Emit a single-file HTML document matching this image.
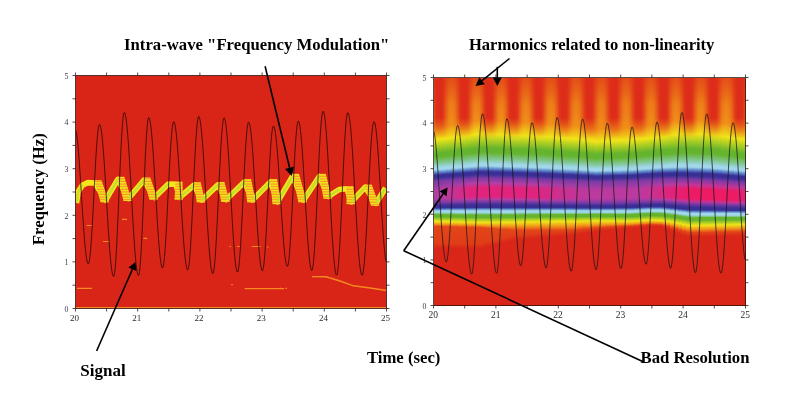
<!DOCTYPE html>
<html><head><meta charset="utf-8"><title>Hilbert vs wavelet spectrum</title>
<style>
html,body{margin:0;padding:0;background:#fff}
body{width:785px;height:402px;overflow:hidden;position:relative}
svg{position:absolute;left:0;top:0;display:block}
text{font-family:"Liberation Serif",serif}
.tk{fill:#2b2b2b}
.ty{font-size:7.8px;fill:#3a3a4a}
.lb{font-size:16.7px;font-weight:bold;fill:#000}
</style></head><body>
<svg width="785" height="402" viewBox="0 0 785 402">
<defs>
<pattern id="stripe" patternUnits="userSpaceOnUse" x="0" y="0" width="8" height="2.6"><rect width="8" height="2.6" fill="#f4e51c"/><rect y="1.5" width="8" height="1.1" fill="#f59222"/></pattern>
<clipPath id="lc"><rect x="76" y="76" width="310.5" height="232.5"/></clipPath>
<linearGradient id="c0" x1="0" y1="78" x2="0" y2="306" gradientUnits="userSpaceOnUse"><stop offset="0.000" stop-color="#ec7218"/><stop offset="0.146" stop-color="#ee8219"/><stop offset="0.215" stop-color="#f09119"/><stop offset="0.271" stop-color="#f0e419"/><stop offset="0.299" stop-color="#aacd23"/><stop offset="0.329" stop-color="#64b42d"/><stop offset="0.347" stop-color="#64b42d"/><stop offset="0.375" stop-color="#82c896"/><stop offset="0.394" stop-color="#a0d7eb"/><stop offset="0.403" stop-color="#a0d7eb"/><stop offset="0.415" stop-color="#5a82c8"/><stop offset="0.426" stop-color="#392f96"/><stop offset="0.437" stop-color="#392f96"/><stop offset="0.452" stop-color="#7d3aa5"/><stop offset="0.474" stop-color="#973ca5"/><stop offset="0.491" stop-color="#b03ea5"/><stop offset="0.508" stop-color="#b03ea5"/><stop offset="0.527" stop-color="#b03ea5"/><stop offset="0.538" stop-color="#973ca5"/><stop offset="0.547" stop-color="#7d3aa5"/><stop offset="0.560" stop-color="#392f96"/><stop offset="0.570" stop-color="#392f96"/><stop offset="0.576" stop-color="#5a82c8"/><stop offset="0.583" stop-color="#a0d7eb"/><stop offset="0.589" stop-color="#a0d7eb"/><stop offset="0.594" stop-color="#82c896"/><stop offset="0.599" stop-color="#64b42d"/><stop offset="0.609" stop-color="#64b42d"/><stop offset="0.618" stop-color="#aacd23"/><stop offset="0.629" stop-color="#f0e419"/><stop offset="0.642" stop-color="#f09119"/><stop offset="0.651" stop-color="#e34618"/><stop offset="0.725" stop-color="#e03d18"/><stop offset="0.747" stop-color="#da2618"/></linearGradient>
<linearGradient id="c1" x1="0" y1="78" x2="0" y2="306" gradientUnits="userSpaceOnUse"><stop offset="0.000" stop-color="#ec7218"/><stop offset="0.144" stop-color="#ee8219"/><stop offset="0.213" stop-color="#f09119"/><stop offset="0.269" stop-color="#f0e419"/><stop offset="0.297" stop-color="#aacd23"/><stop offset="0.327" stop-color="#64b42d"/><stop offset="0.345" stop-color="#64b42d"/><stop offset="0.373" stop-color="#82c896"/><stop offset="0.392" stop-color="#a0d7eb"/><stop offset="0.401" stop-color="#a0d7eb"/><stop offset="0.413" stop-color="#5a82c8"/><stop offset="0.425" stop-color="#392f96"/><stop offset="0.436" stop-color="#392f96"/><stop offset="0.451" stop-color="#7d3aa5"/><stop offset="0.472" stop-color="#993ca5"/><stop offset="0.490" stop-color="#b63da4"/><stop offset="0.507" stop-color="#b63da4"/><stop offset="0.526" stop-color="#b63da4"/><stop offset="0.537" stop-color="#993ca5"/><stop offset="0.547" stop-color="#7d3aa5"/><stop offset="0.560" stop-color="#392f96"/><stop offset="0.570" stop-color="#392f96"/><stop offset="0.576" stop-color="#5a82c8"/><stop offset="0.583" stop-color="#a0d7eb"/><stop offset="0.589" stop-color="#a0d7eb"/><stop offset="0.594" stop-color="#82c896"/><stop offset="0.599" stop-color="#64b42d"/><stop offset="0.609" stop-color="#64b42d"/><stop offset="0.619" stop-color="#aacd23"/><stop offset="0.629" stop-color="#f0e419"/><stop offset="0.642" stop-color="#f09119"/><stop offset="0.651" stop-color="#e34618"/><stop offset="0.725" stop-color="#e03d18"/><stop offset="0.747" stop-color="#da2618"/></linearGradient>
<linearGradient id="c2" x1="0" y1="78" x2="0" y2="306" gradientUnits="userSpaceOnUse"><stop offset="0.000" stop-color="#ec7218"/><stop offset="0.141" stop-color="#ee8219"/><stop offset="0.210" stop-color="#f09119"/><stop offset="0.267" stop-color="#f0e419"/><stop offset="0.295" stop-color="#aacd23"/><stop offset="0.326" stop-color="#64b42d"/><stop offset="0.343" stop-color="#64b42d"/><stop offset="0.371" stop-color="#82c896"/><stop offset="0.391" stop-color="#a0d7eb"/><stop offset="0.400" stop-color="#a0d7eb"/><stop offset="0.412" stop-color="#5a82c8"/><stop offset="0.423" stop-color="#392f96"/><stop offset="0.434" stop-color="#392f96"/><stop offset="0.450" stop-color="#7d3aa5"/><stop offset="0.471" stop-color="#9c3ca5"/><stop offset="0.489" stop-color="#ba3aa0"/><stop offset="0.506" stop-color="#ba3aa0"/><stop offset="0.526" stop-color="#ba3aa0"/><stop offset="0.536" stop-color="#9c3ca5"/><stop offset="0.546" stop-color="#7d3aa5"/><stop offset="0.559" stop-color="#392f96"/><stop offset="0.569" stop-color="#392f96"/><stop offset="0.576" stop-color="#5a82c8"/><stop offset="0.582" stop-color="#a0d7eb"/><stop offset="0.589" stop-color="#a0d7eb"/><stop offset="0.594" stop-color="#82c896"/><stop offset="0.599" stop-color="#64b42d"/><stop offset="0.609" stop-color="#64b42d"/><stop offset="0.619" stop-color="#aacd23"/><stop offset="0.630" stop-color="#f0e419"/><stop offset="0.643" stop-color="#f09119"/><stop offset="0.652" stop-color="#e34618"/><stop offset="0.725" stop-color="#e03d18"/><stop offset="0.747" stop-color="#da2618"/></linearGradient>
<linearGradient id="c3" x1="0" y1="78" x2="0" y2="306" gradientUnits="userSpaceOnUse"><stop offset="0.000" stop-color="#ec7218"/><stop offset="0.138" stop-color="#ee8219"/><stop offset="0.208" stop-color="#f09119"/><stop offset="0.265" stop-color="#f0e419"/><stop offset="0.293" stop-color="#aacd23"/><stop offset="0.324" stop-color="#64b42d"/><stop offset="0.341" stop-color="#64b42d"/><stop offset="0.370" stop-color="#82c896"/><stop offset="0.389" stop-color="#a0d7eb"/><stop offset="0.398" stop-color="#a0d7eb"/><stop offset="0.410" stop-color="#5a82c8"/><stop offset="0.422" stop-color="#392f96"/><stop offset="0.433" stop-color="#392f96"/><stop offset="0.448" stop-color="#7d3aa5"/><stop offset="0.470" stop-color="#9f3ca5"/><stop offset="0.488" stop-color="#bf389c"/><stop offset="0.505" stop-color="#bf389c"/><stop offset="0.525" stop-color="#bf389c"/><stop offset="0.536" stop-color="#9f3ca5"/><stop offset="0.546" stop-color="#7d3aa5"/><stop offset="0.559" stop-color="#392f96"/><stop offset="0.569" stop-color="#392f96"/><stop offset="0.575" stop-color="#5a82c8"/><stop offset="0.582" stop-color="#a0d7eb"/><stop offset="0.589" stop-color="#a0d7eb"/><stop offset="0.594" stop-color="#82c896"/><stop offset="0.600" stop-color="#64b42d"/><stop offset="0.610" stop-color="#64b42d"/><stop offset="0.619" stop-color="#aacd23"/><stop offset="0.630" stop-color="#f0e419"/><stop offset="0.643" stop-color="#f09119"/><stop offset="0.652" stop-color="#e34618"/><stop offset="0.725" stop-color="#e03d18"/><stop offset="0.747" stop-color="#da2618"/></linearGradient>
<linearGradient id="c4" x1="0" y1="78" x2="0" y2="306" gradientUnits="userSpaceOnUse"><stop offset="0.000" stop-color="#ec7218"/><stop offset="0.135" stop-color="#ee8219"/><stop offset="0.205" stop-color="#f09119"/><stop offset="0.262" stop-color="#f0e419"/><stop offset="0.291" stop-color="#aacd23"/><stop offset="0.322" stop-color="#64b42d"/><stop offset="0.339" stop-color="#64b42d"/><stop offset="0.368" stop-color="#82c896"/><stop offset="0.388" stop-color="#a0d7eb"/><stop offset="0.396" stop-color="#a0d7eb"/><stop offset="0.409" stop-color="#5a82c8"/><stop offset="0.421" stop-color="#392f96"/><stop offset="0.432" stop-color="#392f96"/><stop offset="0.447" stop-color="#7d3aa5"/><stop offset="0.469" stop-color="#a23da5"/><stop offset="0.487" stop-color="#c43497"/><stop offset="0.504" stop-color="#c43497"/><stop offset="0.524" stop-color="#c43497"/><stop offset="0.535" stop-color="#a23da5"/><stop offset="0.545" stop-color="#7d3aa5"/><stop offset="0.559" stop-color="#392f96"/><stop offset="0.569" stop-color="#392f96"/><stop offset="0.575" stop-color="#5a82c8"/><stop offset="0.582" stop-color="#a0d7eb"/><stop offset="0.589" stop-color="#a0d7eb"/><stop offset="0.594" stop-color="#82c896"/><stop offset="0.600" stop-color="#64b42d"/><stop offset="0.610" stop-color="#64b42d"/><stop offset="0.620" stop-color="#aacd23"/><stop offset="0.631" stop-color="#f0e419"/><stop offset="0.644" stop-color="#f09119"/><stop offset="0.653" stop-color="#e34618"/><stop offset="0.726" stop-color="#e03d18"/><stop offset="0.747" stop-color="#da2618"/></linearGradient>
<linearGradient id="c5" x1="0" y1="78" x2="0" y2="306" gradientUnits="userSpaceOnUse"><stop offset="0.000" stop-color="#ec7218"/><stop offset="0.132" stop-color="#ee8219"/><stop offset="0.203" stop-color="#f09119"/><stop offset="0.260" stop-color="#f0e419"/><stop offset="0.289" stop-color="#aacd23"/><stop offset="0.320" stop-color="#64b42d"/><stop offset="0.338" stop-color="#64b42d"/><stop offset="0.366" stop-color="#82c896"/><stop offset="0.386" stop-color="#a0d7eb"/><stop offset="0.395" stop-color="#a0d7eb"/><stop offset="0.407" stop-color="#5a82c8"/><stop offset="0.419" stop-color="#392f96"/><stop offset="0.430" stop-color="#392f96"/><stop offset="0.446" stop-color="#7d3aa5"/><stop offset="0.468" stop-color="#a63da5"/><stop offset="0.486" stop-color="#ca3191"/><stop offset="0.503" stop-color="#ca3191"/><stop offset="0.523" stop-color="#ca3191"/><stop offset="0.535" stop-color="#a63da5"/><stop offset="0.545" stop-color="#7d3aa5"/><stop offset="0.558" stop-color="#392f96"/><stop offset="0.569" stop-color="#392f96"/><stop offset="0.575" stop-color="#5a82c8"/><stop offset="0.582" stop-color="#a0d7eb"/><stop offset="0.590" stop-color="#a0d7eb"/><stop offset="0.594" stop-color="#82c896"/><stop offset="0.600" stop-color="#64b42d"/><stop offset="0.610" stop-color="#64b42d"/><stop offset="0.620" stop-color="#aacd23"/><stop offset="0.631" stop-color="#f0e419"/><stop offset="0.644" stop-color="#f09119"/><stop offset="0.653" stop-color="#e34618"/><stop offset="0.726" stop-color="#e03d18"/><stop offset="0.748" stop-color="#da2618"/></linearGradient>
<linearGradient id="c6" x1="0" y1="78" x2="0" y2="306" gradientUnits="userSpaceOnUse"><stop offset="0.000" stop-color="#ec7218"/><stop offset="0.129" stop-color="#ee8219"/><stop offset="0.200" stop-color="#f09119"/><stop offset="0.258" stop-color="#f0e419"/><stop offset="0.287" stop-color="#aacd23"/><stop offset="0.318" stop-color="#64b42d"/><stop offset="0.336" stop-color="#64b42d"/><stop offset="0.365" stop-color="#82c896"/><stop offset="0.385" stop-color="#a0d7eb"/><stop offset="0.393" stop-color="#a0d7eb"/><stop offset="0.406" stop-color="#5a82c8"/><stop offset="0.418" stop-color="#392f96"/><stop offset="0.429" stop-color="#392f96"/><stop offset="0.445" stop-color="#7d3aa5"/><stop offset="0.467" stop-color="#aa3da5"/><stop offset="0.484" stop-color="#d12d8b"/><stop offset="0.502" stop-color="#d12d8b"/><stop offset="0.523" stop-color="#d12d8b"/><stop offset="0.534" stop-color="#aa3da5"/><stop offset="0.544" stop-color="#7d3aa5"/><stop offset="0.558" stop-color="#392f96"/><stop offset="0.569" stop-color="#392f96"/><stop offset="0.575" stop-color="#5a82c8"/><stop offset="0.582" stop-color="#a0d7eb"/><stop offset="0.590" stop-color="#a0d7eb"/><stop offset="0.595" stop-color="#82c896"/><stop offset="0.600" stop-color="#64b42d"/><stop offset="0.610" stop-color="#64b42d"/><stop offset="0.620" stop-color="#aacd23"/><stop offset="0.632" stop-color="#f0e419"/><stop offset="0.645" stop-color="#f09119"/><stop offset="0.654" stop-color="#e34618"/><stop offset="0.726" stop-color="#e03d18"/><stop offset="0.748" stop-color="#da2618"/></linearGradient>
<linearGradient id="c7" x1="0" y1="78" x2="0" y2="306" gradientUnits="userSpaceOnUse"><stop offset="0.000" stop-color="#ec7218"/><stop offset="0.126" stop-color="#ee8219"/><stop offset="0.197" stop-color="#f09119"/><stop offset="0.255" stop-color="#f0e419"/><stop offset="0.285" stop-color="#aacd23"/><stop offset="0.316" stop-color="#64b42d"/><stop offset="0.334" stop-color="#64b42d"/><stop offset="0.363" stop-color="#82c896"/><stop offset="0.383" stop-color="#a0d7eb"/><stop offset="0.392" stop-color="#a0d7eb"/><stop offset="0.404" stop-color="#5a82c8"/><stop offset="0.416" stop-color="#392f96"/><stop offset="0.428" stop-color="#392f96"/><stop offset="0.443" stop-color="#7d3aa5"/><stop offset="0.466" stop-color="#ae3ea5"/><stop offset="0.483" stop-color="#d72986"/><stop offset="0.501" stop-color="#d72986"/><stop offset="0.522" stop-color="#d72986"/><stop offset="0.534" stop-color="#ae3ea5"/><stop offset="0.544" stop-color="#7d3aa5"/><stop offset="0.558" stop-color="#392f96"/><stop offset="0.568" stop-color="#392f96"/><stop offset="0.575" stop-color="#5a82c8"/><stop offset="0.582" stop-color="#a0d7eb"/><stop offset="0.590" stop-color="#a0d7eb"/><stop offset="0.595" stop-color="#82c896"/><stop offset="0.600" stop-color="#64b42d"/><stop offset="0.611" stop-color="#64b42d"/><stop offset="0.621" stop-color="#aacd23"/><stop offset="0.632" stop-color="#f0e419"/><stop offset="0.645" stop-color="#f09119"/><stop offset="0.654" stop-color="#e34618"/><stop offset="0.726" stop-color="#e03d18"/><stop offset="0.748" stop-color="#da2618"/></linearGradient>
<linearGradient id="c8" x1="0" y1="78" x2="0" y2="306" gradientUnits="userSpaceOnUse"><stop offset="0.000" stop-color="#ec7218"/><stop offset="0.122" stop-color="#ee8219"/><stop offset="0.194" stop-color="#f09119"/><stop offset="0.253" stop-color="#f0e419"/><stop offset="0.282" stop-color="#aacd23"/><stop offset="0.314" stop-color="#64b42d"/><stop offset="0.332" stop-color="#64b42d"/><stop offset="0.361" stop-color="#82c896"/><stop offset="0.381" stop-color="#a0d7eb"/><stop offset="0.390" stop-color="#a0d7eb"/><stop offset="0.403" stop-color="#5a82c8"/><stop offset="0.415" stop-color="#392f96"/><stop offset="0.426" stop-color="#392f96"/><stop offset="0.442" stop-color="#7d3aa5"/><stop offset="0.464" stop-color="#b23ea5"/><stop offset="0.483" stop-color="#de2580"/><stop offset="0.501" stop-color="#de2580"/><stop offset="0.521" stop-color="#de2580"/><stop offset="0.533" stop-color="#b23ea5"/><stop offset="0.543" stop-color="#7d3aa5"/><stop offset="0.558" stop-color="#392f96"/><stop offset="0.568" stop-color="#392f96"/><stop offset="0.575" stop-color="#5a82c8"/><stop offset="0.582" stop-color="#a0d7eb"/><stop offset="0.590" stop-color="#a0d7eb"/><stop offset="0.595" stop-color="#82c896"/><stop offset="0.600" stop-color="#64b42d"/><stop offset="0.611" stop-color="#64b42d"/><stop offset="0.621" stop-color="#aacd23"/><stop offset="0.633" stop-color="#f0e419"/><stop offset="0.646" stop-color="#f09119"/><stop offset="0.655" stop-color="#e34618"/><stop offset="0.726" stop-color="#e03d18"/><stop offset="0.748" stop-color="#da2618"/></linearGradient>
<linearGradient id="c9" x1="0" y1="78" x2="0" y2="306" gradientUnits="userSpaceOnUse"><stop offset="0.000" stop-color="#ec7218"/><stop offset="0.119" stop-color="#ee8219"/><stop offset="0.191" stop-color="#f09119"/><stop offset="0.250" stop-color="#f0e419"/><stop offset="0.280" stop-color="#aacd23"/><stop offset="0.311" stop-color="#64b42d"/><stop offset="0.330" stop-color="#64b42d"/><stop offset="0.359" stop-color="#82c896"/><stop offset="0.379" stop-color="#a0d7eb"/><stop offset="0.389" stop-color="#a0d7eb"/><stop offset="0.401" stop-color="#5a82c8"/><stop offset="0.414" stop-color="#392f96"/><stop offset="0.425" stop-color="#392f96"/><stop offset="0.441" stop-color="#7d3aa5"/><stop offset="0.463" stop-color="#b43ea5"/><stop offset="0.482" stop-color="#e1237d"/><stop offset="0.500" stop-color="#e1237d"/><stop offset="0.521" stop-color="#e1237d"/><stop offset="0.532" stop-color="#b43ea5"/><stop offset="0.543" stop-color="#7d3aa5"/><stop offset="0.557" stop-color="#392f96"/><stop offset="0.568" stop-color="#392f96"/><stop offset="0.575" stop-color="#5a82c8"/><stop offset="0.582" stop-color="#a0d7eb"/><stop offset="0.590" stop-color="#a0d7eb"/><stop offset="0.595" stop-color="#82c896"/><stop offset="0.600" stop-color="#64b42d"/><stop offset="0.611" stop-color="#64b42d"/><stop offset="0.621" stop-color="#aacd23"/><stop offset="0.633" stop-color="#f0e419"/><stop offset="0.646" stop-color="#f09119"/><stop offset="0.655" stop-color="#e34618"/><stop offset="0.726" stop-color="#e03d18"/><stop offset="0.748" stop-color="#da2618"/></linearGradient>
<linearGradient id="c10" x1="0" y1="78" x2="0" y2="306" gradientUnits="userSpaceOnUse"><stop offset="0.000" stop-color="#ec7218"/><stop offset="0.115" stop-color="#ee8219"/><stop offset="0.188" stop-color="#f09119"/><stop offset="0.248" stop-color="#f0e419"/><stop offset="0.277" stop-color="#aacd23"/><stop offset="0.309" stop-color="#64b42d"/><stop offset="0.328" stop-color="#64b42d"/><stop offset="0.357" stop-color="#82c896"/><stop offset="0.378" stop-color="#a0d7eb"/><stop offset="0.387" stop-color="#a0d7eb"/><stop offset="0.400" stop-color="#5a82c8"/><stop offset="0.412" stop-color="#392f96"/><stop offset="0.423" stop-color="#392f96"/><stop offset="0.439" stop-color="#7d3aa5"/><stop offset="0.462" stop-color="#b43ea5"/><stop offset="0.481" stop-color="#e1237d"/><stop offset="0.499" stop-color="#e1237d"/><stop offset="0.520" stop-color="#e1237d"/><stop offset="0.532" stop-color="#b43ea5"/><stop offset="0.542" stop-color="#7d3aa5"/><stop offset="0.557" stop-color="#392f96"/><stop offset="0.568" stop-color="#392f96"/><stop offset="0.575" stop-color="#5a82c8"/><stop offset="0.582" stop-color="#a0d7eb"/><stop offset="0.590" stop-color="#a0d7eb"/><stop offset="0.595" stop-color="#82c896"/><stop offset="0.601" stop-color="#64b42d"/><stop offset="0.611" stop-color="#64b42d"/><stop offset="0.622" stop-color="#aacd23"/><stop offset="0.634" stop-color="#f0e419"/><stop offset="0.647" stop-color="#f09119"/><stop offset="0.656" stop-color="#e34618"/><stop offset="0.726" stop-color="#e03d18"/><stop offset="0.748" stop-color="#da2618"/></linearGradient>
<linearGradient id="c11" x1="0" y1="78" x2="0" y2="306" gradientUnits="userSpaceOnUse"><stop offset="0.000" stop-color="#ec7218"/><stop offset="0.112" stop-color="#ee8219"/><stop offset="0.185" stop-color="#f09119"/><stop offset="0.245" stop-color="#f0e419"/><stop offset="0.275" stop-color="#aacd23"/><stop offset="0.307" stop-color="#64b42d"/><stop offset="0.325" stop-color="#64b42d"/><stop offset="0.355" stop-color="#82c896"/><stop offset="0.376" stop-color="#a0d7eb"/><stop offset="0.385" stop-color="#a0d7eb"/><stop offset="0.398" stop-color="#5a82c8"/><stop offset="0.411" stop-color="#392f96"/><stop offset="0.422" stop-color="#392f96"/><stop offset="0.438" stop-color="#7d3aa5"/><stop offset="0.461" stop-color="#b43ea5"/><stop offset="0.480" stop-color="#e1237d"/><stop offset="0.498" stop-color="#e1237d"/><stop offset="0.519" stop-color="#e1237d"/><stop offset="0.531" stop-color="#b43ea5"/><stop offset="0.542" stop-color="#7d3aa5"/><stop offset="0.557" stop-color="#392f96"/><stop offset="0.568" stop-color="#392f96"/><stop offset="0.574" stop-color="#5a82c8"/><stop offset="0.582" stop-color="#a0d7eb"/><stop offset="0.590" stop-color="#a0d7eb"/><stop offset="0.595" stop-color="#82c896"/><stop offset="0.601" stop-color="#64b42d"/><stop offset="0.612" stop-color="#64b42d"/><stop offset="0.622" stop-color="#aacd23"/><stop offset="0.634" stop-color="#f0e419"/><stop offset="0.647" stop-color="#f09119"/><stop offset="0.656" stop-color="#e34618"/><stop offset="0.726" stop-color="#e03d18"/><stop offset="0.748" stop-color="#da2618"/></linearGradient>
<linearGradient id="c12" x1="0" y1="78" x2="0" y2="306" gradientUnits="userSpaceOnUse"><stop offset="0.000" stop-color="#ec7218"/><stop offset="0.112" stop-color="#ee8219"/><stop offset="0.185" stop-color="#f09119"/><stop offset="0.245" stop-color="#f0e419"/><stop offset="0.275" stop-color="#aacd23"/><stop offset="0.307" stop-color="#64b42d"/><stop offset="0.325" stop-color="#64b42d"/><stop offset="0.355" stop-color="#82c896"/><stop offset="0.376" stop-color="#a0d7eb"/><stop offset="0.385" stop-color="#a0d7eb"/><stop offset="0.398" stop-color="#5a82c8"/><stop offset="0.411" stop-color="#392f96"/><stop offset="0.422" stop-color="#392f96"/><stop offset="0.438" stop-color="#7d3aa5"/><stop offset="0.461" stop-color="#b43ea5"/><stop offset="0.480" stop-color="#e1237d"/><stop offset="0.498" stop-color="#e1237d"/><stop offset="0.520" stop-color="#e1237d"/><stop offset="0.531" stop-color="#b43ea5"/><stop offset="0.542" stop-color="#7d3aa5"/><stop offset="0.557" stop-color="#392f96"/><stop offset="0.568" stop-color="#392f96"/><stop offset="0.574" stop-color="#5a82c8"/><stop offset="0.582" stop-color="#a0d7eb"/><stop offset="0.590" stop-color="#a0d7eb"/><stop offset="0.595" stop-color="#82c896"/><stop offset="0.601" stop-color="#64b42d"/><stop offset="0.612" stop-color="#64b42d"/><stop offset="0.622" stop-color="#aacd23"/><stop offset="0.634" stop-color="#f0e419"/><stop offset="0.648" stop-color="#f09119"/><stop offset="0.657" stop-color="#e34618"/><stop offset="0.722" stop-color="#e03d18"/><stop offset="0.744" stop-color="#da2618"/></linearGradient>
<linearGradient id="c13" x1="0" y1="78" x2="0" y2="306" gradientUnits="userSpaceOnUse"><stop offset="0.000" stop-color="#ec7218"/><stop offset="0.113" stop-color="#ee8219"/><stop offset="0.186" stop-color="#f09119"/><stop offset="0.246" stop-color="#f0e419"/><stop offset="0.276" stop-color="#aacd23"/><stop offset="0.308" stop-color="#64b42d"/><stop offset="0.326" stop-color="#64b42d"/><stop offset="0.356" stop-color="#82c896"/><stop offset="0.377" stop-color="#a0d7eb"/><stop offset="0.386" stop-color="#a0d7eb"/><stop offset="0.399" stop-color="#5a82c8"/><stop offset="0.411" stop-color="#392f96"/><stop offset="0.423" stop-color="#392f96"/><stop offset="0.439" stop-color="#7d3aa5"/><stop offset="0.462" stop-color="#b43ea5"/><stop offset="0.480" stop-color="#e1237d"/><stop offset="0.498" stop-color="#e1237d"/><stop offset="0.520" stop-color="#e1237d"/><stop offset="0.532" stop-color="#b43ea5"/><stop offset="0.542" stop-color="#7d3aa5"/><stop offset="0.557" stop-color="#392f96"/><stop offset="0.568" stop-color="#392f96"/><stop offset="0.574" stop-color="#5a82c8"/><stop offset="0.582" stop-color="#a0d7eb"/><stop offset="0.590" stop-color="#a0d7eb"/><stop offset="0.595" stop-color="#82c896"/><stop offset="0.601" stop-color="#64b42d"/><stop offset="0.612" stop-color="#64b42d"/><stop offset="0.622" stop-color="#aacd23"/><stop offset="0.634" stop-color="#f0e419"/><stop offset="0.649" stop-color="#f09119"/><stop offset="0.659" stop-color="#e34618"/><stop offset="0.718" stop-color="#e03d18"/><stop offset="0.740" stop-color="#da2618"/></linearGradient>
<linearGradient id="c14" x1="0" y1="78" x2="0" y2="306" gradientUnits="userSpaceOnUse"><stop offset="0.000" stop-color="#ec7218"/><stop offset="0.114" stop-color="#ee8219"/><stop offset="0.187" stop-color="#f09119"/><stop offset="0.247" stop-color="#f0e419"/><stop offset="0.277" stop-color="#aacd23"/><stop offset="0.309" stop-color="#64b42d"/><stop offset="0.327" stop-color="#64b42d"/><stop offset="0.357" stop-color="#82c896"/><stop offset="0.377" stop-color="#a0d7eb"/><stop offset="0.386" stop-color="#a0d7eb"/><stop offset="0.399" stop-color="#5a82c8"/><stop offset="0.412" stop-color="#392f96"/><stop offset="0.423" stop-color="#392f96"/><stop offset="0.439" stop-color="#7d3aa5"/><stop offset="0.462" stop-color="#b43ea5"/><stop offset="0.480" stop-color="#e1237d"/><stop offset="0.499" stop-color="#e1237d"/><stop offset="0.520" stop-color="#e1237d"/><stop offset="0.532" stop-color="#b43ea5"/><stop offset="0.542" stop-color="#7d3aa5"/><stop offset="0.557" stop-color="#392f96"/><stop offset="0.568" stop-color="#392f96"/><stop offset="0.574" stop-color="#5a82c8"/><stop offset="0.582" stop-color="#a0d7eb"/><stop offset="0.590" stop-color="#a0d7eb"/><stop offset="0.595" stop-color="#82c896"/><stop offset="0.601" stop-color="#64b42d"/><stop offset="0.611" stop-color="#64b42d"/><stop offset="0.622" stop-color="#aacd23"/><stop offset="0.634" stop-color="#f0e419"/><stop offset="0.649" stop-color="#f09119"/><stop offset="0.660" stop-color="#e34618"/><stop offset="0.714" stop-color="#e03d18"/><stop offset="0.736" stop-color="#da2618"/></linearGradient>
<linearGradient id="c15" x1="0" y1="78" x2="0" y2="306" gradientUnits="userSpaceOnUse"><stop offset="0.000" stop-color="#ec7218"/><stop offset="0.115" stop-color="#ee8219"/><stop offset="0.188" stop-color="#f09119"/><stop offset="0.248" stop-color="#f0e419"/><stop offset="0.277" stop-color="#aacd23"/><stop offset="0.309" stop-color="#64b42d"/><stop offset="0.328" stop-color="#64b42d"/><stop offset="0.357" stop-color="#82c896"/><stop offset="0.378" stop-color="#a0d7eb"/><stop offset="0.387" stop-color="#a0d7eb"/><stop offset="0.400" stop-color="#5a82c8"/><stop offset="0.412" stop-color="#392f96"/><stop offset="0.424" stop-color="#392f96"/><stop offset="0.440" stop-color="#7d3aa5"/><stop offset="0.462" stop-color="#b43ea5"/><stop offset="0.481" stop-color="#e1237d"/><stop offset="0.499" stop-color="#e1237d"/><stop offset="0.520" stop-color="#e1237d"/><stop offset="0.532" stop-color="#b43ea5"/><stop offset="0.542" stop-color="#7d3aa5"/><stop offset="0.557" stop-color="#392f96"/><stop offset="0.568" stop-color="#392f96"/><stop offset="0.574" stop-color="#5a82c8"/><stop offset="0.582" stop-color="#a0d7eb"/><stop offset="0.590" stop-color="#a0d7eb"/><stop offset="0.595" stop-color="#82c896"/><stop offset="0.600" stop-color="#64b42d"/><stop offset="0.611" stop-color="#64b42d"/><stop offset="0.622" stop-color="#aacd23"/><stop offset="0.634" stop-color="#f0e419"/><stop offset="0.650" stop-color="#f09119"/><stop offset="0.661" stop-color="#e34618"/><stop offset="0.710" stop-color="#e03d18"/><stop offset="0.732" stop-color="#da2618"/></linearGradient>
<linearGradient id="c16" x1="0" y1="78" x2="0" y2="306" gradientUnits="userSpaceOnUse"><stop offset="0.000" stop-color="#ec7218"/><stop offset="0.117" stop-color="#ee8219"/><stop offset="0.189" stop-color="#f09119"/><stop offset="0.249" stop-color="#f0e419"/><stop offset="0.278" stop-color="#aacd23"/><stop offset="0.310" stop-color="#64b42d"/><stop offset="0.328" stop-color="#64b42d"/><stop offset="0.358" stop-color="#82c896"/><stop offset="0.378" stop-color="#a0d7eb"/><stop offset="0.388" stop-color="#a0d7eb"/><stop offset="0.400" stop-color="#5a82c8"/><stop offset="0.413" stop-color="#392f96"/><stop offset="0.424" stop-color="#392f96"/><stop offset="0.440" stop-color="#7d3aa5"/><stop offset="0.463" stop-color="#b43ea5"/><stop offset="0.481" stop-color="#e1237d"/><stop offset="0.499" stop-color="#e1237d"/><stop offset="0.520" stop-color="#e1237d"/><stop offset="0.532" stop-color="#b43ea5"/><stop offset="0.543" stop-color="#7d3aa5"/><stop offset="0.557" stop-color="#392f96"/><stop offset="0.568" stop-color="#392f96"/><stop offset="0.575" stop-color="#5a82c8"/><stop offset="0.582" stop-color="#a0d7eb"/><stop offset="0.590" stop-color="#a0d7eb"/><stop offset="0.595" stop-color="#82c896"/><stop offset="0.600" stop-color="#64b42d"/><stop offset="0.611" stop-color="#64b42d"/><stop offset="0.622" stop-color="#aacd23"/><stop offset="0.633" stop-color="#f0e419"/><stop offset="0.650" stop-color="#f09119"/><stop offset="0.663" stop-color="#e34618"/><stop offset="0.705" stop-color="#e03d18"/><stop offset="0.727" stop-color="#da2618"/></linearGradient>
<linearGradient id="c17" x1="0" y1="78" x2="0" y2="306" gradientUnits="userSpaceOnUse"><stop offset="0.000" stop-color="#ec7218"/><stop offset="0.118" stop-color="#ee8219"/><stop offset="0.191" stop-color="#f09119"/><stop offset="0.250" stop-color="#f0e419"/><stop offset="0.279" stop-color="#aacd23"/><stop offset="0.311" stop-color="#64b42d"/><stop offset="0.329" stop-color="#64b42d"/><stop offset="0.359" stop-color="#82c896"/><stop offset="0.379" stop-color="#a0d7eb"/><stop offset="0.388" stop-color="#a0d7eb"/><stop offset="0.401" stop-color="#5a82c8"/><stop offset="0.413" stop-color="#392f96"/><stop offset="0.425" stop-color="#392f96"/><stop offset="0.440" stop-color="#7d3aa5"/><stop offset="0.463" stop-color="#b43ea5"/><stop offset="0.481" stop-color="#e1237d"/><stop offset="0.499" stop-color="#e1237d"/><stop offset="0.521" stop-color="#e1237d"/><stop offset="0.532" stop-color="#b43ea5"/><stop offset="0.543" stop-color="#7d3aa5"/><stop offset="0.557" stop-color="#392f96"/><stop offset="0.568" stop-color="#392f96"/><stop offset="0.575" stop-color="#5a82c8"/><stop offset="0.582" stop-color="#a0d7eb"/><stop offset="0.590" stop-color="#a0d7eb"/><stop offset="0.595" stop-color="#82c896"/><stop offset="0.600" stop-color="#64b42d"/><stop offset="0.611" stop-color="#64b42d"/><stop offset="0.621" stop-color="#aacd23"/><stop offset="0.633" stop-color="#f0e419"/><stop offset="0.651" stop-color="#f09119"/><stop offset="0.664" stop-color="#e34618"/><stop offset="0.701" stop-color="#e03d18"/><stop offset="0.723" stop-color="#da2618"/></linearGradient>
<linearGradient id="c18" x1="0" y1="78" x2="0" y2="306" gradientUnits="userSpaceOnUse"><stop offset="0.000" stop-color="#ec7218"/><stop offset="0.119" stop-color="#ee8219"/><stop offset="0.192" stop-color="#f09119"/><stop offset="0.251" stop-color="#f0e419"/><stop offset="0.280" stop-color="#aacd23"/><stop offset="0.312" stop-color="#64b42d"/><stop offset="0.330" stop-color="#64b42d"/><stop offset="0.359" stop-color="#82c896"/><stop offset="0.380" stop-color="#a0d7eb"/><stop offset="0.389" stop-color="#a0d7eb"/><stop offset="0.401" stop-color="#5a82c8"/><stop offset="0.414" stop-color="#392f96"/><stop offset="0.425" stop-color="#392f96"/><stop offset="0.441" stop-color="#7d3aa5"/><stop offset="0.464" stop-color="#b43ea5"/><stop offset="0.482" stop-color="#e1237d"/><stop offset="0.500" stop-color="#e1237d"/><stop offset="0.521" stop-color="#e1237d"/><stop offset="0.533" stop-color="#b43ea5"/><stop offset="0.543" stop-color="#7d3aa5"/><stop offset="0.557" stop-color="#392f96"/><stop offset="0.568" stop-color="#392f96"/><stop offset="0.575" stop-color="#5a82c8"/><stop offset="0.582" stop-color="#a0d7eb"/><stop offset="0.590" stop-color="#a0d7eb"/><stop offset="0.595" stop-color="#82c896"/><stop offset="0.600" stop-color="#64b42d"/><stop offset="0.611" stop-color="#64b42d"/><stop offset="0.621" stop-color="#aacd23"/><stop offset="0.633" stop-color="#f0e419"/><stop offset="0.651" stop-color="#f09119"/><stop offset="0.665" stop-color="#e34618"/><stop offset="0.697" stop-color="#e03d18"/><stop offset="0.719" stop-color="#da2618"/></linearGradient>
<linearGradient id="c19" x1="0" y1="78" x2="0" y2="306" gradientUnits="userSpaceOnUse"><stop offset="0.000" stop-color="#ec7218"/><stop offset="0.120" stop-color="#ee8219"/><stop offset="0.193" stop-color="#f09119"/><stop offset="0.251" stop-color="#f0e419"/><stop offset="0.281" stop-color="#aacd23"/><stop offset="0.312" stop-color="#64b42d"/><stop offset="0.331" stop-color="#64b42d"/><stop offset="0.360" stop-color="#82c896"/><stop offset="0.380" stop-color="#a0d7eb"/><stop offset="0.389" stop-color="#a0d7eb"/><stop offset="0.402" stop-color="#5a82c8"/><stop offset="0.414" stop-color="#392f96"/><stop offset="0.426" stop-color="#392f96"/><stop offset="0.441" stop-color="#7d3aa5"/><stop offset="0.464" stop-color="#b43ea5"/><stop offset="0.482" stop-color="#e1237d"/><stop offset="0.500" stop-color="#e1237d"/><stop offset="0.521" stop-color="#e1237d"/><stop offset="0.533" stop-color="#b43ea5"/><stop offset="0.543" stop-color="#7d3aa5"/><stop offset="0.557" stop-color="#392f96"/><stop offset="0.568" stop-color="#392f96"/><stop offset="0.575" stop-color="#5a82c8"/><stop offset="0.582" stop-color="#a0d7eb"/><stop offset="0.590" stop-color="#a0d7eb"/><stop offset="0.595" stop-color="#82c896"/><stop offset="0.600" stop-color="#64b42d"/><stop offset="0.611" stop-color="#64b42d"/><stop offset="0.621" stop-color="#aacd23"/><stop offset="0.633" stop-color="#f0e419"/><stop offset="0.652" stop-color="#f09119"/><stop offset="0.667" stop-color="#e34618"/><stop offset="0.693" stop-color="#e03d18"/><stop offset="0.715" stop-color="#da2618"/></linearGradient>
<linearGradient id="c20" x1="0" y1="78" x2="0" y2="306" gradientUnits="userSpaceOnUse"><stop offset="0.000" stop-color="#ec7218"/><stop offset="0.121" stop-color="#ee8219"/><stop offset="0.193" stop-color="#f09119"/><stop offset="0.252" stop-color="#f0e419"/><stop offset="0.281" stop-color="#aacd23"/><stop offset="0.313" stop-color="#64b42d"/><stop offset="0.331" stop-color="#64b42d"/><stop offset="0.360" stop-color="#82c896"/><stop offset="0.381" stop-color="#a0d7eb"/><stop offset="0.390" stop-color="#a0d7eb"/><stop offset="0.403" stop-color="#5a82c8"/><stop offset="0.415" stop-color="#392f96"/><stop offset="0.426" stop-color="#392f96"/><stop offset="0.442" stop-color="#7d3aa5"/><stop offset="0.465" stop-color="#b43ea5"/><stop offset="0.483" stop-color="#e1237d"/><stop offset="0.501" stop-color="#e1237d"/><stop offset="0.522" stop-color="#e1237d"/><stop offset="0.533" stop-color="#b43ea5"/><stop offset="0.543" stop-color="#7d3aa5"/><stop offset="0.558" stop-color="#392f96"/><stop offset="0.568" stop-color="#392f96"/><stop offset="0.575" stop-color="#5a82c8"/><stop offset="0.582" stop-color="#a0d7eb"/><stop offset="0.589" stop-color="#a0d7eb"/><stop offset="0.595" stop-color="#82c896"/><stop offset="0.600" stop-color="#64b42d"/><stop offset="0.611" stop-color="#64b42d"/><stop offset="0.621" stop-color="#aacd23"/><stop offset="0.632" stop-color="#f0e419"/><stop offset="0.652" stop-color="#f09119"/><stop offset="0.668" stop-color="#e34618"/><stop offset="0.689" stop-color="#e03d18"/><stop offset="0.711" stop-color="#da2618"/></linearGradient>
<linearGradient id="c21" x1="0" y1="78" x2="0" y2="306" gradientUnits="userSpaceOnUse"><stop offset="0.000" stop-color="#ec7218"/><stop offset="0.121" stop-color="#ee8219"/><stop offset="0.194" stop-color="#f09119"/><stop offset="0.252" stop-color="#f0e419"/><stop offset="0.282" stop-color="#aacd23"/><stop offset="0.314" stop-color="#64b42d"/><stop offset="0.332" stop-color="#64b42d"/><stop offset="0.361" stop-color="#82c896"/><stop offset="0.381" stop-color="#a0d7eb"/><stop offset="0.390" stop-color="#a0d7eb"/><stop offset="0.403" stop-color="#5a82c8"/><stop offset="0.415" stop-color="#392f96"/><stop offset="0.427" stop-color="#392f96"/><stop offset="0.442" stop-color="#7d3aa5"/><stop offset="0.465" stop-color="#b43ea5"/><stop offset="0.483" stop-color="#e1237d"/><stop offset="0.501" stop-color="#e1237d"/><stop offset="0.522" stop-color="#e1237d"/><stop offset="0.533" stop-color="#b43ea5"/><stop offset="0.544" stop-color="#7d3aa5"/><stop offset="0.558" stop-color="#392f96"/><stop offset="0.568" stop-color="#392f96"/><stop offset="0.575" stop-color="#5a82c8"/><stop offset="0.582" stop-color="#a0d7eb"/><stop offset="0.589" stop-color="#a0d7eb"/><stop offset="0.594" stop-color="#82c896"/><stop offset="0.600" stop-color="#64b42d"/><stop offset="0.611" stop-color="#64b42d"/><stop offset="0.621" stop-color="#aacd23"/><stop offset="0.632" stop-color="#f0e419"/><stop offset="0.652" stop-color="#f09119"/><stop offset="0.668" stop-color="#e34618"/><stop offset="0.688" stop-color="#e03d18"/><stop offset="0.709" stop-color="#da2618"/></linearGradient>
<linearGradient id="c22" x1="0" y1="78" x2="0" y2="306" gradientUnits="userSpaceOnUse"><stop offset="0.000" stop-color="#ec7218"/><stop offset="0.122" stop-color="#ee8219"/><stop offset="0.194" stop-color="#f09119"/><stop offset="0.253" stop-color="#f0e419"/><stop offset="0.282" stop-color="#aacd23"/><stop offset="0.314" stop-color="#64b42d"/><stop offset="0.332" stop-color="#64b42d"/><stop offset="0.362" stop-color="#82c896"/><stop offset="0.382" stop-color="#a0d7eb"/><stop offset="0.391" stop-color="#a0d7eb"/><stop offset="0.404" stop-color="#5a82c8"/><stop offset="0.416" stop-color="#392f96"/><stop offset="0.427" stop-color="#392f96"/><stop offset="0.443" stop-color="#7d3aa5"/><stop offset="0.466" stop-color="#b43ea5"/><stop offset="0.484" stop-color="#e1237d"/><stop offset="0.502" stop-color="#e1237d"/><stop offset="0.522" stop-color="#e1237d"/><stop offset="0.534" stop-color="#b43ea5"/><stop offset="0.544" stop-color="#7d3aa5"/><stop offset="0.558" stop-color="#392f96"/><stop offset="0.568" stop-color="#392f96"/><stop offset="0.575" stop-color="#5a82c8"/><stop offset="0.582" stop-color="#a0d7eb"/><stop offset="0.589" stop-color="#a0d7eb"/><stop offset="0.594" stop-color="#82c896"/><stop offset="0.600" stop-color="#64b42d"/><stop offset="0.610" stop-color="#64b42d"/><stop offset="0.620" stop-color="#aacd23"/><stop offset="0.632" stop-color="#f0e419"/><stop offset="0.652" stop-color="#f09119"/><stop offset="0.668" stop-color="#e34618"/><stop offset="0.687" stop-color="#e03d18"/><stop offset="0.708" stop-color="#da2618"/></linearGradient>
<linearGradient id="c23" x1="0" y1="78" x2="0" y2="306" gradientUnits="userSpaceOnUse"><stop offset="0.000" stop-color="#ec7218"/><stop offset="0.122" stop-color="#ee8219"/><stop offset="0.195" stop-color="#f09119"/><stop offset="0.254" stop-color="#f0e419"/><stop offset="0.283" stop-color="#aacd23"/><stop offset="0.315" stop-color="#64b42d"/><stop offset="0.333" stop-color="#64b42d"/><stop offset="0.362" stop-color="#82c896"/><stop offset="0.383" stop-color="#a0d7eb"/><stop offset="0.392" stop-color="#a0d7eb"/><stop offset="0.404" stop-color="#5a82c8"/><stop offset="0.416" stop-color="#392f96"/><stop offset="0.428" stop-color="#392f96"/><stop offset="0.444" stop-color="#7d3aa5"/><stop offset="0.466" stop-color="#b43ea5"/><stop offset="0.484" stop-color="#e1237d"/><stop offset="0.502" stop-color="#e1237d"/><stop offset="0.523" stop-color="#e1237d"/><stop offset="0.534" stop-color="#b43ea5"/><stop offset="0.544" stop-color="#7d3aa5"/><stop offset="0.558" stop-color="#392f96"/><stop offset="0.569" stop-color="#392f96"/><stop offset="0.575" stop-color="#5a82c8"/><stop offset="0.582" stop-color="#a0d7eb"/><stop offset="0.589" stop-color="#a0d7eb"/><stop offset="0.594" stop-color="#82c896"/><stop offset="0.600" stop-color="#64b42d"/><stop offset="0.610" stop-color="#64b42d"/><stop offset="0.620" stop-color="#aacd23"/><stop offset="0.631" stop-color="#f0e419"/><stop offset="0.652" stop-color="#f09119"/><stop offset="0.668" stop-color="#e34618"/><stop offset="0.685" stop-color="#e03d18"/><stop offset="0.706" stop-color="#da2618"/></linearGradient>
<linearGradient id="c24" x1="0" y1="78" x2="0" y2="306" gradientUnits="userSpaceOnUse"><stop offset="0.000" stop-color="#ec7218"/><stop offset="0.123" stop-color="#ee8219"/><stop offset="0.195" stop-color="#f09119"/><stop offset="0.254" stop-color="#f0e419"/><stop offset="0.284" stop-color="#aacd23"/><stop offset="0.315" stop-color="#64b42d"/><stop offset="0.333" stop-color="#64b42d"/><stop offset="0.363" stop-color="#82c896"/><stop offset="0.383" stop-color="#a0d7eb"/><stop offset="0.392" stop-color="#a0d7eb"/><stop offset="0.405" stop-color="#5a82c8"/><stop offset="0.417" stop-color="#392f96"/><stop offset="0.428" stop-color="#392f96"/><stop offset="0.444" stop-color="#7d3aa5"/><stop offset="0.467" stop-color="#b33ea5"/><stop offset="0.485" stop-color="#e0247e"/><stop offset="0.503" stop-color="#e0247e"/><stop offset="0.523" stop-color="#e0247e"/><stop offset="0.534" stop-color="#b33ea5"/><stop offset="0.544" stop-color="#7d3aa5"/><stop offset="0.558" stop-color="#392f96"/><stop offset="0.569" stop-color="#392f96"/><stop offset="0.575" stop-color="#5a82c8"/><stop offset="0.582" stop-color="#a0d7eb"/><stop offset="0.589" stop-color="#a0d7eb"/><stop offset="0.594" stop-color="#82c896"/><stop offset="0.600" stop-color="#64b42d"/><stop offset="0.610" stop-color="#64b42d"/><stop offset="0.620" stop-color="#aacd23"/><stop offset="0.631" stop-color="#f0e419"/><stop offset="0.652" stop-color="#f09119"/><stop offset="0.668" stop-color="#e34618"/><stop offset="0.684" stop-color="#e03d18"/><stop offset="0.705" stop-color="#da2618"/></linearGradient>
<linearGradient id="c25" x1="0" y1="78" x2="0" y2="306" gradientUnits="userSpaceOnUse"><stop offset="0.000" stop-color="#ec7218"/><stop offset="0.124" stop-color="#ee8219"/><stop offset="0.196" stop-color="#f09119"/><stop offset="0.255" stop-color="#f0e419"/><stop offset="0.284" stop-color="#aacd23"/><stop offset="0.316" stop-color="#64b42d"/><stop offset="0.334" stop-color="#64b42d"/><stop offset="0.363" stop-color="#82c896"/><stop offset="0.384" stop-color="#a0d7eb"/><stop offset="0.393" stop-color="#a0d7eb"/><stop offset="0.405" stop-color="#5a82c8"/><stop offset="0.418" stop-color="#392f96"/><stop offset="0.429" stop-color="#392f96"/><stop offset="0.445" stop-color="#7d3aa5"/><stop offset="0.467" stop-color="#b23ea5"/><stop offset="0.485" stop-color="#dd2580"/><stop offset="0.504" stop-color="#dd2580"/><stop offset="0.524" stop-color="#dd2580"/><stop offset="0.535" stop-color="#b23ea5"/><stop offset="0.545" stop-color="#7d3aa5"/><stop offset="0.558" stop-color="#392f96"/><stop offset="0.569" stop-color="#392f96"/><stop offset="0.575" stop-color="#5a82c8"/><stop offset="0.582" stop-color="#a0d7eb"/><stop offset="0.589" stop-color="#a0d7eb"/><stop offset="0.594" stop-color="#82c896"/><stop offset="0.600" stop-color="#64b42d"/><stop offset="0.610" stop-color="#64b42d"/><stop offset="0.620" stop-color="#aacd23"/><stop offset="0.631" stop-color="#f0e419"/><stop offset="0.651" stop-color="#f09119"/><stop offset="0.668" stop-color="#e34618"/><stop offset="0.683" stop-color="#e03d18"/><stop offset="0.703" stop-color="#da2618"/></linearGradient>
<linearGradient id="c26" x1="0" y1="78" x2="0" y2="306" gradientUnits="userSpaceOnUse"><stop offset="0.000" stop-color="#ec7218"/><stop offset="0.124" stop-color="#ee8219"/><stop offset="0.197" stop-color="#f09119"/><stop offset="0.255" stop-color="#f0e419"/><stop offset="0.285" stop-color="#aacd23"/><stop offset="0.316" stop-color="#64b42d"/><stop offset="0.334" stop-color="#64b42d"/><stop offset="0.364" stop-color="#82c896"/><stop offset="0.384" stop-color="#a0d7eb"/><stop offset="0.393" stop-color="#a0d7eb"/><stop offset="0.406" stop-color="#5a82c8"/><stop offset="0.418" stop-color="#392f96"/><stop offset="0.429" stop-color="#392f96"/><stop offset="0.445" stop-color="#7d3aa5"/><stop offset="0.468" stop-color="#b03ea5"/><stop offset="0.486" stop-color="#db2783"/><stop offset="0.504" stop-color="#db2783"/><stop offset="0.524" stop-color="#db2783"/><stop offset="0.535" stop-color="#b03ea5"/><stop offset="0.545" stop-color="#7d3aa5"/><stop offset="0.559" stop-color="#392f96"/><stop offset="0.569" stop-color="#392f96"/><stop offset="0.575" stop-color="#5a82c8"/><stop offset="0.582" stop-color="#a0d7eb"/><stop offset="0.589" stop-color="#a0d7eb"/><stop offset="0.594" stop-color="#82c896"/><stop offset="0.599" stop-color="#64b42d"/><stop offset="0.610" stop-color="#64b42d"/><stop offset="0.619" stop-color="#aacd23"/><stop offset="0.631" stop-color="#f0e419"/><stop offset="0.651" stop-color="#f09119"/><stop offset="0.668" stop-color="#e34618"/><stop offset="0.682" stop-color="#e03d18"/><stop offset="0.701" stop-color="#da2618"/></linearGradient>
<linearGradient id="c27" x1="0" y1="78" x2="0" y2="306" gradientUnits="userSpaceOnUse"><stop offset="0.000" stop-color="#ec7218"/><stop offset="0.125" stop-color="#ee8219"/><stop offset="0.198" stop-color="#f09119"/><stop offset="0.256" stop-color="#f0e419"/><stop offset="0.286" stop-color="#aacd23"/><stop offset="0.317" stop-color="#64b42d"/><stop offset="0.335" stop-color="#64b42d"/><stop offset="0.365" stop-color="#82c896"/><stop offset="0.385" stop-color="#a0d7eb"/><stop offset="0.394" stop-color="#a0d7eb"/><stop offset="0.407" stop-color="#5a82c8"/><stop offset="0.419" stop-color="#392f96"/><stop offset="0.430" stop-color="#392f96"/><stop offset="0.446" stop-color="#7d3aa5"/><stop offset="0.468" stop-color="#ae3ea5"/><stop offset="0.487" stop-color="#d82885"/><stop offset="0.505" stop-color="#d82885"/><stop offset="0.524" stop-color="#d82885"/><stop offset="0.535" stop-color="#ae3ea5"/><stop offset="0.545" stop-color="#7d3aa5"/><stop offset="0.559" stop-color="#392f96"/><stop offset="0.569" stop-color="#392f96"/><stop offset="0.575" stop-color="#5a82c8"/><stop offset="0.582" stop-color="#a0d7eb"/><stop offset="0.589" stop-color="#a0d7eb"/><stop offset="0.594" stop-color="#82c896"/><stop offset="0.599" stop-color="#64b42d"/><stop offset="0.610" stop-color="#64b42d"/><stop offset="0.619" stop-color="#aacd23"/><stop offset="0.630" stop-color="#f0e419"/><stop offset="0.651" stop-color="#f09119"/><stop offset="0.668" stop-color="#e34618"/><stop offset="0.680" stop-color="#e03d18"/><stop offset="0.700" stop-color="#da2618"/></linearGradient>
<linearGradient id="c28" x1="0" y1="78" x2="0" y2="306" gradientUnits="userSpaceOnUse"><stop offset="0.000" stop-color="#ec7218"/><stop offset="0.127" stop-color="#ee8219"/><stop offset="0.199" stop-color="#f09119"/><stop offset="0.258" stop-color="#f0e419"/><stop offset="0.287" stop-color="#aacd23"/><stop offset="0.318" stop-color="#64b42d"/><stop offset="0.336" stop-color="#64b42d"/><stop offset="0.366" stop-color="#82c896"/><stop offset="0.386" stop-color="#a0d7eb"/><stop offset="0.395" stop-color="#a0d7eb"/><stop offset="0.407" stop-color="#5a82c8"/><stop offset="0.420" stop-color="#392f96"/><stop offset="0.431" stop-color="#392f96"/><stop offset="0.447" stop-color="#7d3aa5"/><stop offset="0.469" stop-color="#ad3da5"/><stop offset="0.487" stop-color="#d52a87"/><stop offset="0.505" stop-color="#d52a87"/><stop offset="0.525" stop-color="#d52a87"/><stop offset="0.536" stop-color="#ad3da5"/><stop offset="0.545" stop-color="#7d3aa5"/><stop offset="0.559" stop-color="#392f96"/><stop offset="0.569" stop-color="#392f96"/><stop offset="0.575" stop-color="#5a82c8"/><stop offset="0.582" stop-color="#a0d7eb"/><stop offset="0.589" stop-color="#a0d7eb"/><stop offset="0.594" stop-color="#82c896"/><stop offset="0.599" stop-color="#64b42d"/><stop offset="0.609" stop-color="#64b42d"/><stop offset="0.619" stop-color="#aacd23"/><stop offset="0.630" stop-color="#f0e419"/><stop offset="0.651" stop-color="#f09119"/><stop offset="0.668" stop-color="#e34618"/><stop offset="0.679" stop-color="#e03d18"/><stop offset="0.698" stop-color="#da2618"/></linearGradient>
<linearGradient id="c29" x1="0" y1="78" x2="0" y2="306" gradientUnits="userSpaceOnUse"><stop offset="0.000" stop-color="#ec7218"/><stop offset="0.129" stop-color="#ee8219"/><stop offset="0.201" stop-color="#f09119"/><stop offset="0.259" stop-color="#f0e419"/><stop offset="0.288" stop-color="#aacd23"/><stop offset="0.320" stop-color="#64b42d"/><stop offset="0.338" stop-color="#64b42d"/><stop offset="0.367" stop-color="#82c896"/><stop offset="0.387" stop-color="#a0d7eb"/><stop offset="0.396" stop-color="#a0d7eb"/><stop offset="0.408" stop-color="#5a82c8"/><stop offset="0.420" stop-color="#392f96"/><stop offset="0.432" stop-color="#392f96"/><stop offset="0.447" stop-color="#7d3aa5"/><stop offset="0.470" stop-color="#ab3da5"/><stop offset="0.488" stop-color="#d32b8a"/><stop offset="0.505" stop-color="#d32b8a"/><stop offset="0.525" stop-color="#d32b8a"/><stop offset="0.536" stop-color="#ab3da5"/><stop offset="0.546" stop-color="#7d3aa5"/><stop offset="0.559" stop-color="#392f96"/><stop offset="0.569" stop-color="#392f96"/><stop offset="0.575" stop-color="#5a82c8"/><stop offset="0.582" stop-color="#a0d7eb"/><stop offset="0.589" stop-color="#a0d7eb"/><stop offset="0.594" stop-color="#82c896"/><stop offset="0.599" stop-color="#64b42d"/><stop offset="0.609" stop-color="#64b42d"/><stop offset="0.619" stop-color="#aacd23"/><stop offset="0.630" stop-color="#f0e419"/><stop offset="0.651" stop-color="#f09119"/><stop offset="0.668" stop-color="#e34618"/><stop offset="0.678" stop-color="#e03d18"/><stop offset="0.697" stop-color="#da2618"/></linearGradient>
<linearGradient id="c30" x1="0" y1="78" x2="0" y2="306" gradientUnits="userSpaceOnUse"><stop offset="0.000" stop-color="#ec7218"/><stop offset="0.131" stop-color="#ee8219"/><stop offset="0.203" stop-color="#f09119"/><stop offset="0.261" stop-color="#f0e419"/><stop offset="0.290" stop-color="#aacd23"/><stop offset="0.321" stop-color="#64b42d"/><stop offset="0.339" stop-color="#64b42d"/><stop offset="0.368" stop-color="#82c896"/><stop offset="0.388" stop-color="#a0d7eb"/><stop offset="0.397" stop-color="#a0d7eb"/><stop offset="0.409" stop-color="#5a82c8"/><stop offset="0.421" stop-color="#392f96"/><stop offset="0.432" stop-color="#392f96"/><stop offset="0.448" stop-color="#7d3aa5"/><stop offset="0.470" stop-color="#aa3da5"/><stop offset="0.488" stop-color="#d02d8c"/><stop offset="0.506" stop-color="#d02d8c"/><stop offset="0.525" stop-color="#d02d8c"/><stop offset="0.536" stop-color="#aa3da5"/><stop offset="0.546" stop-color="#7d3aa5"/><stop offset="0.559" stop-color="#392f96"/><stop offset="0.569" stop-color="#392f96"/><stop offset="0.575" stop-color="#5a82c8"/><stop offset="0.582" stop-color="#a0d7eb"/><stop offset="0.589" stop-color="#a0d7eb"/><stop offset="0.594" stop-color="#82c896"/><stop offset="0.599" stop-color="#64b42d"/><stop offset="0.609" stop-color="#64b42d"/><stop offset="0.619" stop-color="#aacd23"/><stop offset="0.629" stop-color="#f0e419"/><stop offset="0.651" stop-color="#f09119"/><stop offset="0.668" stop-color="#e34618"/><stop offset="0.677" stop-color="#e03d18"/><stop offset="0.695" stop-color="#da2618"/></linearGradient>
<linearGradient id="c31" x1="0" y1="78" x2="0" y2="306" gradientUnits="userSpaceOnUse"><stop offset="0.000" stop-color="#ec7218"/><stop offset="0.133" stop-color="#ee8219"/><stop offset="0.204" stop-color="#f09119"/><stop offset="0.262" stop-color="#f0e419"/><stop offset="0.291" stop-color="#aacd23"/><stop offset="0.322" stop-color="#64b42d"/><stop offset="0.340" stop-color="#64b42d"/><stop offset="0.369" stop-color="#82c896"/><stop offset="0.389" stop-color="#a0d7eb"/><stop offset="0.398" stop-color="#a0d7eb"/><stop offset="0.410" stop-color="#5a82c8"/><stop offset="0.422" stop-color="#392f96"/><stop offset="0.433" stop-color="#392f96"/><stop offset="0.449" stop-color="#7d3aa5"/><stop offset="0.471" stop-color="#a83da5"/><stop offset="0.489" stop-color="#ce2f8e"/><stop offset="0.506" stop-color="#ce2f8e"/><stop offset="0.526" stop-color="#ce2f8e"/><stop offset="0.537" stop-color="#a83da5"/><stop offset="0.546" stop-color="#7d3aa5"/><stop offset="0.559" stop-color="#392f96"/><stop offset="0.569" stop-color="#392f96"/><stop offset="0.575" stop-color="#5a82c8"/><stop offset="0.582" stop-color="#a0d7eb"/><stop offset="0.589" stop-color="#a0d7eb"/><stop offset="0.594" stop-color="#82c896"/><stop offset="0.599" stop-color="#64b42d"/><stop offset="0.609" stop-color="#64b42d"/><stop offset="0.618" stop-color="#aacd23"/><stop offset="0.629" stop-color="#f0e419"/><stop offset="0.651" stop-color="#f09119"/><stop offset="0.668" stop-color="#e34618"/><stop offset="0.675" stop-color="#e03d18"/><stop offset="0.694" stop-color="#da2618"/></linearGradient>
<linearGradient id="c32" x1="0" y1="78" x2="0" y2="306" gradientUnits="userSpaceOnUse"><stop offset="0.000" stop-color="#ec7218"/><stop offset="0.135" stop-color="#ee8219"/><stop offset="0.206" stop-color="#f09119"/><stop offset="0.264" stop-color="#f0e419"/><stop offset="0.292" stop-color="#aacd23"/><stop offset="0.323" stop-color="#64b42d"/><stop offset="0.341" stop-color="#64b42d"/><stop offset="0.370" stop-color="#82c896"/><stop offset="0.390" stop-color="#a0d7eb"/><stop offset="0.398" stop-color="#a0d7eb"/><stop offset="0.411" stop-color="#5a82c8"/><stop offset="0.423" stop-color="#392f96"/><stop offset="0.434" stop-color="#392f96"/><stop offset="0.449" stop-color="#7d3aa5"/><stop offset="0.471" stop-color="#a73da5"/><stop offset="0.489" stop-color="#cb3090"/><stop offset="0.507" stop-color="#cb3090"/><stop offset="0.526" stop-color="#cb3090"/><stop offset="0.537" stop-color="#a73da5"/><stop offset="0.546" stop-color="#7d3aa5"/><stop offset="0.560" stop-color="#392f96"/><stop offset="0.569" stop-color="#392f96"/><stop offset="0.575" stop-color="#5a82c8"/><stop offset="0.582" stop-color="#a0d7eb"/><stop offset="0.589" stop-color="#a0d7eb"/><stop offset="0.594" stop-color="#82c896"/><stop offset="0.599" stop-color="#64b42d"/><stop offset="0.609" stop-color="#64b42d"/><stop offset="0.618" stop-color="#aacd23"/><stop offset="0.629" stop-color="#f0e419"/><stop offset="0.651" stop-color="#f09119"/><stop offset="0.668" stop-color="#e34618"/><stop offset="0.674" stop-color="#e03d18"/><stop offset="0.692" stop-color="#da2618"/></linearGradient>
<linearGradient id="c33" x1="0" y1="78" x2="0" y2="306" gradientUnits="userSpaceOnUse"><stop offset="0.000" stop-color="#ec7218"/><stop offset="0.137" stop-color="#ee8219"/><stop offset="0.208" stop-color="#f09119"/><stop offset="0.265" stop-color="#f0e419"/><stop offset="0.294" stop-color="#aacd23"/><stop offset="0.324" stop-color="#64b42d"/><stop offset="0.342" stop-color="#64b42d"/><stop offset="0.371" stop-color="#82c896"/><stop offset="0.390" stop-color="#a0d7eb"/><stop offset="0.399" stop-color="#a0d7eb"/><stop offset="0.412" stop-color="#5a82c8"/><stop offset="0.423" stop-color="#392f96"/><stop offset="0.435" stop-color="#392f96"/><stop offset="0.450" stop-color="#7d3aa5"/><stop offset="0.472" stop-color="#a53da5"/><stop offset="0.490" stop-color="#c93293"/><stop offset="0.507" stop-color="#c93293"/><stop offset="0.526" stop-color="#c93293"/><stop offset="0.537" stop-color="#a53da5"/><stop offset="0.546" stop-color="#7d3aa5"/><stop offset="0.560" stop-color="#392f96"/><stop offset="0.569" stop-color="#392f96"/><stop offset="0.575" stop-color="#5a82c8"/><stop offset="0.582" stop-color="#a0d7eb"/><stop offset="0.589" stop-color="#a0d7eb"/><stop offset="0.594" stop-color="#82c896"/><stop offset="0.599" stop-color="#64b42d"/><stop offset="0.609" stop-color="#64b42d"/><stop offset="0.618" stop-color="#aacd23"/><stop offset="0.629" stop-color="#f0e419"/><stop offset="0.651" stop-color="#f09119"/><stop offset="0.668" stop-color="#e34618"/><stop offset="0.673" stop-color="#e03d18"/><stop offset="0.691" stop-color="#da2618"/></linearGradient>
<linearGradient id="c34" x1="0" y1="78" x2="0" y2="306" gradientUnits="userSpaceOnUse"><stop offset="0.000" stop-color="#ec7218"/><stop offset="0.139" stop-color="#ee8219"/><stop offset="0.209" stop-color="#f09119"/><stop offset="0.266" stop-color="#f0e419"/><stop offset="0.295" stop-color="#aacd23"/><stop offset="0.326" stop-color="#64b42d"/><stop offset="0.343" stop-color="#64b42d"/><stop offset="0.372" stop-color="#82c896"/><stop offset="0.391" stop-color="#a0d7eb"/><stop offset="0.400" stop-color="#a0d7eb"/><stop offset="0.412" stop-color="#5a82c8"/><stop offset="0.424" stop-color="#392f96"/><stop offset="0.435" stop-color="#392f96"/><stop offset="0.451" stop-color="#7d3aa5"/><stop offset="0.473" stop-color="#a43da5"/><stop offset="0.490" stop-color="#c63395"/><stop offset="0.508" stop-color="#c63395"/><stop offset="0.527" stop-color="#c63395"/><stop offset="0.537" stop-color="#a43da5"/><stop offset="0.547" stop-color="#7d3aa5"/><stop offset="0.560" stop-color="#392f96"/><stop offset="0.570" stop-color="#392f96"/><stop offset="0.575" stop-color="#5a82c8"/><stop offset="0.582" stop-color="#a0d7eb"/><stop offset="0.589" stop-color="#a0d7eb"/><stop offset="0.594" stop-color="#82c896"/><stop offset="0.599" stop-color="#64b42d"/><stop offset="0.609" stop-color="#64b42d"/><stop offset="0.618" stop-color="#aacd23"/><stop offset="0.629" stop-color="#f0e419"/><stop offset="0.650" stop-color="#f09119"/><stop offset="0.667" stop-color="#e34618"/><stop offset="0.672" stop-color="#e03d18"/><stop offset="0.689" stop-color="#da2618"/></linearGradient>
<linearGradient id="c35" x1="0" y1="78" x2="0" y2="306" gradientUnits="userSpaceOnUse"><stop offset="0.000" stop-color="#ec7218"/><stop offset="0.141" stop-color="#ee8219"/><stop offset="0.211" stop-color="#f09119"/><stop offset="0.268" stop-color="#f0e419"/><stop offset="0.296" stop-color="#aacd23"/><stop offset="0.327" stop-color="#64b42d"/><stop offset="0.344" stop-color="#64b42d"/><stop offset="0.373" stop-color="#82c896"/><stop offset="0.392" stop-color="#a0d7eb"/><stop offset="0.401" stop-color="#a0d7eb"/><stop offset="0.413" stop-color="#5a82c8"/><stop offset="0.425" stop-color="#392f96"/><stop offset="0.436" stop-color="#392f96"/><stop offset="0.451" stop-color="#7d3aa5"/><stop offset="0.473" stop-color="#a23da5"/><stop offset="0.491" stop-color="#c33597"/><stop offset="0.508" stop-color="#c33597"/><stop offset="0.527" stop-color="#c33597"/><stop offset="0.538" stop-color="#a23da5"/><stop offset="0.547" stop-color="#7d3aa5"/><stop offset="0.560" stop-color="#392f96"/><stop offset="0.570" stop-color="#392f96"/><stop offset="0.576" stop-color="#5a82c8"/><stop offset="0.582" stop-color="#a0d7eb"/><stop offset="0.589" stop-color="#a0d7eb"/><stop offset="0.594" stop-color="#82c896"/><stop offset="0.599" stop-color="#64b42d"/><stop offset="0.608" stop-color="#64b42d"/><stop offset="0.618" stop-color="#aacd23"/><stop offset="0.628" stop-color="#f0e419"/><stop offset="0.649" stop-color="#f09119"/><stop offset="0.666" stop-color="#e34618"/><stop offset="0.670" stop-color="#e03d18"/><stop offset="0.686" stop-color="#da2618"/></linearGradient>
<linearGradient id="c36" x1="0" y1="78" x2="0" y2="306" gradientUnits="userSpaceOnUse"><stop offset="0.000" stop-color="#ec7218"/><stop offset="0.143" stop-color="#ee8219"/><stop offset="0.213" stop-color="#f09119"/><stop offset="0.269" stop-color="#f0e419"/><stop offset="0.298" stop-color="#aacd23"/><stop offset="0.328" stop-color="#64b42d"/><stop offset="0.345" stop-color="#64b42d"/><stop offset="0.374" stop-color="#82c896"/><stop offset="0.393" stop-color="#a0d7eb"/><stop offset="0.402" stop-color="#a0d7eb"/><stop offset="0.414" stop-color="#5a82c8"/><stop offset="0.426" stop-color="#392f96"/><stop offset="0.437" stop-color="#392f96"/><stop offset="0.452" stop-color="#7d3aa5"/><stop offset="0.474" stop-color="#a03da5"/><stop offset="0.491" stop-color="#c1369a"/><stop offset="0.508" stop-color="#c1369a"/><stop offset="0.527" stop-color="#c1369a"/><stop offset="0.538" stop-color="#a03da5"/><stop offset="0.547" stop-color="#7d3aa5"/><stop offset="0.560" stop-color="#392f96"/><stop offset="0.570" stop-color="#392f96"/><stop offset="0.576" stop-color="#5a82c8"/><stop offset="0.582" stop-color="#a0d7eb"/><stop offset="0.589" stop-color="#a0d7eb"/><stop offset="0.594" stop-color="#82c896"/><stop offset="0.599" stop-color="#64b42d"/><stop offset="0.608" stop-color="#64b42d"/><stop offset="0.618" stop-color="#aacd23"/><stop offset="0.628" stop-color="#f0e419"/><stop offset="0.648" stop-color="#f09119"/><stop offset="0.664" stop-color="#e34618"/><stop offset="0.668" stop-color="#e03d18"/><stop offset="0.684" stop-color="#da2618"/></linearGradient>
<linearGradient id="c37" x1="0" y1="78" x2="0" y2="306" gradientUnits="userSpaceOnUse"><stop offset="0.000" stop-color="#ec7218"/><stop offset="0.146" stop-color="#ee8219"/><stop offset="0.215" stop-color="#f09119"/><stop offset="0.271" stop-color="#f0e419"/><stop offset="0.299" stop-color="#aacd23"/><stop offset="0.329" stop-color="#64b42d"/><stop offset="0.347" stop-color="#64b42d"/><stop offset="0.375" stop-color="#82c896"/><stop offset="0.394" stop-color="#a0d7eb"/><stop offset="0.403" stop-color="#a0d7eb"/><stop offset="0.415" stop-color="#5a82c8"/><stop offset="0.427" stop-color="#392f96"/><stop offset="0.438" stop-color="#392f96"/><stop offset="0.453" stop-color="#7d3aa5"/><stop offset="0.474" stop-color="#9f3ca5"/><stop offset="0.492" stop-color="#be389c"/><stop offset="0.509" stop-color="#be389c"/><stop offset="0.528" stop-color="#be389c"/><stop offset="0.538" stop-color="#9f3ca5"/><stop offset="0.547" stop-color="#7d3aa5"/><stop offset="0.560" stop-color="#392f96"/><stop offset="0.570" stop-color="#392f96"/><stop offset="0.576" stop-color="#5a82c8"/><stop offset="0.582" stop-color="#a0d7eb"/><stop offset="0.589" stop-color="#a0d7eb"/><stop offset="0.594" stop-color="#82c896"/><stop offset="0.599" stop-color="#64b42d"/><stop offset="0.608" stop-color="#64b42d"/><stop offset="0.617" stop-color="#aacd23"/><stop offset="0.628" stop-color="#f0e419"/><stop offset="0.647" stop-color="#f09119"/><stop offset="0.662" stop-color="#e34618"/><stop offset="0.666" stop-color="#e03d18"/><stop offset="0.681" stop-color="#da2618"/></linearGradient>
<linearGradient id="c38" x1="0" y1="78" x2="0" y2="306" gradientUnits="userSpaceOnUse"><stop offset="0.000" stop-color="#ec7218"/><stop offset="0.149" stop-color="#ee8219"/><stop offset="0.218" stop-color="#f09119"/><stop offset="0.274" stop-color="#f0e419"/><stop offset="0.301" stop-color="#aacd23"/><stop offset="0.331" stop-color="#64b42d"/><stop offset="0.349" stop-color="#64b42d"/><stop offset="0.376" stop-color="#82c896"/><stop offset="0.396" stop-color="#a0d7eb"/><stop offset="0.404" stop-color="#a0d7eb"/><stop offset="0.416" stop-color="#5a82c8"/><stop offset="0.428" stop-color="#392f96"/><stop offset="0.438" stop-color="#392f96"/><stop offset="0.453" stop-color="#7d3aa5"/><stop offset="0.475" stop-color="#9d3ca5"/><stop offset="0.492" stop-color="#bc399e"/><stop offset="0.509" stop-color="#bc399e"/><stop offset="0.528" stop-color="#bc399e"/><stop offset="0.538" stop-color="#9d3ca5"/><stop offset="0.547" stop-color="#7d3aa5"/><stop offset="0.560" stop-color="#392f96"/><stop offset="0.570" stop-color="#392f96"/><stop offset="0.576" stop-color="#5a82c8"/><stop offset="0.582" stop-color="#a0d7eb"/><stop offset="0.589" stop-color="#a0d7eb"/><stop offset="0.594" stop-color="#82c896"/><stop offset="0.599" stop-color="#64b42d"/><stop offset="0.608" stop-color="#64b42d"/><stop offset="0.617" stop-color="#aacd23"/><stop offset="0.628" stop-color="#f0e419"/><stop offset="0.647" stop-color="#f09119"/><stop offset="0.661" stop-color="#e34618"/><stop offset="0.664" stop-color="#e03d18"/><stop offset="0.679" stop-color="#da2618"/></linearGradient>
<linearGradient id="c39" x1="0" y1="78" x2="0" y2="306" gradientUnits="userSpaceOnUse"><stop offset="0.000" stop-color="#ec7218"/><stop offset="0.153" stop-color="#ee8219"/><stop offset="0.221" stop-color="#f09119"/><stop offset="0.276" stop-color="#f0e419"/><stop offset="0.304" stop-color="#aacd23"/><stop offset="0.333" stop-color="#64b42d"/><stop offset="0.350" stop-color="#64b42d"/><stop offset="0.378" stop-color="#82c896"/><stop offset="0.397" stop-color="#a0d7eb"/><stop offset="0.406" stop-color="#a0d7eb"/><stop offset="0.417" stop-color="#5a82c8"/><stop offset="0.429" stop-color="#392f96"/><stop offset="0.439" stop-color="#392f96"/><stop offset="0.454" stop-color="#7d3aa5"/><stop offset="0.476" stop-color="#9c3ca5"/><stop offset="0.492" stop-color="#ba3a9f"/><stop offset="0.509" stop-color="#ba3a9f"/><stop offset="0.528" stop-color="#ba3a9f"/><stop offset="0.538" stop-color="#9c3ca5"/><stop offset="0.548" stop-color="#7d3aa5"/><stop offset="0.560" stop-color="#392f96"/><stop offset="0.570" stop-color="#392f96"/><stop offset="0.576" stop-color="#5a82c8"/><stop offset="0.582" stop-color="#a0d7eb"/><stop offset="0.589" stop-color="#a0d7eb"/><stop offset="0.593" stop-color="#82c896"/><stop offset="0.598" stop-color="#64b42d"/><stop offset="0.608" stop-color="#64b42d"/><stop offset="0.617" stop-color="#aacd23"/><stop offset="0.627" stop-color="#f0e419"/><stop offset="0.646" stop-color="#f09119"/><stop offset="0.659" stop-color="#e34618"/><stop offset="0.662" stop-color="#e03d18"/><stop offset="0.677" stop-color="#da2618"/></linearGradient>
<linearGradient id="c40" x1="0" y1="78" x2="0" y2="306" gradientUnits="userSpaceOnUse"><stop offset="0.000" stop-color="#ec7218"/><stop offset="0.157" stop-color="#ee8219"/><stop offset="0.224" stop-color="#f09119"/><stop offset="0.279" stop-color="#f0e419"/><stop offset="0.306" stop-color="#aacd23"/><stop offset="0.335" stop-color="#64b42d"/><stop offset="0.352" stop-color="#64b42d"/><stop offset="0.380" stop-color="#82c896"/><stop offset="0.398" stop-color="#a0d7eb"/><stop offset="0.407" stop-color="#a0d7eb"/><stop offset="0.419" stop-color="#5a82c8"/><stop offset="0.430" stop-color="#392f96"/><stop offset="0.440" stop-color="#392f96"/><stop offset="0.455" stop-color="#7d3aa5"/><stop offset="0.476" stop-color="#9c3ca5"/><stop offset="0.493" stop-color="#ba3a9f"/><stop offset="0.510" stop-color="#ba3a9f"/><stop offset="0.528" stop-color="#ba3a9f"/><stop offset="0.539" stop-color="#9c3ca5"/><stop offset="0.548" stop-color="#7d3aa5"/><stop offset="0.560" stop-color="#392f96"/><stop offset="0.570" stop-color="#392f96"/><stop offset="0.576" stop-color="#5a82c8"/><stop offset="0.582" stop-color="#a0d7eb"/><stop offset="0.589" stop-color="#a0d7eb"/><stop offset="0.593" stop-color="#82c896"/><stop offset="0.598" stop-color="#64b42d"/><stop offset="0.608" stop-color="#64b42d"/><stop offset="0.617" stop-color="#aacd23"/><stop offset="0.627" stop-color="#f0e419"/><stop offset="0.645" stop-color="#f09119"/><stop offset="0.657" stop-color="#e34618"/><stop offset="0.661" stop-color="#e03d18"/><stop offset="0.674" stop-color="#da2618"/></linearGradient>
<linearGradient id="c41" x1="0" y1="78" x2="0" y2="306" gradientUnits="userSpaceOnUse"><stop offset="0.000" stop-color="#ec7218"/><stop offset="0.154" stop-color="#ee8219"/><stop offset="0.222" stop-color="#f09119"/><stop offset="0.277" stop-color="#f0e419"/><stop offset="0.305" stop-color="#aacd23"/><stop offset="0.334" stop-color="#64b42d"/><stop offset="0.351" stop-color="#64b42d"/><stop offset="0.379" stop-color="#82c896"/><stop offset="0.398" stop-color="#a0d7eb"/><stop offset="0.406" stop-color="#a0d7eb"/><stop offset="0.418" stop-color="#5a82c8"/><stop offset="0.430" stop-color="#392f96"/><stop offset="0.440" stop-color="#392f96"/><stop offset="0.455" stop-color="#7d3aa5"/><stop offset="0.476" stop-color="#9c3ca5"/><stop offset="0.493" stop-color="#ba3a9f"/><stop offset="0.510" stop-color="#ba3a9f"/><stop offset="0.529" stop-color="#ba3a9f"/><stop offset="0.539" stop-color="#9c3ca5"/><stop offset="0.548" stop-color="#7d3aa5"/><stop offset="0.561" stop-color="#392f96"/><stop offset="0.570" stop-color="#392f96"/><stop offset="0.576" stop-color="#5a82c8"/><stop offset="0.582" stop-color="#a0d7eb"/><stop offset="0.589" stop-color="#a0d7eb"/><stop offset="0.593" stop-color="#82c896"/><stop offset="0.598" stop-color="#64b42d"/><stop offset="0.608" stop-color="#64b42d"/><stop offset="0.617" stop-color="#aacd23"/><stop offset="0.627" stop-color="#f0e419"/><stop offset="0.644" stop-color="#f09119"/><stop offset="0.656" stop-color="#e34618"/><stop offset="0.659" stop-color="#e03d18"/><stop offset="0.672" stop-color="#da2618"/></linearGradient>
<linearGradient id="c42" x1="0" y1="78" x2="0" y2="306" gradientUnits="userSpaceOnUse"><stop offset="0.000" stop-color="#ec7218"/><stop offset="0.154" stop-color="#ee8219"/><stop offset="0.222" stop-color="#f09119"/><stop offset="0.277" stop-color="#f0e419"/><stop offset="0.304" stop-color="#aacd23"/><stop offset="0.334" stop-color="#64b42d"/><stop offset="0.351" stop-color="#64b42d"/><stop offset="0.378" stop-color="#82c896"/><stop offset="0.397" stop-color="#a0d7eb"/><stop offset="0.406" stop-color="#a0d7eb"/><stop offset="0.418" stop-color="#5a82c8"/><stop offset="0.429" stop-color="#392f96"/><stop offset="0.440" stop-color="#392f96"/><stop offset="0.455" stop-color="#7d3aa5"/><stop offset="0.476" stop-color="#9c3ca5"/><stop offset="0.493" stop-color="#ba3a9f"/><stop offset="0.510" stop-color="#ba3a9f"/><stop offset="0.528" stop-color="#ba3a9f"/><stop offset="0.539" stop-color="#9c3ca5"/><stop offset="0.548" stop-color="#7d3aa5"/><stop offset="0.560" stop-color="#392f96"/><stop offset="0.570" stop-color="#392f96"/><stop offset="0.576" stop-color="#5a82c8"/><stop offset="0.582" stop-color="#a0d7eb"/><stop offset="0.589" stop-color="#a0d7eb"/><stop offset="0.593" stop-color="#82c896"/><stop offset="0.598" stop-color="#64b42d"/><stop offset="0.608" stop-color="#64b42d"/><stop offset="0.617" stop-color="#aacd23"/><stop offset="0.627" stop-color="#f0e419"/><stop offset="0.644" stop-color="#f09119"/><stop offset="0.655" stop-color="#e34618"/><stop offset="0.658" stop-color="#e03d18"/><stop offset="0.670" stop-color="#da2618"/></linearGradient>
<linearGradient id="c43" x1="0" y1="78" x2="0" y2="306" gradientUnits="userSpaceOnUse"><stop offset="0.000" stop-color="#ec7218"/><stop offset="0.153" stop-color="#ee8219"/><stop offset="0.221" stop-color="#f09119"/><stop offset="0.276" stop-color="#f0e419"/><stop offset="0.304" stop-color="#aacd23"/><stop offset="0.333" stop-color="#64b42d"/><stop offset="0.350" stop-color="#64b42d"/><stop offset="0.378" stop-color="#82c896"/><stop offset="0.397" stop-color="#a0d7eb"/><stop offset="0.405" stop-color="#a0d7eb"/><stop offset="0.417" stop-color="#5a82c8"/><stop offset="0.429" stop-color="#392f96"/><stop offset="0.439" stop-color="#392f96"/><stop offset="0.454" stop-color="#7d3aa5"/><stop offset="0.475" stop-color="#9c3ca5"/><stop offset="0.492" stop-color="#ba3a9f"/><stop offset="0.509" stop-color="#ba3a9f"/><stop offset="0.528" stop-color="#ba3a9f"/><stop offset="0.538" stop-color="#9c3ca5"/><stop offset="0.547" stop-color="#7d3aa5"/><stop offset="0.560" stop-color="#392f96"/><stop offset="0.570" stop-color="#392f96"/><stop offset="0.576" stop-color="#5a82c8"/><stop offset="0.582" stop-color="#a0d7eb"/><stop offset="0.589" stop-color="#a0d7eb"/><stop offset="0.593" stop-color="#82c896"/><stop offset="0.598" stop-color="#64b42d"/><stop offset="0.608" stop-color="#64b42d"/><stop offset="0.617" stop-color="#aacd23"/><stop offset="0.628" stop-color="#f0e419"/><stop offset="0.643" stop-color="#f09119"/><stop offset="0.653" stop-color="#e34618"/><stop offset="0.656" stop-color="#e03d18"/><stop offset="0.668" stop-color="#da2618"/></linearGradient>
<linearGradient id="c44" x1="0" y1="78" x2="0" y2="306" gradientUnits="userSpaceOnUse"><stop offset="0.000" stop-color="#ec7218"/><stop offset="0.153" stop-color="#ee8219"/><stop offset="0.220" stop-color="#f09119"/><stop offset="0.276" stop-color="#f0e419"/><stop offset="0.303" stop-color="#aacd23"/><stop offset="0.333" stop-color="#64b42d"/><stop offset="0.350" stop-color="#64b42d"/><stop offset="0.377" stop-color="#82c896"/><stop offset="0.396" stop-color="#a0d7eb"/><stop offset="0.405" stop-color="#a0d7eb"/><stop offset="0.417" stop-color="#5a82c8"/><stop offset="0.428" stop-color="#392f96"/><stop offset="0.439" stop-color="#392f96"/><stop offset="0.454" stop-color="#7d3aa5"/><stop offset="0.475" stop-color="#9c3ca5"/><stop offset="0.492" stop-color="#ba3a9f"/><stop offset="0.509" stop-color="#ba3a9f"/><stop offset="0.528" stop-color="#ba3a9f"/><stop offset="0.538" stop-color="#9c3ca5"/><stop offset="0.547" stop-color="#7d3aa5"/><stop offset="0.560" stop-color="#392f96"/><stop offset="0.570" stop-color="#392f96"/><stop offset="0.576" stop-color="#5a82c8"/><stop offset="0.582" stop-color="#a0d7eb"/><stop offset="0.589" stop-color="#a0d7eb"/><stop offset="0.593" stop-color="#82c896"/><stop offset="0.599" stop-color="#64b42d"/><stop offset="0.608" stop-color="#64b42d"/><stop offset="0.617" stop-color="#aacd23"/><stop offset="0.628" stop-color="#f0e419"/><stop offset="0.643" stop-color="#f09119"/><stop offset="0.652" stop-color="#e34618"/><stop offset="0.655" stop-color="#e03d18"/><stop offset="0.666" stop-color="#da2618"/></linearGradient>
<linearGradient id="c45" x1="0" y1="78" x2="0" y2="306" gradientUnits="userSpaceOnUse"><stop offset="0.000" stop-color="#ec7218"/><stop offset="0.152" stop-color="#ee8219"/><stop offset="0.220" stop-color="#f09119"/><stop offset="0.275" stop-color="#f0e419"/><stop offset="0.303" stop-color="#aacd23"/><stop offset="0.332" stop-color="#64b42d"/><stop offset="0.349" stop-color="#64b42d"/><stop offset="0.377" stop-color="#82c896"/><stop offset="0.396" stop-color="#a0d7eb"/><stop offset="0.404" stop-color="#a0d7eb"/><stop offset="0.416" stop-color="#5a82c8"/><stop offset="0.428" stop-color="#392f96"/><stop offset="0.438" stop-color="#392f96"/><stop offset="0.453" stop-color="#7d3aa5"/><stop offset="0.474" stop-color="#9c3ca5"/><stop offset="0.491" stop-color="#ba3a9f"/><stop offset="0.508" stop-color="#ba3a9f"/><stop offset="0.527" stop-color="#ba3a9f"/><stop offset="0.538" stop-color="#9c3ca5"/><stop offset="0.547" stop-color="#7d3aa5"/><stop offset="0.560" stop-color="#392f96"/><stop offset="0.570" stop-color="#392f96"/><stop offset="0.575" stop-color="#5a82c8"/><stop offset="0.582" stop-color="#a0d7eb"/><stop offset="0.589" stop-color="#a0d7eb"/><stop offset="0.594" stop-color="#82c896"/><stop offset="0.599" stop-color="#64b42d"/><stop offset="0.608" stop-color="#64b42d"/><stop offset="0.617" stop-color="#aacd23"/><stop offset="0.628" stop-color="#f0e419"/><stop offset="0.643" stop-color="#f09119"/><stop offset="0.651" stop-color="#e34618"/><stop offset="0.653" stop-color="#e03d18"/><stop offset="0.664" stop-color="#da2618"/></linearGradient>
<linearGradient id="c46" x1="0" y1="78" x2="0" y2="306" gradientUnits="userSpaceOnUse"><stop offset="0.000" stop-color="#ec7218"/><stop offset="0.151" stop-color="#ee8219"/><stop offset="0.219" stop-color="#f09119"/><stop offset="0.274" stop-color="#f0e419"/><stop offset="0.302" stop-color="#aacd23"/><stop offset="0.332" stop-color="#64b42d"/><stop offset="0.349" stop-color="#64b42d"/><stop offset="0.376" stop-color="#82c896"/><stop offset="0.395" stop-color="#a0d7eb"/><stop offset="0.404" stop-color="#a0d7eb"/><stop offset="0.416" stop-color="#5a82c8"/><stop offset="0.427" stop-color="#392f96"/><stop offset="0.438" stop-color="#392f96"/><stop offset="0.453" stop-color="#7d3aa5"/><stop offset="0.474" stop-color="#9c3ca5"/><stop offset="0.491" stop-color="#ba3a9f"/><stop offset="0.508" stop-color="#ba3a9f"/><stop offset="0.527" stop-color="#ba3a9f"/><stop offset="0.537" stop-color="#9c3ca5"/><stop offset="0.547" stop-color="#7d3aa5"/><stop offset="0.560" stop-color="#392f96"/><stop offset="0.569" stop-color="#392f96"/><stop offset="0.575" stop-color="#5a82c8"/><stop offset="0.582" stop-color="#a0d7eb"/><stop offset="0.589" stop-color="#a0d7eb"/><stop offset="0.594" stop-color="#82c896"/><stop offset="0.599" stop-color="#64b42d"/><stop offset="0.608" stop-color="#64b42d"/><stop offset="0.618" stop-color="#aacd23"/><stop offset="0.628" stop-color="#f0e419"/><stop offset="0.642" stop-color="#f09119"/><stop offset="0.650" stop-color="#e34618"/><stop offset="0.652" stop-color="#e03d18"/><stop offset="0.662" stop-color="#da2618"/></linearGradient>
<linearGradient id="c47" x1="0" y1="78" x2="0" y2="306" gradientUnits="userSpaceOnUse"><stop offset="0.000" stop-color="#ec7218"/><stop offset="0.151" stop-color="#ee8219"/><stop offset="0.219" stop-color="#f09119"/><stop offset="0.274" stop-color="#f0e419"/><stop offset="0.301" stop-color="#aacd23"/><stop offset="0.331" stop-color="#64b42d"/><stop offset="0.348" stop-color="#64b42d"/><stop offset="0.376" stop-color="#82c896"/><stop offset="0.395" stop-color="#a0d7eb"/><stop offset="0.403" stop-color="#a0d7eb"/><stop offset="0.415" stop-color="#5a82c8"/><stop offset="0.427" stop-color="#392f96"/><stop offset="0.437" stop-color="#392f96"/><stop offset="0.452" stop-color="#7d3aa5"/><stop offset="0.473" stop-color="#9c3ca5"/><stop offset="0.490" stop-color="#ba3a9f"/><stop offset="0.507" stop-color="#ba3a9f"/><stop offset="0.526" stop-color="#ba3a9f"/><stop offset="0.537" stop-color="#9c3ca5"/><stop offset="0.546" stop-color="#7d3aa5"/><stop offset="0.560" stop-color="#392f96"/><stop offset="0.569" stop-color="#392f96"/><stop offset="0.575" stop-color="#5a82c8"/><stop offset="0.582" stop-color="#a0d7eb"/><stop offset="0.589" stop-color="#a0d7eb"/><stop offset="0.594" stop-color="#82c896"/><stop offset="0.599" stop-color="#64b42d"/><stop offset="0.608" stop-color="#64b42d"/><stop offset="0.618" stop-color="#aacd23"/><stop offset="0.628" stop-color="#f0e419"/><stop offset="0.642" stop-color="#f09119"/><stop offset="0.649" stop-color="#e34618"/><stop offset="0.651" stop-color="#e03d18"/><stop offset="0.660" stop-color="#da2618"/></linearGradient>
<linearGradient id="c48" x1="0" y1="78" x2="0" y2="306" gradientUnits="userSpaceOnUse"><stop offset="0.000" stop-color="#ec7218"/><stop offset="0.150" stop-color="#ee8219"/><stop offset="0.218" stop-color="#f09119"/><stop offset="0.273" stop-color="#f0e419"/><stop offset="0.301" stop-color="#aacd23"/><stop offset="0.331" stop-color="#64b42d"/><stop offset="0.348" stop-color="#64b42d"/><stop offset="0.375" stop-color="#82c896"/><stop offset="0.394" stop-color="#a0d7eb"/><stop offset="0.403" stop-color="#a0d7eb"/><stop offset="0.415" stop-color="#5a82c8"/><stop offset="0.426" stop-color="#392f96"/><stop offset="0.437" stop-color="#392f96"/><stop offset="0.452" stop-color="#7d3aa5"/><stop offset="0.473" stop-color="#9c3ca5"/><stop offset="0.490" stop-color="#ba3a9f"/><stop offset="0.507" stop-color="#ba3a9f"/><stop offset="0.526" stop-color="#ba3a9f"/><stop offset="0.537" stop-color="#9c3ca5"/><stop offset="0.546" stop-color="#7d3aa5"/><stop offset="0.559" stop-color="#392f96"/><stop offset="0.569" stop-color="#392f96"/><stop offset="0.575" stop-color="#5a82c8"/><stop offset="0.582" stop-color="#a0d7eb"/><stop offset="0.589" stop-color="#a0d7eb"/><stop offset="0.594" stop-color="#82c896"/><stop offset="0.599" stop-color="#64b42d"/><stop offset="0.609" stop-color="#64b42d"/><stop offset="0.618" stop-color="#aacd23"/><stop offset="0.629" stop-color="#f0e419"/><stop offset="0.642" stop-color="#f09119"/><stop offset="0.648" stop-color="#e34618"/><stop offset="0.650" stop-color="#e03d18"/><stop offset="0.659" stop-color="#da2618"/></linearGradient>
<linearGradient id="c49" x1="0" y1="78" x2="0" y2="306" gradientUnits="userSpaceOnUse"><stop offset="0.000" stop-color="#ec7218"/><stop offset="0.149" stop-color="#ee8219"/><stop offset="0.217" stop-color="#f09119"/><stop offset="0.272" stop-color="#f0e419"/><stop offset="0.300" stop-color="#aacd23"/><stop offset="0.330" stop-color="#64b42d"/><stop offset="0.347" stop-color="#64b42d"/><stop offset="0.375" stop-color="#82c896"/><stop offset="0.394" stop-color="#a0d7eb"/><stop offset="0.402" stop-color="#a0d7eb"/><stop offset="0.414" stop-color="#5a82c8"/><stop offset="0.426" stop-color="#392f96"/><stop offset="0.436" stop-color="#392f96"/><stop offset="0.451" stop-color="#7d3aa5"/><stop offset="0.472" stop-color="#9c3ca5"/><stop offset="0.489" stop-color="#ba3a9f"/><stop offset="0.506" stop-color="#ba3a9f"/><stop offset="0.526" stop-color="#ba3a9f"/><stop offset="0.536" stop-color="#9c3ca5"/><stop offset="0.546" stop-color="#7d3aa5"/><stop offset="0.559" stop-color="#392f96"/><stop offset="0.569" stop-color="#392f96"/><stop offset="0.575" stop-color="#5a82c8"/><stop offset="0.582" stop-color="#a0d7eb"/><stop offset="0.589" stop-color="#a0d7eb"/><stop offset="0.593" stop-color="#82c896"/><stop offset="0.598" stop-color="#64b42d"/><stop offset="0.608" stop-color="#64b42d"/><stop offset="0.618" stop-color="#aacd23"/><stop offset="0.628" stop-color="#f0e419"/><stop offset="0.641" stop-color="#f09119"/><stop offset="0.648" stop-color="#e34618"/><stop offset="0.650" stop-color="#e03d18"/><stop offset="0.658" stop-color="#da2618"/></linearGradient>
<linearGradient id="c50" x1="0" y1="78" x2="0" y2="306" gradientUnits="userSpaceOnUse"><stop offset="0.000" stop-color="#ec7218"/><stop offset="0.146" stop-color="#ee8219"/><stop offset="0.215" stop-color="#f09119"/><stop offset="0.270" stop-color="#f0e419"/><stop offset="0.298" stop-color="#aacd23"/><stop offset="0.328" stop-color="#64b42d"/><stop offset="0.345" stop-color="#64b42d"/><stop offset="0.373" stop-color="#82c896"/><stop offset="0.392" stop-color="#a0d7eb"/><stop offset="0.401" stop-color="#a0d7eb"/><stop offset="0.413" stop-color="#5a82c8"/><stop offset="0.425" stop-color="#392f96"/><stop offset="0.435" stop-color="#392f96"/><stop offset="0.450" stop-color="#7d3aa5"/><stop offset="0.472" stop-color="#9c3ca5"/><stop offset="0.489" stop-color="#ba3a9f"/><stop offset="0.506" stop-color="#ba3a9f"/><stop offset="0.525" stop-color="#ba3a9f"/><stop offset="0.536" stop-color="#9c3ca5"/><stop offset="0.545" stop-color="#7d3aa5"/><stop offset="0.558" stop-color="#392f96"/><stop offset="0.568" stop-color="#392f96"/><stop offset="0.574" stop-color="#5a82c8"/><stop offset="0.581" stop-color="#a0d7eb"/><stop offset="0.588" stop-color="#a0d7eb"/><stop offset="0.592" stop-color="#82c896"/><stop offset="0.597" stop-color="#64b42d"/><stop offset="0.607" stop-color="#64b42d"/><stop offset="0.617" stop-color="#aacd23"/><stop offset="0.627" stop-color="#f0e419"/><stop offset="0.640" stop-color="#f09119"/><stop offset="0.646" stop-color="#e34618"/><stop offset="0.648" stop-color="#e03d18"/><stop offset="0.657" stop-color="#da2618"/></linearGradient>
<linearGradient id="c51" x1="0" y1="78" x2="0" y2="306" gradientUnits="userSpaceOnUse"><stop offset="0.000" stop-color="#ec7218"/><stop offset="0.144" stop-color="#ee8219"/><stop offset="0.213" stop-color="#f09119"/><stop offset="0.268" stop-color="#f0e419"/><stop offset="0.296" stop-color="#aacd23"/><stop offset="0.327" stop-color="#64b42d"/><stop offset="0.344" stop-color="#64b42d"/><stop offset="0.372" stop-color="#82c896"/><stop offset="0.391" stop-color="#a0d7eb"/><stop offset="0.400" stop-color="#a0d7eb"/><stop offset="0.412" stop-color="#5a82c8"/><stop offset="0.423" stop-color="#392f96"/><stop offset="0.434" stop-color="#392f96"/><stop offset="0.449" stop-color="#7d3aa5"/><stop offset="0.471" stop-color="#9c3ca5"/><stop offset="0.488" stop-color="#ba3a9f"/><stop offset="0.505" stop-color="#ba3a9f"/><stop offset="0.524" stop-color="#ba3a9f"/><stop offset="0.535" stop-color="#9c3ca5"/><stop offset="0.544" stop-color="#7d3aa5"/><stop offset="0.557" stop-color="#392f96"/><stop offset="0.567" stop-color="#392f96"/><stop offset="0.573" stop-color="#5a82c8"/><stop offset="0.580" stop-color="#a0d7eb"/><stop offset="0.587" stop-color="#a0d7eb"/><stop offset="0.591" stop-color="#82c896"/><stop offset="0.596" stop-color="#64b42d"/><stop offset="0.606" stop-color="#64b42d"/><stop offset="0.616" stop-color="#aacd23"/><stop offset="0.626" stop-color="#f0e419"/><stop offset="0.638" stop-color="#f09119"/><stop offset="0.645" stop-color="#e34618"/><stop offset="0.647" stop-color="#e03d18"/><stop offset="0.655" stop-color="#da2618"/></linearGradient>
<linearGradient id="c52" x1="0" y1="78" x2="0" y2="306" gradientUnits="userSpaceOnUse"><stop offset="0.000" stop-color="#ec7218"/><stop offset="0.141" stop-color="#ee8219"/><stop offset="0.210" stop-color="#f09119"/><stop offset="0.267" stop-color="#f0e419"/><stop offset="0.295" stop-color="#aacd23"/><stop offset="0.325" stop-color="#64b42d"/><stop offset="0.342" stop-color="#64b42d"/><stop offset="0.370" stop-color="#82c896"/><stop offset="0.390" stop-color="#a0d7eb"/><stop offset="0.399" stop-color="#a0d7eb"/><stop offset="0.411" stop-color="#5a82c8"/><stop offset="0.422" stop-color="#392f96"/><stop offset="0.433" stop-color="#392f96"/><stop offset="0.448" stop-color="#7d3aa5"/><stop offset="0.470" stop-color="#a03da5"/><stop offset="0.487" stop-color="#c0379b"/><stop offset="0.505" stop-color="#c0379b"/><stop offset="0.524" stop-color="#c0379b"/><stop offset="0.534" stop-color="#a03da5"/><stop offset="0.544" stop-color="#7d3aa5"/><stop offset="0.557" stop-color="#392f96"/><stop offset="0.566" stop-color="#392f96"/><stop offset="0.572" stop-color="#5a82c8"/><stop offset="0.579" stop-color="#a0d7eb"/><stop offset="0.586" stop-color="#a0d7eb"/><stop offset="0.590" stop-color="#82c896"/><stop offset="0.596" stop-color="#64b42d"/><stop offset="0.605" stop-color="#64b42d"/><stop offset="0.615" stop-color="#aacd23"/><stop offset="0.625" stop-color="#f0e419"/><stop offset="0.637" stop-color="#f09119"/><stop offset="0.644" stop-color="#e34618"/><stop offset="0.646" stop-color="#e03d18"/><stop offset="0.654" stop-color="#da2618"/></linearGradient>
<linearGradient id="c53" x1="0" y1="78" x2="0" y2="306" gradientUnits="userSpaceOnUse"><stop offset="0.000" stop-color="#ec7218"/><stop offset="0.138" stop-color="#ee8219"/><stop offset="0.208" stop-color="#f09119"/><stop offset="0.265" stop-color="#f0e419"/><stop offset="0.293" stop-color="#aacd23"/><stop offset="0.323" stop-color="#64b42d"/><stop offset="0.341" stop-color="#64b42d"/><stop offset="0.369" stop-color="#82c896"/><stop offset="0.389" stop-color="#a0d7eb"/><stop offset="0.397" stop-color="#a0d7eb"/><stop offset="0.410" stop-color="#5a82c8"/><stop offset="0.421" stop-color="#392f96"/><stop offset="0.432" stop-color="#392f96"/><stop offset="0.447" stop-color="#7d3aa5"/><stop offset="0.469" stop-color="#a33da5"/><stop offset="0.487" stop-color="#c53496"/><stop offset="0.504" stop-color="#c53496"/><stop offset="0.523" stop-color="#c53496"/><stop offset="0.534" stop-color="#a33da5"/><stop offset="0.543" stop-color="#7d3aa5"/><stop offset="0.556" stop-color="#392f96"/><stop offset="0.566" stop-color="#392f96"/><stop offset="0.571" stop-color="#5a82c8"/><stop offset="0.578" stop-color="#a0d7eb"/><stop offset="0.585" stop-color="#a0d7eb"/><stop offset="0.590" stop-color="#82c896"/><stop offset="0.595" stop-color="#64b42d"/><stop offset="0.604" stop-color="#64b42d"/><stop offset="0.614" stop-color="#aacd23"/><stop offset="0.624" stop-color="#f0e419"/><stop offset="0.636" stop-color="#f09119"/><stop offset="0.642" stop-color="#e34618"/><stop offset="0.645" stop-color="#e03d18"/><stop offset="0.652" stop-color="#da2618"/></linearGradient>
<linearGradient id="c54" x1="0" y1="78" x2="0" y2="306" gradientUnits="userSpaceOnUse"><stop offset="0.000" stop-color="#ec7218"/><stop offset="0.136" stop-color="#ee8219"/><stop offset="0.206" stop-color="#f09119"/><stop offset="0.263" stop-color="#f0e419"/><stop offset="0.291" stop-color="#aacd23"/><stop offset="0.322" stop-color="#64b42d"/><stop offset="0.339" stop-color="#64b42d"/><stop offset="0.368" stop-color="#82c896"/><stop offset="0.387" stop-color="#a0d7eb"/><stop offset="0.396" stop-color="#a0d7eb"/><stop offset="0.408" stop-color="#5a82c8"/><stop offset="0.420" stop-color="#392f96"/><stop offset="0.431" stop-color="#392f96"/><stop offset="0.447" stop-color="#7d3aa5"/><stop offset="0.468" stop-color="#a63da5"/><stop offset="0.486" stop-color="#ca3192"/><stop offset="0.504" stop-color="#ca3192"/><stop offset="0.523" stop-color="#ca3192"/><stop offset="0.533" stop-color="#a63da5"/><stop offset="0.542" stop-color="#7d3aa5"/><stop offset="0.555" stop-color="#392f96"/><stop offset="0.565" stop-color="#392f96"/><stop offset="0.571" stop-color="#5a82c8"/><stop offset="0.578" stop-color="#a0d7eb"/><stop offset="0.585" stop-color="#a0d7eb"/><stop offset="0.589" stop-color="#82c896"/><stop offset="0.594" stop-color="#64b42d"/><stop offset="0.604" stop-color="#64b42d"/><stop offset="0.613" stop-color="#aacd23"/><stop offset="0.624" stop-color="#f0e419"/><stop offset="0.635" stop-color="#f09119"/><stop offset="0.642" stop-color="#e34618"/><stop offset="0.644" stop-color="#e03d18"/><stop offset="0.651" stop-color="#da2618"/></linearGradient>
<linearGradient id="c55" x1="0" y1="78" x2="0" y2="306" gradientUnits="userSpaceOnUse"><stop offset="0.000" stop-color="#ec7218"/><stop offset="0.133" stop-color="#ee8219"/><stop offset="0.203" stop-color="#f09119"/><stop offset="0.261" stop-color="#f0e419"/><stop offset="0.289" stop-color="#aacd23"/><stop offset="0.320" stop-color="#64b42d"/><stop offset="0.338" stop-color="#64b42d"/><stop offset="0.366" stop-color="#82c896"/><stop offset="0.386" stop-color="#a0d7eb"/><stop offset="0.395" stop-color="#a0d7eb"/><stop offset="0.407" stop-color="#5a82c8"/><stop offset="0.419" stop-color="#392f96"/><stop offset="0.430" stop-color="#392f96"/><stop offset="0.446" stop-color="#7d3aa5"/><stop offset="0.468" stop-color="#a93da5"/><stop offset="0.485" stop-color="#cf2e8d"/><stop offset="0.503" stop-color="#cf2e8d"/><stop offset="0.522" stop-color="#cf2e8d"/><stop offset="0.533" stop-color="#a93da5"/><stop offset="0.542" stop-color="#7d3aa5"/><stop offset="0.555" stop-color="#392f96"/><stop offset="0.565" stop-color="#392f96"/><stop offset="0.571" stop-color="#5a82c8"/><stop offset="0.578" stop-color="#a0d7eb"/><stop offset="0.585" stop-color="#a0d7eb"/><stop offset="0.589" stop-color="#82c896"/><stop offset="0.595" stop-color="#64b42d"/><stop offset="0.604" stop-color="#64b42d"/><stop offset="0.614" stop-color="#aacd23"/><stop offset="0.624" stop-color="#f0e419"/><stop offset="0.636" stop-color="#f09119"/><stop offset="0.642" stop-color="#e34618"/><stop offset="0.644" stop-color="#e03d18"/><stop offset="0.651" stop-color="#da2618"/></linearGradient>
<linearGradient id="c56" x1="0" y1="78" x2="0" y2="306" gradientUnits="userSpaceOnUse"><stop offset="0.000" stop-color="#ec7218"/><stop offset="0.130" stop-color="#ee8219"/><stop offset="0.201" stop-color="#f09119"/><stop offset="0.259" stop-color="#f0e419"/><stop offset="0.287" stop-color="#aacd23"/><stop offset="0.318" stop-color="#64b42d"/><stop offset="0.336" stop-color="#64b42d"/><stop offset="0.365" stop-color="#82c896"/><stop offset="0.385" stop-color="#a0d7eb"/><stop offset="0.394" stop-color="#a0d7eb"/><stop offset="0.406" stop-color="#5a82c8"/><stop offset="0.418" stop-color="#392f96"/><stop offset="0.429" stop-color="#392f96"/><stop offset="0.445" stop-color="#7d3aa5"/><stop offset="0.467" stop-color="#ac3da5"/><stop offset="0.485" stop-color="#d42b88"/><stop offset="0.502" stop-color="#d42b88"/><stop offset="0.522" stop-color="#d42b88"/><stop offset="0.532" stop-color="#ac3da5"/><stop offset="0.542" stop-color="#7d3aa5"/><stop offset="0.555" stop-color="#392f96"/><stop offset="0.565" stop-color="#392f96"/><stop offset="0.571" stop-color="#5a82c8"/><stop offset="0.578" stop-color="#a0d7eb"/><stop offset="0.585" stop-color="#a0d7eb"/><stop offset="0.590" stop-color="#82c896"/><stop offset="0.595" stop-color="#64b42d"/><stop offset="0.605" stop-color="#64b42d"/><stop offset="0.614" stop-color="#aacd23"/><stop offset="0.625" stop-color="#f0e419"/><stop offset="0.636" stop-color="#f09119"/><stop offset="0.643" stop-color="#e34618"/><stop offset="0.645" stop-color="#e03d18"/><stop offset="0.651" stop-color="#da2618"/></linearGradient>
<linearGradient id="c57" x1="0" y1="78" x2="0" y2="306" gradientUnits="userSpaceOnUse"><stop offset="0.000" stop-color="#ec7218"/><stop offset="0.126" stop-color="#ee8219"/><stop offset="0.198" stop-color="#f09119"/><stop offset="0.256" stop-color="#f0e419"/><stop offset="0.285" stop-color="#aacd23"/><stop offset="0.317" stop-color="#64b42d"/><stop offset="0.335" stop-color="#64b42d"/><stop offset="0.364" stop-color="#82c896"/><stop offset="0.384" stop-color="#a0d7eb"/><stop offset="0.393" stop-color="#a0d7eb"/><stop offset="0.405" stop-color="#5a82c8"/><stop offset="0.418" stop-color="#392f96"/><stop offset="0.429" stop-color="#392f96"/><stop offset="0.444" stop-color="#7d3aa5"/><stop offset="0.467" stop-color="#af3ea5"/><stop offset="0.485" stop-color="#d92884"/><stop offset="0.503" stop-color="#d92884"/><stop offset="0.522" stop-color="#d92884"/><stop offset="0.533" stop-color="#af3ea5"/><stop offset="0.542" stop-color="#7d3aa5"/><stop offset="0.556" stop-color="#392f96"/><stop offset="0.566" stop-color="#392f96"/><stop offset="0.572" stop-color="#5a82c8"/><stop offset="0.579" stop-color="#a0d7eb"/><stop offset="0.586" stop-color="#a0d7eb"/><stop offset="0.590" stop-color="#82c896"/><stop offset="0.596" stop-color="#64b42d"/><stop offset="0.606" stop-color="#64b42d"/><stop offset="0.615" stop-color="#aacd23"/><stop offset="0.626" stop-color="#f0e419"/><stop offset="0.638" stop-color="#f09119"/><stop offset="0.645" stop-color="#e34618"/><stop offset="0.647" stop-color="#e03d18"/><stop offset="0.655" stop-color="#da2618"/></linearGradient>
<linearGradient id="c58" x1="0" y1="78" x2="0" y2="306" gradientUnits="userSpaceOnUse"><stop offset="0.000" stop-color="#ec7218"/><stop offset="0.122" stop-color="#ee8219"/><stop offset="0.195" stop-color="#f09119"/><stop offset="0.254" stop-color="#f0e419"/><stop offset="0.283" stop-color="#aacd23"/><stop offset="0.315" stop-color="#64b42d"/><stop offset="0.333" stop-color="#64b42d"/><stop offset="0.363" stop-color="#82c896"/><stop offset="0.383" stop-color="#a0d7eb"/><stop offset="0.392" stop-color="#a0d7eb"/><stop offset="0.405" stop-color="#5a82c8"/><stop offset="0.417" stop-color="#392f96"/><stop offset="0.428" stop-color="#392f96"/><stop offset="0.444" stop-color="#7d3aa5"/><stop offset="0.467" stop-color="#b33ea5"/><stop offset="0.485" stop-color="#df247f"/><stop offset="0.503" stop-color="#df247f"/><stop offset="0.523" stop-color="#df247f"/><stop offset="0.534" stop-color="#b33ea5"/><stop offset="0.544" stop-color="#7d3aa5"/><stop offset="0.558" stop-color="#392f96"/><stop offset="0.568" stop-color="#392f96"/><stop offset="0.574" stop-color="#5a82c8"/><stop offset="0.581" stop-color="#a0d7eb"/><stop offset="0.588" stop-color="#a0d7eb"/><stop offset="0.593" stop-color="#82c896"/><stop offset="0.598" stop-color="#64b42d"/><stop offset="0.608" stop-color="#64b42d"/><stop offset="0.618" stop-color="#aacd23"/><stop offset="0.629" stop-color="#f0e419"/><stop offset="0.642" stop-color="#f09119"/><stop offset="0.650" stop-color="#e34618"/><stop offset="0.653" stop-color="#e03d18"/><stop offset="0.662" stop-color="#da2618"/></linearGradient>
<linearGradient id="c59" x1="0" y1="78" x2="0" y2="306" gradientUnits="userSpaceOnUse"><stop offset="0.000" stop-color="#ec7218"/><stop offset="0.118" stop-color="#ee8219"/><stop offset="0.192" stop-color="#f09119"/><stop offset="0.251" stop-color="#f0e419"/><stop offset="0.281" stop-color="#aacd23"/><stop offset="0.313" stop-color="#64b42d"/><stop offset="0.332" stop-color="#64b42d"/><stop offset="0.361" stop-color="#82c896"/><stop offset="0.382" stop-color="#a0d7eb"/><stop offset="0.391" stop-color="#a0d7eb"/><stop offset="0.404" stop-color="#5a82c8"/><stop offset="0.417" stop-color="#392f96"/><stop offset="0.428" stop-color="#392f96"/><stop offset="0.444" stop-color="#7d3aa5"/><stop offset="0.467" stop-color="#b63da3"/><stop offset="0.485" stop-color="#e2227a"/><stop offset="0.504" stop-color="#e2227a"/><stop offset="0.524" stop-color="#e2227a"/><stop offset="0.535" stop-color="#b63da3"/><stop offset="0.545" stop-color="#7d3aa5"/><stop offset="0.559" stop-color="#392f96"/><stop offset="0.570" stop-color="#392f96"/><stop offset="0.576" stop-color="#5a82c8"/><stop offset="0.583" stop-color="#a0d7eb"/><stop offset="0.590" stop-color="#a0d7eb"/><stop offset="0.595" stop-color="#82c896"/><stop offset="0.601" stop-color="#64b42d"/><stop offset="0.611" stop-color="#64b42d"/><stop offset="0.621" stop-color="#aacd23"/><stop offset="0.632" stop-color="#f0e419"/><stop offset="0.646" stop-color="#f09119"/><stop offset="0.656" stop-color="#e34618"/><stop offset="0.659" stop-color="#e03d18"/><stop offset="0.670" stop-color="#da2618"/></linearGradient>
<linearGradient id="c60" x1="0" y1="78" x2="0" y2="306" gradientUnits="userSpaceOnUse"><stop offset="0.000" stop-color="#ec7218"/><stop offset="0.114" stop-color="#ee8219"/><stop offset="0.188" stop-color="#f09119"/><stop offset="0.249" stop-color="#f0e419"/><stop offset="0.279" stop-color="#aacd23"/><stop offset="0.312" stop-color="#64b42d"/><stop offset="0.330" stop-color="#64b42d"/><stop offset="0.360" stop-color="#82c896"/><stop offset="0.381" stop-color="#a0d7eb"/><stop offset="0.391" stop-color="#a0d7eb"/><stop offset="0.404" stop-color="#5a82c8"/><stop offset="0.416" stop-color="#392f96"/><stop offset="0.428" stop-color="#392f96"/><stop offset="0.444" stop-color="#7d3aa5"/><stop offset="0.467" stop-color="#b93ba0"/><stop offset="0.486" stop-color="#e52075"/><stop offset="0.504" stop-color="#e52075"/><stop offset="0.525" stop-color="#e52075"/><stop offset="0.537" stop-color="#b93ba0"/><stop offset="0.547" stop-color="#7d3aa5"/><stop offset="0.561" stop-color="#392f96"/><stop offset="0.572" stop-color="#392f96"/><stop offset="0.578" stop-color="#5a82c8"/><stop offset="0.585" stop-color="#a0d7eb"/><stop offset="0.593" stop-color="#a0d7eb"/><stop offset="0.598" stop-color="#82c896"/><stop offset="0.603" stop-color="#64b42d"/><stop offset="0.614" stop-color="#64b42d"/><stop offset="0.624" stop-color="#aacd23"/><stop offset="0.636" stop-color="#f0e419"/><stop offset="0.651" stop-color="#f09119"/><stop offset="0.661" stop-color="#e34618"/><stop offset="0.665" stop-color="#e03d18"/><stop offset="0.677" stop-color="#da2618"/></linearGradient>
<linearGradient id="c61" x1="0" y1="78" x2="0" y2="306" gradientUnits="userSpaceOnUse"><stop offset="0.000" stop-color="#ec7218"/><stop offset="0.110" stop-color="#ee8219"/><stop offset="0.185" stop-color="#f09119"/><stop offset="0.246" stop-color="#f0e419"/><stop offset="0.277" stop-color="#aacd23"/><stop offset="0.310" stop-color="#64b42d"/><stop offset="0.329" stop-color="#64b42d"/><stop offset="0.359" stop-color="#82c896"/><stop offset="0.380" stop-color="#a0d7eb"/><stop offset="0.390" stop-color="#a0d7eb"/><stop offset="0.403" stop-color="#5a82c8"/><stop offset="0.416" stop-color="#392f96"/><stop offset="0.427" stop-color="#392f96"/><stop offset="0.444" stop-color="#7d3aa5"/><stop offset="0.467" stop-color="#bc399e"/><stop offset="0.486" stop-color="#e71f70"/><stop offset="0.505" stop-color="#e71f70"/><stop offset="0.526" stop-color="#e71f70"/><stop offset="0.538" stop-color="#bc399e"/><stop offset="0.548" stop-color="#7d3aa5"/><stop offset="0.563" stop-color="#392f96"/><stop offset="0.574" stop-color="#392f96"/><stop offset="0.580" stop-color="#5a82c8"/><stop offset="0.588" stop-color="#a0d7eb"/><stop offset="0.595" stop-color="#a0d7eb"/><stop offset="0.600" stop-color="#82c896"/><stop offset="0.606" stop-color="#64b42d"/><stop offset="0.617" stop-color="#64b42d"/><stop offset="0.627" stop-color="#aacd23"/><stop offset="0.639" stop-color="#f0e419"/><stop offset="0.655" stop-color="#f09119"/><stop offset="0.667" stop-color="#e34618"/><stop offset="0.671" stop-color="#e03d18"/><stop offset="0.684" stop-color="#da2618"/></linearGradient>
<linearGradient id="c62" x1="0" y1="78" x2="0" y2="306" gradientUnits="userSpaceOnUse"><stop offset="0.000" stop-color="#ec7218"/><stop offset="0.108" stop-color="#ee8219"/><stop offset="0.184" stop-color="#f09119"/><stop offset="0.245" stop-color="#f0e419"/><stop offset="0.276" stop-color="#aacd23"/><stop offset="0.309" stop-color="#64b42d"/><stop offset="0.328" stop-color="#64b42d"/><stop offset="0.359" stop-color="#82c896"/><stop offset="0.380" stop-color="#a0d7eb"/><stop offset="0.390" stop-color="#a0d7eb"/><stop offset="0.403" stop-color="#5a82c8"/><stop offset="0.416" stop-color="#392f96"/><stop offset="0.428" stop-color="#392f96"/><stop offset="0.444" stop-color="#7d3aa5"/><stop offset="0.468" stop-color="#bf379b"/><stop offset="0.487" stop-color="#e91d6b"/><stop offset="0.506" stop-color="#e91d6b"/><stop offset="0.527" stop-color="#e91d6b"/><stop offset="0.539" stop-color="#bf379b"/><stop offset="0.550" stop-color="#7d3aa5"/><stop offset="0.565" stop-color="#392f96"/><stop offset="0.576" stop-color="#392f96"/><stop offset="0.582" stop-color="#5a82c8"/><stop offset="0.590" stop-color="#a0d7eb"/><stop offset="0.598" stop-color="#a0d7eb"/><stop offset="0.603" stop-color="#82c896"/><stop offset="0.609" stop-color="#64b42d"/><stop offset="0.620" stop-color="#64b42d"/><stop offset="0.630" stop-color="#aacd23"/><stop offset="0.642" stop-color="#f0e419"/><stop offset="0.660" stop-color="#f09119"/><stop offset="0.672" stop-color="#e34618"/><stop offset="0.677" stop-color="#e03d18"/><stop offset="0.692" stop-color="#da2618"/></linearGradient>
<linearGradient id="c63" x1="0" y1="78" x2="0" y2="306" gradientUnits="userSpaceOnUse"><stop offset="0.000" stop-color="#ec7218"/><stop offset="0.109" stop-color="#ee8219"/><stop offset="0.184" stop-color="#f09119"/><stop offset="0.246" stop-color="#f0e419"/><stop offset="0.277" stop-color="#aacd23"/><stop offset="0.310" stop-color="#64b42d"/><stop offset="0.329" stop-color="#64b42d"/><stop offset="0.359" stop-color="#82c896"/><stop offset="0.381" stop-color="#a0d7eb"/><stop offset="0.390" stop-color="#a0d7eb"/><stop offset="0.404" stop-color="#5a82c8"/><stop offset="0.416" stop-color="#392f96"/><stop offset="0.428" stop-color="#392f96"/><stop offset="0.445" stop-color="#7d3aa5"/><stop offset="0.468" stop-color="#c33598"/><stop offset="0.487" stop-color="#eb1b66"/><stop offset="0.506" stop-color="#eb1b66"/><stop offset="0.528" stop-color="#eb1b66"/><stop offset="0.540" stop-color="#c33598"/><stop offset="0.551" stop-color="#7d3aa5"/><stop offset="0.566" stop-color="#392f96"/><stop offset="0.578" stop-color="#392f96"/><stop offset="0.584" stop-color="#5a82c8"/><stop offset="0.592" stop-color="#a0d7eb"/><stop offset="0.600" stop-color="#a0d7eb"/><stop offset="0.605" stop-color="#82c896"/><stop offset="0.611" stop-color="#64b42d"/><stop offset="0.623" stop-color="#64b42d"/><stop offset="0.633" stop-color="#aacd23"/><stop offset="0.646" stop-color="#f0e419"/><stop offset="0.663" stop-color="#f09119"/><stop offset="0.676" stop-color="#e34618"/><stop offset="0.681" stop-color="#e03d18"/><stop offset="0.696" stop-color="#da2618"/></linearGradient>
<linearGradient id="c64" x1="0" y1="78" x2="0" y2="306" gradientUnits="userSpaceOnUse"><stop offset="0.000" stop-color="#ec7218"/><stop offset="0.109" stop-color="#ee8219"/><stop offset="0.185" stop-color="#f09119"/><stop offset="0.246" stop-color="#f0e419"/><stop offset="0.277" stop-color="#aacd23"/><stop offset="0.310" stop-color="#64b42d"/><stop offset="0.329" stop-color="#64b42d"/><stop offset="0.360" stop-color="#82c896"/><stop offset="0.381" stop-color="#a0d7eb"/><stop offset="0.391" stop-color="#a0d7eb"/><stop offset="0.404" stop-color="#5a82c8"/><stop offset="0.417" stop-color="#392f96"/><stop offset="0.429" stop-color="#392f96"/><stop offset="0.445" stop-color="#7d3aa5"/><stop offset="0.469" stop-color="#c43497"/><stop offset="0.488" stop-color="#ec1b64"/><stop offset="0.507" stop-color="#ec1b64"/><stop offset="0.529" stop-color="#ec1b64"/><stop offset="0.541" stop-color="#c43497"/><stop offset="0.552" stop-color="#7d3aa5"/><stop offset="0.567" stop-color="#392f96"/><stop offset="0.579" stop-color="#392f96"/><stop offset="0.586" stop-color="#5a82c8"/><stop offset="0.593" stop-color="#a0d7eb"/><stop offset="0.601" stop-color="#a0d7eb"/><stop offset="0.607" stop-color="#82c896"/><stop offset="0.613" stop-color="#64b42d"/><stop offset="0.624" stop-color="#64b42d"/><stop offset="0.635" stop-color="#aacd23"/><stop offset="0.647" stop-color="#f0e419"/><stop offset="0.665" stop-color="#f09119"/><stop offset="0.678" stop-color="#e34618"/><stop offset="0.682" stop-color="#e03d18"/><stop offset="0.697" stop-color="#da2618"/></linearGradient>
<linearGradient id="c65" x1="0" y1="78" x2="0" y2="306" gradientUnits="userSpaceOnUse"><stop offset="0.000" stop-color="#ec7218"/><stop offset="0.109" stop-color="#ee8219"/><stop offset="0.185" stop-color="#f09119"/><stop offset="0.247" stop-color="#f0e419"/><stop offset="0.277" stop-color="#aacd23"/><stop offset="0.311" stop-color="#64b42d"/><stop offset="0.330" stop-color="#64b42d"/><stop offset="0.361" stop-color="#82c896"/><stop offset="0.382" stop-color="#a0d7eb"/><stop offset="0.391" stop-color="#a0d7eb"/><stop offset="0.405" stop-color="#5a82c8"/><stop offset="0.418" stop-color="#392f96"/><stop offset="0.429" stop-color="#392f96"/><stop offset="0.446" stop-color="#7d3aa5"/><stop offset="0.470" stop-color="#c43497"/><stop offset="0.489" stop-color="#ec1b64"/><stop offset="0.508" stop-color="#ec1b64"/><stop offset="0.530" stop-color="#ec1b64"/><stop offset="0.542" stop-color="#c43497"/><stop offset="0.553" stop-color="#7d3aa5"/><stop offset="0.568" stop-color="#392f96"/><stop offset="0.579" stop-color="#392f96"/><stop offset="0.586" stop-color="#5a82c8"/><stop offset="0.594" stop-color="#a0d7eb"/><stop offset="0.601" stop-color="#a0d7eb"/><stop offset="0.607" stop-color="#82c896"/><stop offset="0.613" stop-color="#64b42d"/><stop offset="0.624" stop-color="#64b42d"/><stop offset="0.634" stop-color="#aacd23"/><stop offset="0.647" stop-color="#f0e419"/><stop offset="0.664" stop-color="#f09119"/><stop offset="0.677" stop-color="#e34618"/><stop offset="0.682" stop-color="#e03d18"/><stop offset="0.697" stop-color="#da2618"/></linearGradient>
<linearGradient id="c66" x1="0" y1="78" x2="0" y2="306" gradientUnits="userSpaceOnUse"><stop offset="0.000" stop-color="#ec7218"/><stop offset="0.109" stop-color="#ee8219"/><stop offset="0.185" stop-color="#f09119"/><stop offset="0.247" stop-color="#f0e419"/><stop offset="0.278" stop-color="#aacd23"/><stop offset="0.311" stop-color="#64b42d"/><stop offset="0.330" stop-color="#64b42d"/><stop offset="0.361" stop-color="#82c896"/><stop offset="0.383" stop-color="#a0d7eb"/><stop offset="0.392" stop-color="#a0d7eb"/><stop offset="0.405" stop-color="#5a82c8"/><stop offset="0.418" stop-color="#392f96"/><stop offset="0.430" stop-color="#392f96"/><stop offset="0.447" stop-color="#7d3aa5"/><stop offset="0.471" stop-color="#c43497"/><stop offset="0.490" stop-color="#ec1b64"/><stop offset="0.509" stop-color="#ec1b64"/><stop offset="0.530" stop-color="#ec1b64"/><stop offset="0.542" stop-color="#c43497"/><stop offset="0.553" stop-color="#7d3aa5"/><stop offset="0.568" stop-color="#392f96"/><stop offset="0.579" stop-color="#392f96"/><stop offset="0.586" stop-color="#5a82c8"/><stop offset="0.594" stop-color="#a0d7eb"/><stop offset="0.601" stop-color="#a0d7eb"/><stop offset="0.607" stop-color="#82c896"/><stop offset="0.612" stop-color="#64b42d"/><stop offset="0.624" stop-color="#64b42d"/><stop offset="0.634" stop-color="#aacd23"/><stop offset="0.646" stop-color="#f0e419"/><stop offset="0.664" stop-color="#f09119"/><stop offset="0.677" stop-color="#e34618"/><stop offset="0.681" stop-color="#e03d18"/><stop offset="0.697" stop-color="#da2618"/></linearGradient>
<linearGradient id="c67" x1="0" y1="78" x2="0" y2="306" gradientUnits="userSpaceOnUse"><stop offset="0.000" stop-color="#ec7218"/><stop offset="0.109" stop-color="#ee8219"/><stop offset="0.185" stop-color="#f09119"/><stop offset="0.247" stop-color="#f0e419"/><stop offset="0.278" stop-color="#aacd23"/><stop offset="0.312" stop-color="#64b42d"/><stop offset="0.331" stop-color="#64b42d"/><stop offset="0.362" stop-color="#82c896"/><stop offset="0.383" stop-color="#a0d7eb"/><stop offset="0.393" stop-color="#a0d7eb"/><stop offset="0.406" stop-color="#5a82c8"/><stop offset="0.419" stop-color="#392f96"/><stop offset="0.431" stop-color="#392f96"/><stop offset="0.447" stop-color="#7d3aa5"/><stop offset="0.471" stop-color="#c43497"/><stop offset="0.490" stop-color="#ec1b64"/><stop offset="0.509" stop-color="#ec1b64"/><stop offset="0.531" stop-color="#ec1b64"/><stop offset="0.543" stop-color="#c43497"/><stop offset="0.553" stop-color="#7d3aa5"/><stop offset="0.568" stop-color="#392f96"/><stop offset="0.579" stop-color="#392f96"/><stop offset="0.586" stop-color="#5a82c8"/><stop offset="0.594" stop-color="#a0d7eb"/><stop offset="0.601" stop-color="#a0d7eb"/><stop offset="0.607" stop-color="#82c896"/><stop offset="0.612" stop-color="#64b42d"/><stop offset="0.623" stop-color="#64b42d"/><stop offset="0.634" stop-color="#aacd23"/><stop offset="0.646" stop-color="#f0e419"/><stop offset="0.664" stop-color="#f09119"/><stop offset="0.677" stop-color="#e34618"/><stop offset="0.681" stop-color="#e03d18"/><stop offset="0.696" stop-color="#da2618"/></linearGradient>
<linearGradient id="c68" x1="0" y1="78" x2="0" y2="306" gradientUnits="userSpaceOnUse"><stop offset="0.000" stop-color="#ec7218"/><stop offset="0.109" stop-color="#ee8219"/><stop offset="0.186" stop-color="#f09119"/><stop offset="0.248" stop-color="#f0e419"/><stop offset="0.279" stop-color="#aacd23"/><stop offset="0.312" stop-color="#64b42d"/><stop offset="0.331" stop-color="#64b42d"/><stop offset="0.362" stop-color="#82c896"/><stop offset="0.384" stop-color="#a0d7eb"/><stop offset="0.393" stop-color="#a0d7eb"/><stop offset="0.407" stop-color="#5a82c8"/><stop offset="0.419" stop-color="#392f96"/><stop offset="0.431" stop-color="#392f96"/><stop offset="0.448" stop-color="#7d3aa5"/><stop offset="0.472" stop-color="#c43497"/><stop offset="0.491" stop-color="#ec1b64"/><stop offset="0.510" stop-color="#ec1b64"/><stop offset="0.532" stop-color="#ec1b64"/><stop offset="0.543" stop-color="#c43497"/><stop offset="0.554" stop-color="#7d3aa5"/><stop offset="0.569" stop-color="#392f96"/><stop offset="0.580" stop-color="#392f96"/><stop offset="0.586" stop-color="#5a82c8"/><stop offset="0.594" stop-color="#a0d7eb"/><stop offset="0.601" stop-color="#a0d7eb"/><stop offset="0.607" stop-color="#82c896"/><stop offset="0.612" stop-color="#64b42d"/><stop offset="0.623" stop-color="#64b42d"/><stop offset="0.634" stop-color="#aacd23"/><stop offset="0.646" stop-color="#f0e419"/><stop offset="0.663" stop-color="#f09119"/><stop offset="0.676" stop-color="#e34618"/><stop offset="0.681" stop-color="#e03d18"/><stop offset="0.696" stop-color="#da2618"/></linearGradient>
<linearGradient id="c69" x1="0" y1="78" x2="0" y2="306" gradientUnits="userSpaceOnUse"><stop offset="0.000" stop-color="#ec7218"/><stop offset="0.109" stop-color="#ee8219"/><stop offset="0.186" stop-color="#f09119"/><stop offset="0.248" stop-color="#f0e419"/><stop offset="0.279" stop-color="#aacd23"/><stop offset="0.313" stop-color="#64b42d"/><stop offset="0.332" stop-color="#64b42d"/><stop offset="0.363" stop-color="#82c896"/><stop offset="0.384" stop-color="#a0d7eb"/><stop offset="0.394" stop-color="#a0d7eb"/><stop offset="0.407" stop-color="#5a82c8"/><stop offset="0.420" stop-color="#392f96"/><stop offset="0.432" stop-color="#392f96"/><stop offset="0.449" stop-color="#7d3aa5"/><stop offset="0.473" stop-color="#c43497"/><stop offset="0.492" stop-color="#ec1b64"/><stop offset="0.511" stop-color="#ec1b64"/><stop offset="0.532" stop-color="#ec1b64"/><stop offset="0.544" stop-color="#c43497"/><stop offset="0.554" stop-color="#7d3aa5"/><stop offset="0.569" stop-color="#392f96"/><stop offset="0.580" stop-color="#392f96"/><stop offset="0.586" stop-color="#5a82c8"/><stop offset="0.594" stop-color="#a0d7eb"/><stop offset="0.601" stop-color="#a0d7eb"/><stop offset="0.607" stop-color="#82c896"/><stop offset="0.612" stop-color="#64b42d"/><stop offset="0.623" stop-color="#64b42d"/><stop offset="0.634" stop-color="#aacd23"/><stop offset="0.645" stop-color="#f0e419"/><stop offset="0.663" stop-color="#f09119"/><stop offset="0.676" stop-color="#e34618"/><stop offset="0.680" stop-color="#e03d18"/><stop offset="0.696" stop-color="#da2618"/></linearGradient>
<linearGradient id="c70" x1="0" y1="78" x2="0" y2="306" gradientUnits="userSpaceOnUse"><stop offset="0.000" stop-color="#ec7218"/><stop offset="0.113" stop-color="#ee8219"/><stop offset="0.189" stop-color="#f09119"/><stop offset="0.251" stop-color="#f0e419"/><stop offset="0.282" stop-color="#aacd23"/><stop offset="0.315" stop-color="#64b42d"/><stop offset="0.334" stop-color="#64b42d"/><stop offset="0.365" stop-color="#82c896"/><stop offset="0.386" stop-color="#a0d7eb"/><stop offset="0.396" stop-color="#a0d7eb"/><stop offset="0.409" stop-color="#5a82c8"/><stop offset="0.422" stop-color="#392f96"/><stop offset="0.433" stop-color="#392f96"/><stop offset="0.450" stop-color="#7d3aa5"/><stop offset="0.474" stop-color="#c43497"/><stop offset="0.493" stop-color="#ec1b64"/><stop offset="0.512" stop-color="#ec1b64"/><stop offset="0.533" stop-color="#ec1b64"/><stop offset="0.544" stop-color="#c43497"/><stop offset="0.555" stop-color="#7d3aa5"/><stop offset="0.569" stop-color="#392f96"/><stop offset="0.580" stop-color="#392f96"/><stop offset="0.587" stop-color="#5a82c8"/><stop offset="0.594" stop-color="#a0d7eb"/><stop offset="0.601" stop-color="#a0d7eb"/><stop offset="0.607" stop-color="#82c896"/><stop offset="0.612" stop-color="#64b42d"/><stop offset="0.623" stop-color="#64b42d"/><stop offset="0.633" stop-color="#aacd23"/><stop offset="0.645" stop-color="#f0e419"/><stop offset="0.662" stop-color="#f09119"/><stop offset="0.676" stop-color="#e34618"/><stop offset="0.680" stop-color="#e03d18"/><stop offset="0.695" stop-color="#da2618"/></linearGradient>
<linearGradient id="c71" x1="0" y1="78" x2="0" y2="306" gradientUnits="userSpaceOnUse"><stop offset="0.000" stop-color="#ec7218"/><stop offset="0.117" stop-color="#ee8219"/><stop offset="0.193" stop-color="#f09119"/><stop offset="0.254" stop-color="#f0e419"/><stop offset="0.284" stop-color="#aacd23"/><stop offset="0.317" stop-color="#64b42d"/><stop offset="0.336" stop-color="#64b42d"/><stop offset="0.367" stop-color="#82c896"/><stop offset="0.388" stop-color="#a0d7eb"/><stop offset="0.397" stop-color="#a0d7eb"/><stop offset="0.410" stop-color="#5a82c8"/><stop offset="0.423" stop-color="#392f96"/><stop offset="0.435" stop-color="#392f96"/><stop offset="0.451" stop-color="#7d3aa5"/><stop offset="0.475" stop-color="#c43497"/><stop offset="0.494" stop-color="#ec1b64"/><stop offset="0.513" stop-color="#ec1b64"/><stop offset="0.533" stop-color="#ec1b64"/><stop offset="0.545" stop-color="#c43497"/><stop offset="0.555" stop-color="#7d3aa5"/><stop offset="0.570" stop-color="#392f96"/><stop offset="0.580" stop-color="#392f96"/><stop offset="0.587" stop-color="#5a82c8"/><stop offset="0.594" stop-color="#a0d7eb"/><stop offset="0.602" stop-color="#a0d7eb"/><stop offset="0.607" stop-color="#82c896"/><stop offset="0.612" stop-color="#64b42d"/><stop offset="0.623" stop-color="#64b42d"/><stop offset="0.633" stop-color="#aacd23"/><stop offset="0.645" stop-color="#f0e419"/><stop offset="0.662" stop-color="#f09119"/><stop offset="0.675" stop-color="#e34618"/><stop offset="0.680" stop-color="#e03d18"/><stop offset="0.695" stop-color="#da2618"/></linearGradient>
<linearGradient id="c72" x1="0" y1="78" x2="0" y2="306" gradientUnits="userSpaceOnUse"><stop offset="0.000" stop-color="#ec7218"/><stop offset="0.121" stop-color="#ee8219"/><stop offset="0.196" stop-color="#f09119"/><stop offset="0.257" stop-color="#f0e419"/><stop offset="0.287" stop-color="#aacd23"/><stop offset="0.320" stop-color="#64b42d"/><stop offset="0.338" stop-color="#64b42d"/><stop offset="0.369" stop-color="#82c896"/><stop offset="0.390" stop-color="#a0d7eb"/><stop offset="0.399" stop-color="#a0d7eb"/><stop offset="0.412" stop-color="#5a82c8"/><stop offset="0.425" stop-color="#392f96"/><stop offset="0.436" stop-color="#392f96"/><stop offset="0.453" stop-color="#7d3aa5"/><stop offset="0.476" stop-color="#c43497"/><stop offset="0.495" stop-color="#ec1b64"/><stop offset="0.513" stop-color="#ec1b64"/><stop offset="0.534" stop-color="#ec1b64"/><stop offset="0.546" stop-color="#c43497"/><stop offset="0.556" stop-color="#7d3aa5"/><stop offset="0.570" stop-color="#392f96"/><stop offset="0.580" stop-color="#392f96"/><stop offset="0.587" stop-color="#5a82c8"/><stop offset="0.594" stop-color="#a0d7eb"/><stop offset="0.602" stop-color="#a0d7eb"/><stop offset="0.607" stop-color="#82c896"/><stop offset="0.612" stop-color="#64b42d"/><stop offset="0.623" stop-color="#64b42d"/><stop offset="0.633" stop-color="#aacd23"/><stop offset="0.644" stop-color="#f0e419"/><stop offset="0.662" stop-color="#f09119"/><stop offset="0.675" stop-color="#e34618"/><stop offset="0.679" stop-color="#e03d18"/><stop offset="0.695" stop-color="#da2618"/></linearGradient>
<linearGradient id="c73" x1="0" y1="78" x2="0" y2="306" gradientUnits="userSpaceOnUse"><stop offset="0.000" stop-color="#ec7218"/><stop offset="0.125" stop-color="#ee8219"/><stop offset="0.199" stop-color="#f09119"/><stop offset="0.259" stop-color="#f0e419"/><stop offset="0.290" stop-color="#aacd23"/><stop offset="0.322" stop-color="#64b42d"/><stop offset="0.340" stop-color="#64b42d"/><stop offset="0.371" stop-color="#82c896"/><stop offset="0.391" stop-color="#a0d7eb"/><stop offset="0.401" stop-color="#a0d7eb"/><stop offset="0.414" stop-color="#5a82c8"/><stop offset="0.426" stop-color="#392f96"/><stop offset="0.438" stop-color="#392f96"/><stop offset="0.454" stop-color="#7d3aa5"/><stop offset="0.477" stop-color="#c43497"/><stop offset="0.496" stop-color="#ec1b64"/><stop offset="0.514" stop-color="#ec1b64"/><stop offset="0.535" stop-color="#ec1b64"/><stop offset="0.546" stop-color="#c43497"/><stop offset="0.556" stop-color="#7d3aa5"/><stop offset="0.570" stop-color="#392f96"/><stop offset="0.581" stop-color="#392f96"/><stop offset="0.587" stop-color="#5a82c8"/><stop offset="0.594" stop-color="#a0d7eb"/><stop offset="0.602" stop-color="#a0d7eb"/><stop offset="0.607" stop-color="#82c896"/><stop offset="0.612" stop-color="#64b42d"/><stop offset="0.623" stop-color="#64b42d"/><stop offset="0.633" stop-color="#aacd23"/><stop offset="0.644" stop-color="#f0e419"/><stop offset="0.661" stop-color="#f09119"/><stop offset="0.675" stop-color="#e34618"/><stop offset="0.679" stop-color="#e03d18"/><stop offset="0.694" stop-color="#da2618"/></linearGradient>
<linearGradient id="c74" x1="0" y1="78" x2="0" y2="306" gradientUnits="userSpaceOnUse"><stop offset="0.000" stop-color="#ec7218"/><stop offset="0.129" stop-color="#ee8219"/><stop offset="0.203" stop-color="#f09119"/><stop offset="0.262" stop-color="#f0e419"/><stop offset="0.292" stop-color="#aacd23"/><stop offset="0.324" stop-color="#64b42d"/><stop offset="0.343" stop-color="#64b42d"/><stop offset="0.373" stop-color="#82c896"/><stop offset="0.393" stop-color="#a0d7eb"/><stop offset="0.402" stop-color="#a0d7eb"/><stop offset="0.415" stop-color="#5a82c8"/><stop offset="0.428" stop-color="#392f96"/><stop offset="0.439" stop-color="#392f96"/><stop offset="0.455" stop-color="#7d3aa5"/><stop offset="0.478" stop-color="#c43497"/><stop offset="0.497" stop-color="#ec1b64"/><stop offset="0.515" stop-color="#ec1b64"/><stop offset="0.535" stop-color="#ec1b64"/><stop offset="0.547" stop-color="#c43497"/><stop offset="0.556" stop-color="#7d3aa5"/><stop offset="0.570" stop-color="#392f96"/><stop offset="0.581" stop-color="#392f96"/><stop offset="0.587" stop-color="#5a82c8"/><stop offset="0.594" stop-color="#a0d7eb"/><stop offset="0.602" stop-color="#a0d7eb"/><stop offset="0.607" stop-color="#82c896"/><stop offset="0.612" stop-color="#64b42d"/><stop offset="0.622" stop-color="#64b42d"/><stop offset="0.632" stop-color="#aacd23"/><stop offset="0.644" stop-color="#f0e419"/><stop offset="0.661" stop-color="#f09119"/><stop offset="0.674" stop-color="#e34618"/><stop offset="0.679" stop-color="#e03d18"/><stop offset="0.694" stop-color="#da2618"/></linearGradient>
<linearGradient id="c75" x1="0" y1="78" x2="0" y2="306" gradientUnits="userSpaceOnUse"><stop offset="0.000" stop-color="#ec7218"/><stop offset="0.133" stop-color="#ee8219"/><stop offset="0.206" stop-color="#f09119"/><stop offset="0.265" stop-color="#f0e419"/><stop offset="0.295" stop-color="#aacd23"/><stop offset="0.327" stop-color="#64b42d"/><stop offset="0.345" stop-color="#64b42d"/><stop offset="0.375" stop-color="#82c896"/><stop offset="0.395" stop-color="#a0d7eb"/><stop offset="0.404" stop-color="#a0d7eb"/><stop offset="0.417" stop-color="#5a82c8"/><stop offset="0.429" stop-color="#392f96"/><stop offset="0.441" stop-color="#392f96"/><stop offset="0.457" stop-color="#7d3aa5"/><stop offset="0.479" stop-color="#c33598"/><stop offset="0.498" stop-color="#eb1b66"/><stop offset="0.516" stop-color="#eb1b66"/><stop offset="0.536" stop-color="#eb1b66"/><stop offset="0.547" stop-color="#c33598"/><stop offset="0.557" stop-color="#7d3aa5"/><stop offset="0.571" stop-color="#392f96"/><stop offset="0.581" stop-color="#392f96"/><stop offset="0.587" stop-color="#5a82c8"/><stop offset="0.594" stop-color="#a0d7eb"/><stop offset="0.602" stop-color="#a0d7eb"/><stop offset="0.607" stop-color="#82c896"/><stop offset="0.612" stop-color="#64b42d"/><stop offset="0.622" stop-color="#64b42d"/><stop offset="0.632" stop-color="#aacd23"/><stop offset="0.643" stop-color="#f0e419"/><stop offset="0.661" stop-color="#f09119"/><stop offset="0.674" stop-color="#e34618"/><stop offset="0.678" stop-color="#e03d18"/><stop offset="0.694" stop-color="#da2618"/></linearGradient>
<linearGradient id="c76" x1="0" y1="78" x2="0" y2="306" gradientUnits="userSpaceOnUse"><stop offset="0.000" stop-color="#ec7218"/><stop offset="0.137" stop-color="#ee8219"/><stop offset="0.209" stop-color="#f09119"/><stop offset="0.268" stop-color="#f0e419"/><stop offset="0.297" stop-color="#aacd23"/><stop offset="0.329" stop-color="#64b42d"/><stop offset="0.347" stop-color="#64b42d"/><stop offset="0.376" stop-color="#82c896"/><stop offset="0.397" stop-color="#a0d7eb"/><stop offset="0.406" stop-color="#a0d7eb"/><stop offset="0.418" stop-color="#5a82c8"/><stop offset="0.431" stop-color="#392f96"/><stop offset="0.442" stop-color="#392f96"/><stop offset="0.458" stop-color="#7d3aa5"/><stop offset="0.480" stop-color="#bd399d"/><stop offset="0.498" stop-color="#e71e6f"/><stop offset="0.517" stop-color="#e71e6f"/><stop offset="0.536" stop-color="#e71e6f"/><stop offset="0.548" stop-color="#bd399d"/><stop offset="0.557" stop-color="#7d3aa5"/><stop offset="0.571" stop-color="#392f96"/><stop offset="0.581" stop-color="#392f96"/><stop offset="0.587" stop-color="#5a82c8"/><stop offset="0.595" stop-color="#a0d7eb"/><stop offset="0.602" stop-color="#a0d7eb"/><stop offset="0.607" stop-color="#82c896"/><stop offset="0.612" stop-color="#64b42d"/><stop offset="0.622" stop-color="#64b42d"/><stop offset="0.632" stop-color="#aacd23"/><stop offset="0.643" stop-color="#f0e419"/><stop offset="0.660" stop-color="#f09119"/><stop offset="0.674" stop-color="#e34618"/><stop offset="0.678" stop-color="#e03d18"/><stop offset="0.693" stop-color="#da2618"/></linearGradient>
<linearGradient id="c77" x1="0" y1="78" x2="0" y2="306" gradientUnits="userSpaceOnUse"><stop offset="0.000" stop-color="#ec7218"/><stop offset="0.139" stop-color="#ee8219"/><stop offset="0.211" stop-color="#f09119"/><stop offset="0.270" stop-color="#f0e419"/><stop offset="0.299" stop-color="#aacd23"/><stop offset="0.331" stop-color="#64b42d"/><stop offset="0.349" stop-color="#64b42d"/><stop offset="0.378" stop-color="#82c896"/><stop offset="0.398" stop-color="#a0d7eb"/><stop offset="0.407" stop-color="#a0d7eb"/><stop offset="0.420" stop-color="#5a82c8"/><stop offset="0.432" stop-color="#392f96"/><stop offset="0.443" stop-color="#392f96"/><stop offset="0.459" stop-color="#7d3aa5"/><stop offset="0.481" stop-color="#b73ca2"/><stop offset="0.499" stop-color="#e32178"/><stop offset="0.517" stop-color="#e32178"/><stop offset="0.537" stop-color="#e32178"/><stop offset="0.548" stop-color="#b73ca2"/><stop offset="0.558" stop-color="#7d3aa5"/><stop offset="0.571" stop-color="#392f96"/><stop offset="0.581" stop-color="#392f96"/><stop offset="0.588" stop-color="#5a82c8"/><stop offset="0.595" stop-color="#a0d7eb"/><stop offset="0.602" stop-color="#a0d7eb"/><stop offset="0.607" stop-color="#82c896"/><stop offset="0.612" stop-color="#64b42d"/><stop offset="0.622" stop-color="#64b42d"/><stop offset="0.632" stop-color="#aacd23"/><stop offset="0.643" stop-color="#f0e419"/><stop offset="0.660" stop-color="#f09119"/><stop offset="0.673" stop-color="#e34618"/><stop offset="0.678" stop-color="#e03d18"/><stop offset="0.693" stop-color="#da2618"/></linearGradient>
<linearGradient id="s0" x1="426.7" x2="451.7" y1="0" y2="0" gradientUnits="userSpaceOnUse"><stop offset="0" stop-color="#dd2c19" stop-opacity="0"/><stop offset="0.12" stop-color="#dd2c19" stop-opacity="0.1"/><stop offset="0.24" stop-color="#dd2c19" stop-opacity="0.5"/><stop offset="0.34" stop-color="#dd2c19" stop-opacity="0.88"/><stop offset="0.42" stop-color="#dd2c19" stop-opacity="1"/><stop offset="0.58" stop-color="#dd2c19" stop-opacity="1"/><stop offset="0.66" stop-color="#dd2c19" stop-opacity="0.88"/><stop offset="0.76" stop-color="#dd2c19" stop-opacity="0.5"/><stop offset="0.88" stop-color="#dd2c19" stop-opacity="0.1"/><stop offset="1" stop-color="#dd2c19" stop-opacity="0"/></linearGradient>
<linearGradient id="s1" x1="451.6" x2="476.6" y1="0" y2="0" gradientUnits="userSpaceOnUse"><stop offset="0" stop-color="#dd2c19" stop-opacity="0"/><stop offset="0.12" stop-color="#dd2c19" stop-opacity="0.1"/><stop offset="0.24" stop-color="#dd2c19" stop-opacity="0.5"/><stop offset="0.34" stop-color="#dd2c19" stop-opacity="0.88"/><stop offset="0.42" stop-color="#dd2c19" stop-opacity="1"/><stop offset="0.58" stop-color="#dd2c19" stop-opacity="1"/><stop offset="0.66" stop-color="#dd2c19" stop-opacity="0.88"/><stop offset="0.76" stop-color="#dd2c19" stop-opacity="0.5"/><stop offset="0.88" stop-color="#dd2c19" stop-opacity="0.1"/><stop offset="1" stop-color="#dd2c19" stop-opacity="0"/></linearGradient>
<linearGradient id="s2" x1="476.5" x2="501.5" y1="0" y2="0" gradientUnits="userSpaceOnUse"><stop offset="0" stop-color="#dd2c19" stop-opacity="0"/><stop offset="0.12" stop-color="#dd2c19" stop-opacity="0.1"/><stop offset="0.24" stop-color="#dd2c19" stop-opacity="0.5"/><stop offset="0.34" stop-color="#dd2c19" stop-opacity="0.88"/><stop offset="0.42" stop-color="#dd2c19" stop-opacity="1"/><stop offset="0.58" stop-color="#dd2c19" stop-opacity="1"/><stop offset="0.66" stop-color="#dd2c19" stop-opacity="0.88"/><stop offset="0.76" stop-color="#dd2c19" stop-opacity="0.5"/><stop offset="0.88" stop-color="#dd2c19" stop-opacity="0.1"/><stop offset="1" stop-color="#dd2c19" stop-opacity="0"/></linearGradient>
<linearGradient id="s3" x1="500.9" x2="525.9" y1="0" y2="0" gradientUnits="userSpaceOnUse"><stop offset="0" stop-color="#dd2c19" stop-opacity="0"/><stop offset="0.12" stop-color="#dd2c19" stop-opacity="0.1"/><stop offset="0.24" stop-color="#dd2c19" stop-opacity="0.5"/><stop offset="0.34" stop-color="#dd2c19" stop-opacity="0.88"/><stop offset="0.42" stop-color="#dd2c19" stop-opacity="1"/><stop offset="0.58" stop-color="#dd2c19" stop-opacity="1"/><stop offset="0.66" stop-color="#dd2c19" stop-opacity="0.88"/><stop offset="0.76" stop-color="#dd2c19" stop-opacity="0.5"/><stop offset="0.88" stop-color="#dd2c19" stop-opacity="0.1"/><stop offset="1" stop-color="#dd2c19" stop-opacity="0"/></linearGradient>
<linearGradient id="s4" x1="526.0" x2="551.0" y1="0" y2="0" gradientUnits="userSpaceOnUse"><stop offset="0" stop-color="#dd2c19" stop-opacity="0"/><stop offset="0.12" stop-color="#dd2c19" stop-opacity="0.1"/><stop offset="0.24" stop-color="#dd2c19" stop-opacity="0.5"/><stop offset="0.34" stop-color="#dd2c19" stop-opacity="0.88"/><stop offset="0.42" stop-color="#dd2c19" stop-opacity="1"/><stop offset="0.58" stop-color="#dd2c19" stop-opacity="1"/><stop offset="0.66" stop-color="#dd2c19" stop-opacity="0.88"/><stop offset="0.76" stop-color="#dd2c19" stop-opacity="0.5"/><stop offset="0.88" stop-color="#dd2c19" stop-opacity="0.1"/><stop offset="1" stop-color="#dd2c19" stop-opacity="0"/></linearGradient>
<linearGradient id="s5" x1="551.1" x2="576.1" y1="0" y2="0" gradientUnits="userSpaceOnUse"><stop offset="0" stop-color="#dd2c19" stop-opacity="0"/><stop offset="0.12" stop-color="#dd2c19" stop-opacity="0.1"/><stop offset="0.24" stop-color="#dd2c19" stop-opacity="0.5"/><stop offset="0.34" stop-color="#dd2c19" stop-opacity="0.88"/><stop offset="0.42" stop-color="#dd2c19" stop-opacity="1"/><stop offset="0.58" stop-color="#dd2c19" stop-opacity="1"/><stop offset="0.66" stop-color="#dd2c19" stop-opacity="0.88"/><stop offset="0.76" stop-color="#dd2c19" stop-opacity="0.5"/><stop offset="0.88" stop-color="#dd2c19" stop-opacity="0.1"/><stop offset="1" stop-color="#dd2c19" stop-opacity="0"/></linearGradient>
<linearGradient id="s6" x1="576.6" x2="601.6" y1="0" y2="0" gradientUnits="userSpaceOnUse"><stop offset="0" stop-color="#dd2c19" stop-opacity="0"/><stop offset="0.12" stop-color="#dd2c19" stop-opacity="0.1"/><stop offset="0.24" stop-color="#dd2c19" stop-opacity="0.5"/><stop offset="0.34" stop-color="#dd2c19" stop-opacity="0.88"/><stop offset="0.42" stop-color="#dd2c19" stop-opacity="1"/><stop offset="0.58" stop-color="#dd2c19" stop-opacity="1"/><stop offset="0.66" stop-color="#dd2c19" stop-opacity="0.88"/><stop offset="0.76" stop-color="#dd2c19" stop-opacity="0.5"/><stop offset="0.88" stop-color="#dd2c19" stop-opacity="0.1"/><stop offset="1" stop-color="#dd2c19" stop-opacity="0"/></linearGradient>
<linearGradient id="s7" x1="601.2" x2="626.2" y1="0" y2="0" gradientUnits="userSpaceOnUse"><stop offset="0" stop-color="#dd2c19" stop-opacity="0"/><stop offset="0.12" stop-color="#dd2c19" stop-opacity="0.1"/><stop offset="0.24" stop-color="#dd2c19" stop-opacity="0.5"/><stop offset="0.34" stop-color="#dd2c19" stop-opacity="0.88"/><stop offset="0.42" stop-color="#dd2c19" stop-opacity="1"/><stop offset="0.58" stop-color="#dd2c19" stop-opacity="1"/><stop offset="0.66" stop-color="#dd2c19" stop-opacity="0.88"/><stop offset="0.76" stop-color="#dd2c19" stop-opacity="0.5"/><stop offset="0.88" stop-color="#dd2c19" stop-opacity="0.1"/><stop offset="1" stop-color="#dd2c19" stop-opacity="0"/></linearGradient>
<linearGradient id="s8" x1="626.0" x2="651.0" y1="0" y2="0" gradientUnits="userSpaceOnUse"><stop offset="0" stop-color="#dd2c19" stop-opacity="0"/><stop offset="0.12" stop-color="#dd2c19" stop-opacity="0.1"/><stop offset="0.24" stop-color="#dd2c19" stop-opacity="0.5"/><stop offset="0.34" stop-color="#dd2c19" stop-opacity="0.88"/><stop offset="0.42" stop-color="#dd2c19" stop-opacity="1"/><stop offset="0.58" stop-color="#dd2c19" stop-opacity="1"/><stop offset="0.66" stop-color="#dd2c19" stop-opacity="0.88"/><stop offset="0.76" stop-color="#dd2c19" stop-opacity="0.5"/><stop offset="0.88" stop-color="#dd2c19" stop-opacity="0.1"/><stop offset="1" stop-color="#dd2c19" stop-opacity="0"/></linearGradient>
<linearGradient id="s9" x1="651.0" x2="676.0" y1="0" y2="0" gradientUnits="userSpaceOnUse"><stop offset="0" stop-color="#dd2c19" stop-opacity="0"/><stop offset="0.12" stop-color="#dd2c19" stop-opacity="0.1"/><stop offset="0.24" stop-color="#dd2c19" stop-opacity="0.5"/><stop offset="0.34" stop-color="#dd2c19" stop-opacity="0.88"/><stop offset="0.42" stop-color="#dd2c19" stop-opacity="1"/><stop offset="0.58" stop-color="#dd2c19" stop-opacity="1"/><stop offset="0.66" stop-color="#dd2c19" stop-opacity="0.88"/><stop offset="0.76" stop-color="#dd2c19" stop-opacity="0.5"/><stop offset="0.88" stop-color="#dd2c19" stop-opacity="0.1"/><stop offset="1" stop-color="#dd2c19" stop-opacity="0"/></linearGradient>
<linearGradient id="s10" x1="675.9" x2="700.9" y1="0" y2="0" gradientUnits="userSpaceOnUse"><stop offset="0" stop-color="#dd2c19" stop-opacity="0"/><stop offset="0.12" stop-color="#dd2c19" stop-opacity="0.1"/><stop offset="0.24" stop-color="#dd2c19" stop-opacity="0.5"/><stop offset="0.34" stop-color="#dd2c19" stop-opacity="0.88"/><stop offset="0.42" stop-color="#dd2c19" stop-opacity="1"/><stop offset="0.58" stop-color="#dd2c19" stop-opacity="1"/><stop offset="0.66" stop-color="#dd2c19" stop-opacity="0.88"/><stop offset="0.76" stop-color="#dd2c19" stop-opacity="0.5"/><stop offset="0.88" stop-color="#dd2c19" stop-opacity="0.1"/><stop offset="1" stop-color="#dd2c19" stop-opacity="0"/></linearGradient>
<linearGradient id="s11" x1="700.7" x2="725.7" y1="0" y2="0" gradientUnits="userSpaceOnUse"><stop offset="0" stop-color="#dd2c19" stop-opacity="0"/><stop offset="0.12" stop-color="#dd2c19" stop-opacity="0.1"/><stop offset="0.24" stop-color="#dd2c19" stop-opacity="0.5"/><stop offset="0.34" stop-color="#dd2c19" stop-opacity="0.88"/><stop offset="0.42" stop-color="#dd2c19" stop-opacity="1"/><stop offset="0.58" stop-color="#dd2c19" stop-opacity="1"/><stop offset="0.66" stop-color="#dd2c19" stop-opacity="0.88"/><stop offset="0.76" stop-color="#dd2c19" stop-opacity="0.5"/><stop offset="0.88" stop-color="#dd2c19" stop-opacity="0.1"/><stop offset="1" stop-color="#dd2c19" stop-opacity="0"/></linearGradient>
<linearGradient id="s12" x1="727.0" x2="752.0" y1="0" y2="0" gradientUnits="userSpaceOnUse"><stop offset="0" stop-color="#dd2c19" stop-opacity="0"/><stop offset="0.12" stop-color="#dd2c19" stop-opacity="0.1"/><stop offset="0.24" stop-color="#dd2c19" stop-opacity="0.5"/><stop offset="0.34" stop-color="#dd2c19" stop-opacity="0.88"/><stop offset="0.42" stop-color="#dd2c19" stop-opacity="1"/><stop offset="0.58" stop-color="#dd2c19" stop-opacity="1"/><stop offset="0.66" stop-color="#dd2c19" stop-opacity="0.88"/><stop offset="0.76" stop-color="#dd2c19" stop-opacity="0.5"/><stop offset="0.88" stop-color="#dd2c19" stop-opacity="0.1"/><stop offset="1" stop-color="#dd2c19" stop-opacity="0"/></linearGradient>
<linearGradient id="s13" x1="751.9" x2="776.9" y1="0" y2="0" gradientUnits="userSpaceOnUse"><stop offset="0" stop-color="#dd2c19" stop-opacity="0"/><stop offset="0.12" stop-color="#dd2c19" stop-opacity="0.1"/><stop offset="0.24" stop-color="#dd2c19" stop-opacity="0.5"/><stop offset="0.34" stop-color="#dd2c19" stop-opacity="0.88"/><stop offset="0.42" stop-color="#dd2c19" stop-opacity="1"/><stop offset="0.58" stop-color="#dd2c19" stop-opacity="1"/><stop offset="0.66" stop-color="#dd2c19" stop-opacity="0.88"/><stop offset="0.76" stop-color="#dd2c19" stop-opacity="0.5"/><stop offset="0.88" stop-color="#dd2c19" stop-opacity="0.1"/><stop offset="1" stop-color="#dd2c19" stop-opacity="0"/></linearGradient>
<linearGradient id="vm" x1="0" x2="0" y1="78" y2="138" gradientUnits="userSpaceOnUse"><stop offset="0" stop-color="#fff"/><stop offset="0.66" stop-color="#fff"/><stop offset="0.82" stop-color="#777"/><stop offset="1" stop-color="#000"/></linearGradient>
<mask id="vmask" maskUnits="userSpaceOnUse" x="434" y="78" width="312" height="60"><rect x="434" y="78" width="312" height="60" fill="url(#vm)"/></mask>
<clipPath id="rc"><rect x="434" y="78" width="312" height="228"/></clipPath>
<linearGradient id="hz" x1="0" x2="0" y1="78" y2="104" gradientUnits="userSpaceOnUse"><stop offset="0" stop-color="#dd2c19" stop-opacity=".5"/><stop offset="0.4" stop-color="#dd2c19" stop-opacity=".3"/><stop offset="1" stop-color="#dd2c19" stop-opacity="0"/></linearGradient>
</defs>
<rect width="785" height="402" fill="#fff"/>
<!-- left panel -->
<rect x="75.5" y="75.5" width="311" height="233" fill="#d92518"/>
<g clip-path="url(#lc)">
<polyline points="76.5,203 78,192 82.6,185 88,182.6 95,183 105.6,200.2 117.8,179.5 128.5,198.5 143.8,180.3 154.5,197.5 168.3,184.1 176,184.3 179.5,197.5 194.2,185 201.8,200.2 217.9,184.9 226.3,199.5 244.6,181.8 252.3,200.2 270.6,181.8 277.5,201.8 292.5,176.5 303.5,200.2 319.3,176.5 328.5,196.4 339.2,189.5 346.9,188.7 351.5,201.8 365.2,187.2 375.9,203.3 385.5,188" fill="none" stroke="#f4e51c" stroke-width="5.6" stroke-linejoin="round" stroke-linecap="butt"/>
<line x1="76.5" y1="203" x2="78" y2="192" stroke="#c3dc2e" stroke-width="2.6" opacity=".85"/>
<line x1="78" y1="192" x2="82.6" y2="185" stroke="#c3dc2e" stroke-width="2.6" opacity=".85"/>
<polygon points="94.5,180.2 101.5,180.2 109.1,202.6 100.6,202.6" fill="url(#stripe)"/>
<line x1="105.6" y1="200.2" x2="117.8" y2="179.5" stroke="#c3dc2e" stroke-width="2.6" opacity=".85"/>
<polygon points="117.3,176.7 124.3,176.7 132.0,200.9 123.5,200.9" fill="url(#stripe)"/>
<line x1="128.5" y1="198.5" x2="143.8" y2="180.3" stroke="#c3dc2e" stroke-width="2.6" opacity=".85"/>
<polygon points="143.3,177.5 150.3,177.5 158.0,199.9 149.5,199.9" fill="url(#stripe)"/>
<line x1="154.5" y1="197.5" x2="168.3" y2="184.1" stroke="#c3dc2e" stroke-width="2.6" opacity=".85"/>
<polygon points="175.5,181.5 182.5,181.5 183.0,199.9 174.5,199.9" fill="url(#stripe)"/>
<line x1="179.5" y1="197.5" x2="194.2" y2="185" stroke="#c3dc2e" stroke-width="2.6" opacity=".85"/>
<polygon points="193.7,182.2 200.7,182.2 205.3,202.6 196.8,202.6" fill="url(#stripe)"/>
<line x1="201.8" y1="200.2" x2="217.9" y2="184.9" stroke="#c3dc2e" stroke-width="2.6" opacity=".85"/>
<polygon points="217.4,182.1 224.4,182.1 229.8,201.9 221.3,201.9" fill="url(#stripe)"/>
<line x1="226.3" y1="199.5" x2="244.6" y2="181.8" stroke="#c3dc2e" stroke-width="2.6" opacity=".85"/>
<polygon points="244.1,179.0 251.1,179.0 255.8,202.6 247.3,202.6" fill="url(#stripe)"/>
<line x1="252.3" y1="200.2" x2="270.6" y2="181.8" stroke="#c3dc2e" stroke-width="2.6" opacity=".85"/>
<polygon points="270.1,179.0 277.1,179.0 281.0,204.2 272.5,204.2" fill="url(#stripe)"/>
<line x1="277.5" y1="201.8" x2="292.5" y2="176.5" stroke="#c3dc2e" stroke-width="2.6" opacity=".85"/>
<polygon points="292.0,173.7 299.0,173.7 307.0,202.6 298.5,202.6" fill="url(#stripe)"/>
<line x1="303.5" y1="200.2" x2="319.3" y2="176.5" stroke="#c3dc2e" stroke-width="2.6" opacity=".85"/>
<polygon points="318.8,173.7 325.8,173.7 332.0,198.8 323.5,198.8" fill="url(#stripe)"/>
<line x1="328.5" y1="196.4" x2="339.2" y2="189.5" stroke="#c3dc2e" stroke-width="2.6" opacity=".85"/>
<polygon points="346.4,185.9 353.4,185.9 355.0,204.2 346.5,204.2" fill="url(#stripe)"/>
<line x1="351.5" y1="201.8" x2="365.2" y2="187.2" stroke="#c3dc2e" stroke-width="2.6" opacity=".85"/>
<polygon points="364.7,184.4 371.7,184.4 379.4,205.7 370.9,205.7" fill="url(#stripe)"/>
<line x1="375.9" y1="203.3" x2="385.5" y2="188" stroke="#c3dc2e" stroke-width="2.6" opacity=".85"/>
<line x1="77" x2="92" y1="288.4" y2="288.4" stroke="#f58a1e" stroke-width="1.2"/>
<line x1="103" x2="109" y1="241.5" y2="241.5" stroke="#f58a1e" stroke-width="1.2"/>
<line x1="143.4" x2="147.2" y1="238.4" y2="238.4" stroke="#f58a1e" stroke-width="1.2"/>
<line x1="86.6" x2="91.7" y1="225.5" y2="225.5" stroke="#f58a1e" stroke-width="1.2"/>
<line x1="122" x2="127" y1="219.4" y2="219.4" stroke="#f58a1e" stroke-width="1.2"/>
<line x1="231.3" x2="232.8" y1="284.7" y2="284.7" stroke="#f58a1e" stroke-width="1.2"/>
<line x1="244.6" x2="284" y1="288.6" y2="288.6" stroke="#f58a1e" stroke-width="1.2"/>
<line x1="229.5" x2="231" y1="246.5" y2="246.5" stroke="#f58a1e" stroke-width="1.2"/>
<line x1="237" x2="239.7" y1="246.5" y2="246.5" stroke="#f58a1e" stroke-width="1.2"/>
<line x1="251.8" x2="260.7" y1="246.5" y2="246.5" stroke="#f58a1e" stroke-width="1.2"/>
<line x1="267" x2="268.5" y1="247" y2="247" stroke="#f58a1e" stroke-width="1.2"/>
<line x1="280" x2="281.5" y1="288.3" y2="288.3" stroke="#f58a1e" stroke-width="1.2"/>
<line x1="285.5" x2="287" y1="288.3" y2="288.3" stroke="#f58a1e" stroke-width="1.2"/>
<polyline points="312,276.6 326,276.8 340,281 353.5,285.8 370,288 386.5,290.5" fill="none" stroke="#f58a1e" stroke-width="1.4"/>
<line x1="76" x2="387" y1="307.5" y2="307.5" stroke="#f58a1e" stroke-width="1"/>
<path d="M76.0 130.6L76.5 133.3L77.0 136.9L77.5 141.3L78.0 146.4L78.5 152.1L79.0 158.5L79.5 165.3L80.0 172.6L80.5 180.1L81.0 187.9L81.5 195.8L82.0 203.6L82.5 211.4L83.0 218.9L83.5 226.2L84.0 233.0L84.5 239.4L85.0 245.1L85.5 250.2L86.0 254.6L86.5 258.2L87.0 260.9L87.5 262.8L88.0 263.8L88.5 263.9L89.0 262.7L89.5 260.1L90.0 256.2L90.5 251.1L91.0 244.9L91.5 237.7L92.0 229.7L92.5 220.9L93.0 211.7L93.5 202.1L94.0 192.3L94.5 182.6L95.0 173.1L95.5 164.0L96.0 155.5L96.5 147.8L97.0 141.0L97.5 135.2L98.0 130.6L98.5 127.2L99.0 125.2L99.5 124.5L100.0 125.0L100.5 126.4L101.0 128.7L101.5 131.9L102.0 136.0L102.5 140.9L103.0 146.5L103.5 152.8L104.0 159.6L104.5 167.0L105.0 174.8L105.5 182.9L106.0 191.3L106.5 199.7L107.0 208.2L107.5 216.5L108.0 224.7L108.5 232.6L109.0 240.0L109.5 247.0L110.0 253.4L110.5 259.2L111.0 264.2L111.5 268.4L112.0 271.8L112.5 274.3L113.0 275.9L113.5 276.6L114.0 276.0L114.5 273.8L115.0 269.8L115.5 264.2L116.0 257.1L116.5 248.6L117.0 239.0L117.5 228.4L118.0 217.1L118.5 205.4L119.0 193.3L119.5 181.4L120.0 169.7L120.5 158.5L121.0 148.1L121.5 138.7L122.0 130.5L122.5 123.7L123.0 118.4L123.5 114.8L124.0 112.8L124.5 112.6L125.0 113.5L125.5 115.4L126.0 118.2L126.5 122.0L127.0 126.6L127.5 132.1L128.0 138.3L128.5 145.2L129.0 152.8L129.5 160.8L130.0 169.2L130.5 177.9L131.0 186.8L131.5 195.9L132.0 204.8L132.5 213.7L133.0 222.3L133.5 230.6L134.0 238.4L134.5 245.7L135.0 252.3L135.5 258.3L136.0 263.4L136.5 267.7L137.0 271.2L137.5 273.6L138.0 275.1L138.5 275.6L139.0 274.7L139.5 271.9L140.0 267.3L140.5 261.1L141.0 253.3L141.5 244.2L142.0 234.0L142.5 222.9L143.0 211.1L143.5 199.0L144.0 186.9L144.5 175.0L145.0 163.6L145.5 153.0L146.0 143.4L146.5 135.1L147.0 128.2L147.5 122.9L148.0 119.4L148.5 117.7L149.0 117.8L149.5 118.8L150.0 120.9L150.5 123.8L151.0 127.7L151.5 132.4L152.0 137.8L152.5 144.0L153.0 150.8L153.5 158.2L154.0 166.0L154.5 174.1L155.0 182.5L155.5 191.0L156.0 199.6L156.5 208.0L157.0 216.3L157.5 224.3L158.0 231.8L158.5 238.8L159.0 245.3L159.5 251.0L160.0 256.1L160.5 260.2L161.0 263.6L161.5 266.0L162.0 267.4L162.5 267.9L163.0 267.2L163.5 265.0L164.0 261.5L164.5 256.7L165.0 250.7L165.5 243.5L166.0 235.4L166.5 226.5L167.0 217.0L167.5 207.0L168.0 196.9L168.5 186.6L169.0 176.5L169.5 166.8L170.0 157.7L170.5 149.2L171.0 141.7L171.5 135.2L172.0 129.9L172.5 125.8L173.0 123.1L173.5 121.8L174.0 121.9L174.5 122.9L175.0 124.8L175.5 127.7L176.0 131.4L176.5 135.9L177.0 141.1L177.5 147.1L178.0 153.6L178.5 160.7L179.0 168.2L179.5 176.1L180.0 184.3L180.5 192.5L181.0 200.8L181.5 209.1L182.0 217.2L182.5 225.0L183.0 232.4L183.5 239.4L184.0 245.9L184.5 251.7L185.0 256.8L185.5 261.1L186.0 264.7L186.5 267.3L187.0 269.1L187.5 269.9L188.0 269.7L188.5 268.0L189.0 264.8L189.5 260.1L190.0 254.0L190.5 246.7L191.0 238.3L191.5 229.0L192.0 219.0L192.5 208.5L193.0 197.6L193.5 186.6L194.0 175.8L194.5 165.3L195.0 155.4L195.5 146.3L196.0 138.1L196.5 131.1L197.0 125.3L197.5 120.9L198.0 117.9L198.5 116.5L199.0 116.6L199.5 117.6L200.0 119.7L200.5 122.6L201.0 126.5L201.5 131.2L202.0 136.7L202.5 142.9L203.0 149.8L203.5 157.2L204.0 165.1L204.5 173.4L205.0 181.9L205.5 190.6L206.0 199.3L206.5 208.0L207.0 216.5L207.5 224.8L208.0 232.7L208.5 240.1L209.0 247.0L209.5 253.2L210.0 258.7L210.5 263.4L211.0 267.3L211.5 270.2L212.0 272.3L212.5 273.3L213.0 273.4L213.5 272.0L214.0 269.2L214.5 265.0L215.0 259.4L215.5 252.6L216.0 244.7L216.5 235.8L217.0 226.2L217.5 216.0L218.0 205.4L218.5 194.6L219.0 183.8L219.5 173.3L220.0 163.2L220.5 153.7L221.0 145.0L221.5 137.4L222.0 130.8L222.5 125.5L223.0 121.5L223.5 119.0L224.0 117.9L224.5 118.2L225.0 119.6L225.5 122.0L226.0 125.4L226.5 129.8L227.0 135.0L227.5 141.1L228.0 147.9L228.5 155.4L229.0 163.4L229.5 171.8L230.0 180.6L230.5 189.5L231.0 198.6L231.5 207.5L232.0 216.3L232.5 224.9L233.0 233.0L233.5 240.5L234.0 247.5L234.5 253.7L235.0 259.1L235.5 263.7L236.0 267.3L236.5 269.9L237.0 271.5L237.5 272.0L238.0 271.3L238.5 269.0L239.0 265.4L239.5 260.3L240.0 254.0L240.5 246.6L241.0 238.2L241.5 228.9L242.0 219.0L242.5 208.7L243.0 198.2L243.5 187.6L244.0 177.2L244.5 167.2L245.0 157.8L245.5 149.2L246.0 141.6L246.5 135.0L247.0 129.7L247.5 125.8L248.0 123.3L248.5 122.2L249.0 122.5L249.5 123.8L250.0 125.9L250.5 129.0L251.0 133.0L251.5 137.8L252.0 143.4L252.5 149.6L253.0 156.4L253.5 163.8L254.0 171.6L254.5 179.7L255.0 188.0L255.5 196.5L256.0 204.9L256.5 213.2L257.0 221.3L257.5 229.1L258.0 236.5L258.5 243.3L259.0 249.5L259.5 255.1L260.0 259.9L260.5 263.9L261.0 267.0L261.5 269.1L262.0 270.4L262.5 270.7L263.0 269.6L263.5 267.2L264.0 263.3L264.5 258.1L265.0 251.7L265.5 244.1L266.0 235.7L266.5 226.5L267.0 216.7L267.5 206.6L268.0 196.3L268.5 186.0L269.0 176.0L269.5 166.4L270.0 157.5L270.5 149.4L271.0 142.3L271.5 136.4L272.0 131.7L272.5 128.4L273.0 126.5L273.5 126.0L274.0 126.6L274.5 128.1L275.0 130.5L275.5 133.6L276.0 137.6L276.5 142.3L277.0 147.7L277.5 153.7L278.0 160.2L278.5 167.1L279.0 174.5L279.5 182.1L280.0 189.9L280.5 197.7L281.0 205.6L281.5 213.3L282.0 220.8L282.5 228.0L283.0 234.8L283.5 241.1L284.0 246.9L284.5 252.0L285.0 256.4L285.5 260.0L286.0 262.9L286.5 264.9L287.0 266.0L287.5 266.3L288.0 265.2L288.5 262.7L289.0 258.7L289.5 253.4L290.0 246.8L290.5 239.2L291.0 230.6L291.5 221.2L292.0 211.3L292.5 201.0L293.0 190.5L293.5 180.1L294.0 170.0L294.5 160.4L295.0 151.5L295.5 143.4L296.0 136.4L296.5 130.6L297.0 126.0L297.5 122.9L298.0 121.3L298.5 121.1L299.0 122.0L299.5 123.9L300.0 126.8L300.5 130.6L301.0 135.3L301.5 140.8L302.0 147.0L302.5 154.0L303.0 161.4L303.5 169.4L304.0 177.7L304.5 186.2L305.0 194.9L305.5 203.6L306.0 212.1L306.5 220.5L307.0 228.5L307.5 236.1L308.0 243.1L308.5 249.5L309.0 255.2L309.5 260.0L310.0 264.0L310.5 267.1L311.0 269.2L311.5 270.3L312.0 270.4L312.5 269.0L313.0 266.1L313.5 261.8L314.0 256.1L314.5 249.1L315.0 241.0L315.5 231.9L316.0 222.1L316.5 211.6L317.0 200.8L317.5 189.7L318.0 178.7L318.5 167.9L319.0 157.6L319.5 147.9L320.0 139.0L320.5 131.1L321.0 124.4L321.5 119.0L322.0 114.9L322.5 112.3L323.0 111.2L323.5 111.6L324.0 113.0L324.5 115.5L325.0 119.1L325.5 123.7L326.0 129.2L326.5 135.5L327.0 142.7L327.5 150.5L328.0 158.9L328.5 167.8L329.0 177.0L329.5 186.5L330.0 196.0L330.5 205.5L331.0 214.8L331.5 223.8L332.0 232.5L332.5 240.5L333.0 248.0L333.5 254.7L334.0 260.6L334.5 265.5L335.0 269.5L335.5 272.4L336.0 274.3L336.5 275.1L337.0 274.6L337.5 272.5L338.0 268.9L338.5 263.8L339.0 257.4L339.5 249.7L340.0 240.9L340.5 231.1L341.0 220.7L341.5 209.7L342.0 198.4L342.5 187.0L343.0 175.8L343.5 164.9L344.0 154.5L344.5 145.0L345.0 136.4L345.5 128.9L346.0 122.7L346.5 117.9L347.0 114.6L347.5 112.9L348.0 112.7L348.5 113.6L349.0 115.4L349.5 118.2L350.0 121.9L350.5 126.5L351.0 131.9L351.5 138.0L352.0 144.9L352.5 152.3L353.0 160.2L353.5 168.5L354.0 177.1L354.5 186.0L355.0 194.9L355.5 203.8L356.0 212.6L356.5 221.2L357.0 229.4L357.5 237.3L358.0 244.6L358.5 251.2L359.0 257.2L359.5 262.5L360.0 266.9L360.5 270.4L361.0 273.0L361.5 274.7L362.0 275.4L362.5 275.0L363.0 273.2L363.5 270.2L364.0 265.9L364.5 260.5L365.0 254.0L365.5 246.5L366.0 238.1L366.5 229.1L367.0 219.6L367.5 209.7L368.0 199.6L368.5 189.4L369.0 179.5L369.5 169.8L370.0 160.7L370.5 152.2L371.0 144.6L371.5 137.8L372.0 132.2L372.5 127.6L373.0 124.4L373.5 122.4L374.0 121.7L374.5 122.2L375.0 123.7L375.5 126.2L376.0 129.6L376.5 134.0L377.0 139.1L377.5 145.1L378.0 151.7L378.5 158.9L379.0 166.6L379.5 174.6L380.0 182.9L380.5 191.4L381.0 199.9L381.5 208.3L382.0 216.5L382.5 224.3L383.0 231.7L383.5 238.6L384.0 244.8L384.5 250.3L385.0 254.9L385.5 258.7L386.0 261.6" fill="none" stroke="#1c0806" stroke-width="0.75"/>
</g>
<path d="M75.5 75.5H386.5V308.5H75.5ZM75.5 75.5v-3M75.5 308.5v3M75.5 308.5h-3M386.5 308.5h3M106.6 75.5v-3M106.6 308.5v3M75.5 285.2h-3M386.5 285.2h3M137.7 75.5v-3M137.7 308.5v3M75.5 261.9h-3M386.5 261.9h3M168.8 75.5v-3M168.8 308.5v3M75.5 238.6h-3M386.5 238.6h3M199.9 75.5v-3M199.9 308.5v3M75.5 215.3h-3M386.5 215.3h3M231.0 75.5v-3M231.0 308.5v3M75.5 192.0h-3M386.5 192.0h3M262.1 75.5v-3M262.1 308.5v3M75.5 168.7h-3M386.5 168.7h3M293.2 75.5v-3M293.2 308.5v3M75.5 145.4h-3M386.5 145.4h3M324.3 75.5v-3M324.3 308.5v3M75.5 122.1h-3M386.5 122.1h3M355.4 75.5v-3M355.4 308.5v3M75.5 98.8h-3M386.5 98.8h3M386.5 75.5v-3M386.5 308.5v3M75.5 75.5h-3M386.5 75.5h3" fill="none" stroke="#24100a" stroke-width="0.75"/>
<text x="74.6" y="321.1" text-anchor="middle" class="tk" font-size="9">20</text>
<text x="68.3" y="311.7" text-anchor="end" class="ty">0</text>
<text x="136.8" y="321.1" text-anchor="middle" class="tk" font-size="9">21</text>
<text x="68.3" y="265.1" text-anchor="end" class="ty">1</text>
<text x="199.0" y="321.1" text-anchor="middle" class="tk" font-size="9">22</text>
<text x="68.3" y="218.5" text-anchor="end" class="ty">2</text>
<text x="261.2" y="321.1" text-anchor="middle" class="tk" font-size="9">23</text>
<text x="68.3" y="171.9" text-anchor="end" class="ty">3</text>
<text x="323.4" y="321.1" text-anchor="middle" class="tk" font-size="9">24</text>
<text x="68.3" y="125.3" text-anchor="end" class="ty">4</text>
<text x="385.6" y="321.1" text-anchor="middle" class="tk" font-size="9">25</text>
<text x="68.3" y="78.7" text-anchor="end" class="ty">5</text>
<!-- right panel -->
<g shape-rendering="crispEdges"><rect x="434" y="78" width="4" height="228" fill="url(#c0)"/><rect x="438" y="78" width="4" height="228" fill="url(#c1)"/><rect x="442" y="78" width="4" height="228" fill="url(#c2)"/><rect x="446" y="78" width="4" height="228" fill="url(#c3)"/><rect x="450" y="78" width="4" height="228" fill="url(#c4)"/><rect x="454" y="78" width="4" height="228" fill="url(#c5)"/><rect x="458" y="78" width="4" height="228" fill="url(#c6)"/><rect x="462" y="78" width="4" height="228" fill="url(#c7)"/><rect x="466" y="78" width="4" height="228" fill="url(#c8)"/><rect x="470" y="78" width="4" height="228" fill="url(#c9)"/><rect x="474" y="78" width="4" height="228" fill="url(#c10)"/><rect x="478" y="78" width="4" height="228" fill="url(#c11)"/><rect x="482" y="78" width="4" height="228" fill="url(#c12)"/><rect x="486" y="78" width="4" height="228" fill="url(#c13)"/><rect x="490" y="78" width="4" height="228" fill="url(#c14)"/><rect x="494" y="78" width="4" height="228" fill="url(#c15)"/><rect x="498" y="78" width="4" height="228" fill="url(#c16)"/><rect x="502" y="78" width="4" height="228" fill="url(#c17)"/><rect x="506" y="78" width="4" height="228" fill="url(#c18)"/><rect x="510" y="78" width="4" height="228" fill="url(#c19)"/><rect x="514" y="78" width="4" height="228" fill="url(#c20)"/><rect x="518" y="78" width="4" height="228" fill="url(#c21)"/><rect x="522" y="78" width="4" height="228" fill="url(#c22)"/><rect x="526" y="78" width="4" height="228" fill="url(#c23)"/><rect x="530" y="78" width="4" height="228" fill="url(#c24)"/><rect x="534" y="78" width="4" height="228" fill="url(#c25)"/><rect x="538" y="78" width="4" height="228" fill="url(#c26)"/><rect x="542" y="78" width="4" height="228" fill="url(#c27)"/><rect x="546" y="78" width="4" height="228" fill="url(#c28)"/><rect x="550" y="78" width="4" height="228" fill="url(#c29)"/><rect x="554" y="78" width="4" height="228" fill="url(#c30)"/><rect x="558" y="78" width="4" height="228" fill="url(#c31)"/><rect x="562" y="78" width="4" height="228" fill="url(#c32)"/><rect x="566" y="78" width="4" height="228" fill="url(#c33)"/><rect x="570" y="78" width="4" height="228" fill="url(#c34)"/><rect x="574" y="78" width="4" height="228" fill="url(#c35)"/><rect x="578" y="78" width="4" height="228" fill="url(#c36)"/><rect x="582" y="78" width="4" height="228" fill="url(#c37)"/><rect x="586" y="78" width="4" height="228" fill="url(#c38)"/><rect x="590" y="78" width="4" height="228" fill="url(#c39)"/><rect x="594" y="78" width="4" height="228" fill="url(#c40)"/><rect x="598" y="78" width="4" height="228" fill="url(#c41)"/><rect x="602" y="78" width="4" height="228" fill="url(#c42)"/><rect x="606" y="78" width="4" height="228" fill="url(#c43)"/><rect x="610" y="78" width="4" height="228" fill="url(#c44)"/><rect x="614" y="78" width="4" height="228" fill="url(#c45)"/><rect x="618" y="78" width="4" height="228" fill="url(#c46)"/><rect x="622" y="78" width="4" height="228" fill="url(#c47)"/><rect x="626" y="78" width="4" height="228" fill="url(#c48)"/><rect x="630" y="78" width="4" height="228" fill="url(#c49)"/><rect x="634" y="78" width="4" height="228" fill="url(#c50)"/><rect x="638" y="78" width="4" height="228" fill="url(#c51)"/><rect x="642" y="78" width="4" height="228" fill="url(#c52)"/><rect x="646" y="78" width="4" height="228" fill="url(#c53)"/><rect x="650" y="78" width="4" height="228" fill="url(#c54)"/><rect x="654" y="78" width="4" height="228" fill="url(#c55)"/><rect x="658" y="78" width="4" height="228" fill="url(#c56)"/><rect x="662" y="78" width="4" height="228" fill="url(#c57)"/><rect x="666" y="78" width="4" height="228" fill="url(#c58)"/><rect x="670" y="78" width="4" height="228" fill="url(#c59)"/><rect x="674" y="78" width="4" height="228" fill="url(#c60)"/><rect x="678" y="78" width="4" height="228" fill="url(#c61)"/><rect x="682" y="78" width="4" height="228" fill="url(#c62)"/><rect x="686" y="78" width="4" height="228" fill="url(#c63)"/><rect x="690" y="78" width="4" height="228" fill="url(#c64)"/><rect x="694" y="78" width="4" height="228" fill="url(#c65)"/><rect x="698" y="78" width="4" height="228" fill="url(#c66)"/><rect x="702" y="78" width="4" height="228" fill="url(#c67)"/><rect x="706" y="78" width="4" height="228" fill="url(#c68)"/><rect x="710" y="78" width="4" height="228" fill="url(#c69)"/><rect x="714" y="78" width="4" height="228" fill="url(#c70)"/><rect x="718" y="78" width="4" height="228" fill="url(#c71)"/><rect x="722" y="78" width="4" height="228" fill="url(#c72)"/><rect x="726" y="78" width="4" height="228" fill="url(#c73)"/><rect x="730" y="78" width="4" height="228" fill="url(#c74)"/><rect x="734" y="78" width="4" height="228" fill="url(#c75)"/><rect x="738" y="78" width="4" height="228" fill="url(#c76)"/><rect x="742" y="78" width="4" height="228" fill="url(#c77)"/></g><g clip-path="url(#rc)"><g mask="url(#vmask)"><rect x="426.7" y="78" width="25" height="60" fill="url(#s0)"/><rect x="451.6" y="78" width="25" height="60" fill="url(#s1)"/><rect x="476.5" y="78" width="25" height="60" fill="url(#s2)"/><rect x="500.9" y="78" width="25" height="60" fill="url(#s3)"/><rect x="526.0" y="78" width="25" height="60" fill="url(#s4)"/><rect x="551.1" y="78" width="25" height="60" fill="url(#s5)"/><rect x="576.6" y="78" width="25" height="60" fill="url(#s6)"/><rect x="601.2" y="78" width="25" height="60" fill="url(#s7)"/><rect x="626.0" y="78" width="25" height="60" fill="url(#s8)"/><rect x="651.0" y="78" width="25" height="60" fill="url(#s9)"/><rect x="675.9" y="78" width="25" height="60" fill="url(#s10)"/><rect x="700.7" y="78" width="25" height="60" fill="url(#s11)"/><rect x="727.0" y="78" width="25" height="60" fill="url(#s12)"/><rect x="751.9" y="78" width="25" height="60" fill="url(#s13)"/></g><rect x="434" y="78" width="312" height="26" fill="url(#hz)"/></g>
<g clip-path="url(#rc)"><path d="M434.0 131.4L434.5 134.1L435.0 137.6L435.5 141.9L436.0 146.9L436.5 152.5L437.0 158.7L437.5 165.4L438.0 172.5L438.5 179.9L439.0 187.5L439.5 195.2L440.0 202.9L440.5 210.5L441.0 217.9L441.5 224.9L442.0 231.6L442.5 237.8L443.0 243.5L443.5 248.5L444.0 252.7L444.5 256.3L445.0 259.0L445.5 260.8L446.0 261.8L446.5 261.8L447.0 260.6L447.5 258.1L448.0 254.3L448.5 249.4L449.0 243.3L449.6 236.3L450.1 228.4L450.6 219.8L451.1 210.7L451.6 201.3L452.1 191.8L452.6 182.3L453.1 173.0L453.6 164.1L454.1 155.8L454.6 148.2L455.1 141.6L455.6 135.9L456.1 131.4L456.6 128.1L457.1 126.1L457.6 125.4L458.1 125.9L458.6 127.3L459.1 129.6L459.6 132.7L460.1 136.7L460.6 141.5L461.1 147.0L461.6 153.1L462.1 159.8L462.6 167.0L463.1 174.7L463.6 182.6L464.1 190.8L464.6 199.0L465.1 207.3L465.6 215.5L466.1 223.5L466.6 231.2L467.1 238.5L467.6 245.3L468.1 251.6L468.6 257.2L469.1 262.1L469.6 266.3L470.1 269.6L470.6 272.1L471.1 273.6L471.6 274.3L472.1 273.7L472.6 271.5L473.1 267.6L473.6 262.1L474.1 255.2L474.6 246.9L475.1 237.5L475.6 227.2L476.1 216.1L476.6 204.6L477.1 192.8L477.6 181.1L478.1 169.6L478.6 158.7L479.1 148.5L479.6 139.3L480.1 131.3L480.7 124.7L481.2 119.5L481.7 115.9L482.2 114.0L482.7 113.8L483.2 114.7L483.7 116.5L484.2 119.3L484.7 123.0L485.2 127.5L485.7 132.9L486.2 139.0L486.7 145.7L487.2 153.1L487.7 160.9L488.2 169.2L488.7 177.7L489.2 186.5L489.7 195.3L490.2 204.1L490.7 212.7L491.2 221.2L491.7 229.3L492.2 236.9L492.7 244.0L493.2 250.6L493.7 256.4L494.2 261.4L494.7 265.6L495.2 269.0L495.7 271.4L496.2 272.8L496.7 273.3L497.2 272.4L497.7 269.7L498.2 265.2L498.7 259.1L499.2 251.5L499.7 242.6L500.2 232.6L500.7 221.7L501.2 210.2L501.7 198.4L502.2 186.5L502.7 174.8L503.2 163.7L503.7 153.3L504.2 143.9L504.7 135.8L505.2 129.1L505.7 123.9L506.2 120.5L506.7 118.8L507.2 118.9L507.7 119.9L508.2 121.9L508.7 124.8L509.2 128.5L509.7 133.1L510.2 138.5L510.7 144.5L511.2 151.2L511.8 158.4L512.3 166.0L512.8 174.0L513.3 182.2L513.8 190.6L514.3 198.9L514.8 207.2L515.3 215.3L515.8 223.1L516.3 230.4L516.8 237.3L517.3 243.6L517.8 249.3L518.3 254.2L518.8 258.3L519.3 261.5L519.8 263.9L520.3 265.3L520.8 265.8L521.3 265.1L521.8 263.0L522.3 259.5L522.8 254.8L523.3 248.9L523.8 241.9L524.3 234.0L524.8 225.3L525.3 216.0L525.8 206.2L526.3 196.2L526.8 186.2L527.3 176.4L527.8 166.9L528.3 157.9L528.8 149.6L529.3 142.3L529.8 135.9L530.3 130.7L530.8 126.7L531.3 124.1L531.8 122.8L532.3 122.9L532.8 123.9L533.3 125.8L533.8 128.5L534.3 132.2L534.8 136.6L535.3 141.7L535.8 147.5L536.3 153.9L536.8 160.9L537.3 168.3L537.8 176.0L538.3 183.9L538.8 192.0L539.3 200.1L539.8 208.2L540.3 216.1L540.8 223.8L541.3 231.1L541.8 237.9L542.3 244.2L542.9 249.9L543.4 254.9L543.9 259.2L544.4 262.6L544.9 265.2L545.4 266.9L545.9 267.8L546.4 267.6L546.9 265.9L547.4 262.7L547.9 258.1L548.4 252.2L548.9 245.1L549.4 236.8L549.9 227.7L550.4 217.9L550.9 207.6L551.4 197.0L551.9 186.2L552.4 175.7L552.9 165.4L553.4 155.7L553.9 146.8L554.4 138.8L554.9 131.9L555.4 126.2L555.9 121.9L556.4 119.0L556.9 117.6L557.4 117.7L557.9 118.7L558.4 120.7L558.9 123.6L559.4 127.4L559.9 132.0L560.4 137.4L560.9 143.5L561.4 150.2L561.9 157.4L562.4 165.2L562.9 173.3L563.4 181.6L563.9 190.1L564.4 198.7L564.9 207.2L565.4 215.5L565.9 223.6L566.4 231.3L566.9 238.6L567.4 245.3L567.9 251.4L568.4 256.8L568.9 261.4L569.4 265.2L569.9 268.0L570.4 270.0L570.9 271.1L571.4 271.1L571.9 269.8L572.4 267.1L572.9 262.9L573.4 257.4L574.0 250.8L574.5 243.1L575.0 234.4L575.5 225.0L576.0 215.0L576.5 204.6L577.0 194.1L577.5 183.5L578.0 173.2L578.5 163.3L579.0 154.0L579.5 145.6L580.0 138.0L580.5 131.6L581.0 126.4L581.5 122.5L582.0 120.0L582.5 119.0L583.0 119.3L583.5 120.7L584.0 123.0L584.5 126.3L585.0 130.6L585.5 135.8L586.0 141.7L586.5 148.4L587.0 155.7L587.5 163.5L588.0 171.8L588.5 180.3L589.0 189.1L589.5 197.9L590.0 206.7L590.5 215.3L591.0 223.6L591.5 231.6L592.0 239.0L592.5 245.8L593.0 251.9L593.5 257.2L594.0 261.6L594.5 265.2L595.0 267.7L595.5 269.3L596.0 269.8L596.5 269.1L597.0 266.9L597.5 263.3L598.0 258.4L598.5 252.2L599.0 244.9L599.5 236.7L600.0 227.6L600.5 218.0L601.0 207.9L601.5 197.5L602.0 187.2L602.5 177.0L603.0 167.2L603.5 158.1L604.0 149.6L604.5 142.2L605.0 135.8L605.6 130.6L606.1 126.7L606.6 124.3L607.1 123.2L607.6 123.5L608.1 124.7L608.6 126.9L609.1 129.9L609.6 133.8L610.1 138.5L610.6 143.9L611.1 150.0L611.6 156.7L612.1 163.9L612.6 171.5L613.1 179.5L613.6 187.6L614.1 195.9L614.6 204.1L615.1 212.3L615.6 220.2L616.1 227.8L616.6 235.0L617.1 241.7L617.6 247.8L618.1 253.2L618.6 257.9L619.1 261.8L619.6 264.9L620.1 267.0L620.6 268.2L621.1 268.5L621.6 267.5L622.1 265.0L622.6 261.2L623.1 256.2L623.6 249.9L624.1 242.5L624.6 234.3L625.1 225.3L625.6 215.7L626.1 205.8L626.6 195.7L627.1 185.6L627.6 175.8L628.1 166.5L628.6 157.8L629.1 149.8L629.6 142.9L630.1 137.1L630.6 132.5L631.1 129.2L631.6 127.4L632.1 126.9L632.6 127.5L633.1 129.0L633.6 131.3L634.1 134.4L634.6 138.3L635.1 142.9L635.6 148.1L636.1 154.0L636.7 160.4L637.2 167.2L637.7 174.3L638.2 181.8L638.7 189.4L639.2 197.1L639.7 204.8L640.2 212.3L640.7 219.7L641.2 226.7L641.7 233.4L642.2 239.6L642.7 245.2L643.2 250.2L643.7 254.5L644.2 258.1L644.7 260.8L645.2 262.8L645.7 263.9L646.2 264.2L646.7 263.1L647.2 260.7L647.7 256.8L648.2 251.6L648.7 245.2L649.2 237.7L649.7 229.2L650.2 220.1L650.7 210.4L651.2 200.3L651.7 190.0L652.2 179.9L652.7 170.0L653.2 160.6L653.7 151.8L654.2 143.9L654.7 137.1L655.2 131.4L655.7 127.0L656.2 123.9L656.7 122.3L657.2 122.1L657.7 123.0L658.2 124.9L658.7 127.7L659.2 131.4L659.7 136.0L660.2 141.4L660.7 147.5L661.2 154.3L661.7 161.6L662.2 169.4L662.7 177.5L663.2 185.8L663.7 194.3L664.2 202.8L664.7 211.2L665.2 219.4L665.7 227.2L666.2 234.7L666.7 241.5L667.2 247.8L667.8 253.3L668.3 258.1L668.8 262.0L669.3 265.0L669.8 267.1L670.3 268.1L670.8 268.2L671.3 266.8L671.8 264.0L672.3 259.8L672.8 254.2L673.3 247.4L673.8 239.5L674.3 230.6L674.8 221.0L675.3 210.7L675.8 200.1L676.3 189.3L676.8 178.5L677.3 167.9L677.8 157.8L678.3 148.3L678.8 139.6L679.3 131.9L679.8 125.3L680.3 120.0L680.8 116.1L681.3 113.5L681.8 112.5L682.3 112.8L682.8 114.2L683.3 116.7L683.8 120.1L684.3 124.6L684.8 130.0L685.3 136.3L685.8 143.3L686.3 150.9L686.8 159.2L687.3 167.8L687.8 176.9L688.3 186.1L688.8 195.4L689.3 204.7L689.8 213.8L690.3 222.7L690.8 231.1L691.3 239.0L691.8 246.3L692.3 252.8L692.8 258.6L693.3 263.4L693.8 267.3L694.3 270.2L694.8 272.0L695.3 272.8L695.8 272.3L696.3 270.3L696.8 266.8L697.3 261.8L697.8 255.5L698.3 247.9L698.9 239.3L699.4 229.8L699.9 219.6L700.4 208.8L700.9 197.8L701.4 186.6L701.9 175.6L702.4 165.0L702.9 154.9L703.4 145.5L703.9 137.1L704.4 129.8L704.9 123.7L705.4 119.0L705.9 115.8L706.4 114.1L706.9 113.9L707.4 114.7L707.9 116.6L708.4 119.3L708.9 122.9L709.4 127.4L709.9 132.7L710.4 138.7L710.9 145.4L711.4 152.6L711.9 160.4L712.4 168.5L712.9 177.0L713.4 185.6L713.9 194.3L714.4 203.1L714.9 211.7L715.4 220.1L715.9 228.1L716.4 235.8L716.9 242.9L717.4 249.5L717.9 255.3L718.4 260.5L718.9 264.8L719.4 268.2L719.9 270.8L720.4 272.4L720.9 273.1L721.4 272.7L721.9 271.0L722.4 268.0L722.9 263.8L723.4 258.5L723.9 252.1L724.4 244.8L724.9 236.7L725.4 227.8L725.9 218.5L726.4 208.8L726.9 198.9L727.4 189.0L727.9 179.2L728.4 169.8L728.9 160.9L729.4 152.6L730.0 145.1L730.5 138.5L731.0 132.9L731.5 128.5L732.0 125.3L732.5 123.4L733.0 122.7L733.5 123.2L734.0 124.7L734.5 127.1L735.0 130.5L735.5 134.7L736.0 139.8L736.5 145.6L737.0 152.0L737.5 159.1L738.0 166.6L738.5 174.5L739.0 182.6L739.5 190.9L740.0 199.2L740.5 207.4L741.0 215.4L741.5 223.1L742.0 230.3L742.5 237.1L743.0 243.1L743.5 248.5L744.0 253.1L744.5 256.8L745.0 259.6" fill="none" stroke="#151515" stroke-width="0.75"/></g>
<path d="M433.5 77.5H745.5V305.5H433.5ZM433.5 77.5v-3M433.5 305.5v3M433.5 305.5h-3M745.5 305.5h3M464.7 77.5v-3M464.7 305.5v3M433.5 282.7h-3M745.5 282.7h3M495.9 77.5v-3M495.9 305.5v3M433.5 259.9h-3M745.5 259.9h3M527.1 77.5v-3M527.1 305.5v3M433.5 237.1h-3M745.5 237.1h3M558.3 77.5v-3M558.3 305.5v3M433.5 214.3h-3M745.5 214.3h3M589.5 77.5v-3M589.5 305.5v3M433.5 191.5h-3M745.5 191.5h3M620.7 77.5v-3M620.7 305.5v3M433.5 168.7h-3M745.5 168.7h3M651.9 77.5v-3M651.9 305.5v3M433.5 145.9h-3M745.5 145.9h3M683.1 77.5v-3M683.1 305.5v3M433.5 123.1h-3M745.5 123.1h3M714.3 77.5v-3M714.3 305.5v3M433.5 100.3h-3M745.5 100.3h3M745.5 77.5v-3M745.5 305.5v3M433.5 77.5h-3M745.5 77.5h3" fill="none" stroke="#24100a" stroke-width="0.75"/>
<text x="433.3" y="318.1" text-anchor="middle" class="tk" font-size="9.5">20</text>
<text x="426.3" y="308.7" text-anchor="end" class="ty">0</text>
<text x="495.7" y="318.1" text-anchor="middle" class="tk" font-size="9.5">21</text>
<text x="426.3" y="263.1" text-anchor="end" class="ty">1</text>
<text x="558.1" y="318.1" text-anchor="middle" class="tk" font-size="9.5">22</text>
<text x="426.3" y="217.5" text-anchor="end" class="ty">2</text>
<text x="620.5" y="318.1" text-anchor="middle" class="tk" font-size="9.5">23</text>
<text x="426.3" y="171.9" text-anchor="end" class="ty">3</text>
<text x="682.9" y="318.1" text-anchor="middle" class="tk" font-size="9.5">24</text>
<text x="426.3" y="126.3" text-anchor="end" class="ty">4</text>
<text x="745.3" y="318.1" text-anchor="middle" class="tk" font-size="9.5">25</text>
<text x="426.3" y="80.7" text-anchor="end" class="ty">5</text>
<!-- labels -->
<text class="lb" x="124" y="50.3" letter-spacing="0.015">Intra-wave "Frequency Modulation"</text>
<text class="lb" x="469" y="49.7" style="font-size:16.55px">Harmonics related to non-linearity</text>
<text class="lb" x="640.5" y="362.9">Bad Resolution</text>
<text class="lb" x="367" y="362.9">Time (sec)</text>
<text class="lb" x="80.3" y="376.1" style="font-size:17px">Signal</text>
<text class="lb" style="font-size:16.8px" transform="translate(43.7 245.2) rotate(-90)">Frequency (Hz)</text>
<!-- arrows -->
<line x1="265.1" y1="66.2" x2="289.6" y2="167.7" stroke="#000" stroke-width="1.6"/><polygon points="291.6,176 285.0,168.9 294.2,166.6" fill="#000"/>
<line x1="96.6" y1="351" x2="132.4" y2="269.2" stroke="#000" stroke-width="1.6"/><polygon points="135.5,262.1 136.4,271.0 128.4,267.5" fill="#000"/>
<line x1="509.5" y1="58.5" x2="482.1" y2="80.7" stroke="#000" stroke-width="1.6"/><polygon points="475.5,86.1 479.3,77.2 484.9,84.2" fill="#000"/>
<line x1="497.3" y1="66.8" x2="497.3" y2="77.6" stroke="#000" stroke-width="1.6"/><polygon points="497.3,86.1 492.8,77.6 501.8,77.6" fill="#000"/>
<line x1="403.7" y1="250.7" x2="443.2" y2="193.8" stroke="#000" stroke-width="1.6"/><polygon points="447.6,187.4 446.7,196.3 439.6,191.3" fill="#000"/>
<line x1="403.7" y1="250.7" x2="643.2" y2="361.7" stroke="#000" stroke-width="1.6"/>
</svg>
</body></html>
